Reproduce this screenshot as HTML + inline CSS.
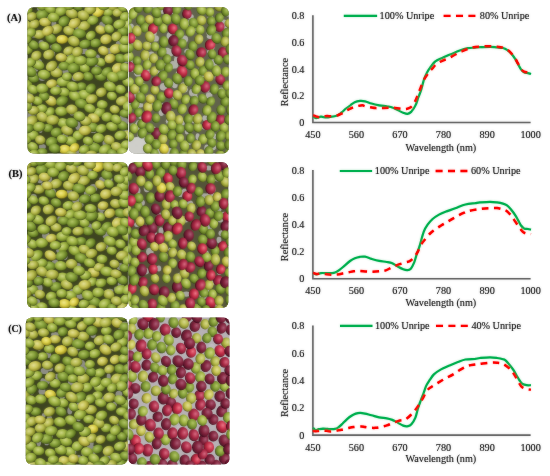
<!DOCTYPE html>
<html><head><meta charset="utf-8"><style>
html,body{margin:0;padding:0;background:#fff;}
body{width:550px;height:476px;overflow:hidden;position:relative;}
svg{position:absolute;left:0;top:0;display:block;will-change:transform;}

text{font-family:"Liberation Serif",serif;font-size:10.2px;fill:#2e2e2e;stroke:#2e2e2e;stroke-width:0.12px;}
</style></head><body>
<svg width="550" height="476" viewBox="0 0 550 476">
<defs>
<radialGradient id="gA" cx="0.42" cy="0.38" r="0.62"><stop offset="0" stop-color="#ccd684"/><stop offset="0.5" stop-color="#a2b646"/><stop offset="0.85" stop-color="#728628"/><stop offset="1" stop-color="#465418"/></radialGradient>
<radialGradient id="gB" cx="0.42" cy="0.38" r="0.62"><stop offset="0" stop-color="#b0c466"/><stop offset="0.5" stop-color="#849e38"/><stop offset="0.85" stop-color="#5c7222"/><stop offset="1" stop-color="#3a4a14"/></radialGradient>
<radialGradient id="gC" cx="0.42" cy="0.38" r="0.62"><stop offset="0" stop-color="#d8d88e"/><stop offset="0.5" stop-color="#b8bc50"/><stop offset="0.85" stop-color="#868c2a"/><stop offset="1" stop-color="#545a18"/></radialGradient>
<radialGradient id="gD" cx="0.42" cy="0.38" r="0.62"><stop offset="0" stop-color="#e2de94"/><stop offset="0.5" stop-color="#c8c456"/><stop offset="0.85" stop-color="#98942e"/><stop offset="1" stop-color="#626018"/></radialGradient>
<radialGradient id="gE" cx="0.42" cy="0.38" r="0.62"><stop offset="0" stop-color="#f0e88a"/><stop offset="0.5" stop-color="#dcd04a"/><stop offset="0.85" stop-color="#aa9e26"/><stop offset="1" stop-color="#6e6618"/></radialGradient>
<radialGradient id="rA" cx="0.42" cy="0.34" r="0.62"><stop offset="0" stop-color="#d66a80"/><stop offset="0.5" stop-color="#ac2c48"/><stop offset="0.85" stop-color="#801a32"/><stop offset="1" stop-color="#4e0e1c"/></radialGradient>
<radialGradient id="rB" cx="0.42" cy="0.34" r="0.62"><stop offset="0" stop-color="#aa5c74"/><stop offset="0.5" stop-color="#84263f"/><stop offset="0.85" stop-color="#60162c"/><stop offset="1" stop-color="#3e0a1a"/></radialGradient>
<radialGradient id="rC" cx="0.42" cy="0.34" r="0.62"><stop offset="0" stop-color="#ec7686"/><stop offset="0.5" stop-color="#c6304a"/><stop offset="0.85" stop-color="#941c32"/><stop offset="1" stop-color="#5a0e1c"/></radialGradient>
<filter id="bl" x="-2%" y="-2%" width="104%" height="104%"><feGaussianBlur stdDeviation="1"/></filter>
<filter id="sb" x="-1%" y="-1%" width="102%" height="102%"><feGaussianBlur stdDeviation="0.35"/></filter>
<clipPath id="cLA"><rect x="27.5" y="7.2" width="100.5" height="146.4" rx="6" ry="6"/></clipPath>
<clipPath id="cRA"><rect x="128.8" y="7.2" width="100" height="146.4" rx="6" ry="6"/></clipPath>
<clipPath id="cLB"><rect x="27.0" y="162.2" width="100.9" height="145.7" rx="6" ry="6"/></clipPath>
<clipPath id="cRB"><rect x="128.3" y="162.2" width="100" height="145.7" rx="6" ry="6"/></clipPath>
<clipPath id="cLC"><rect x="25.8" y="317.6" width="101.8" height="147" rx="6" ry="6"/></clipPath>
<clipPath id="cRC"><rect x="128.5" y="317.6" width="101" height="147" rx="6" ry="6"/></clipPath>
</defs>
<defs><g id="pLA"><rect x="25.5" y="5.2" width="104.5" height="150.4" fill="#3e4420"/><ellipse cx="122.8" cy="118.5" rx="3.1" ry="3.9" fill="#8e8e84"/><ellipse cx="125.6" cy="61.4" rx="3" ry="2.2" fill="#8e8e84"/><ellipse cx="102.1" cy="152.2" rx="2.6" ry="2.2" fill="#8e8e84"/><ellipse cx="125.7" cy="121.4" rx="2.6" ry="3.5" fill="#8e8e84"/><ellipse cx="39.6" cy="8.2" rx="2.5" ry="2.9" fill="#8e8e84"/><ellipse cx="66.6" cy="68.2" rx="2" ry="3.6" fill="#8e8e84"/><ellipse cx="76.1" cy="152.5" rx="3.1" ry="3.3" fill="#8e8e84"/><ellipse cx="41.2" cy="42.6" rx="2.6" ry="2.7" fill="#8e8e84"/><ellipse cx="52.2" cy="46.7" rx="2.1" ry="2" fill="#8e8e84"/><ellipse cx="75.1" cy="78.1" rx="3.5" ry="2.8" fill="#8e8e84"/><ellipse cx="56.1" cy="86.6" rx="3.5" ry="2" fill="#8e8e84"/><ellipse cx="126.9" cy="39.4" rx="3.9" ry="2.2" fill="#8e8e84"/><ellipse cx="42.3" cy="78.8" rx="3.2" ry="2.1" fill="#8e8e84"/><ellipse cx="53.9" cy="24" rx="2.4" ry="3.7" fill="#8e8e84"/><ellipse cx="77.6" cy="125.3" rx="2.9" ry="3.7" fill="#8e8e84"/><ellipse cx="76.1" cy="54.3" rx="2.5" ry="3.4" fill="#8e8e84"/><ellipse cx="84.4" cy="51.2" rx="3.6" ry="2.9" fill="#8e8e84"/><ellipse cx="33.3" cy="113.3" rx="3.3" ry="2.5" fill="#8e8e84"/><ellipse cx="95.2" cy="14.8" rx="2.8" ry="2.3" fill="#8e8e84"/><ellipse cx="97.9" cy="64.6" rx="3.6" ry="3.6" fill="#8e8e84"/><ellipse cx="77.7" cy="127" rx="2.1" ry="2.9" fill="#8e8e84"/><ellipse cx="54.8" cy="140.6" rx="2.5" ry="2.1" fill="#8e8e84"/><ellipse cx="49.6" cy="17.8" rx="3.3" ry="2.3" fill="#8e8e84"/><ellipse cx="38.9" cy="62.6" rx="3.1" ry="3.6" fill="#8e8e84"/><ellipse cx="42.4" cy="146.8" rx="3.5" ry="2.8" fill="#8e8e84"/><ellipse cx="111.2" cy="81.6" rx="2.3" ry="2.5" fill="#8e8e84"/><ellipse cx="59.9" cy="68.3" rx="2.9" ry="2.7" fill="#8e8e84"/><ellipse cx="53" cy="53.1" rx="2.1" ry="3.2" fill="#8e8e84"/><ellipse cx="125.1" cy="131.9" rx="3.4" ry="2.5" fill="#8e8e84"/><ellipse cx="35.6" cy="69.8" rx="2.7" ry="2.1" fill="#8e8e84"/><ellipse cx="91.7" cy="121.4" rx="3.6" ry="3.2" fill="#8e8e84"/><ellipse cx="86.7" cy="146.5" rx="3.3" ry="3" fill="#8e8e84"/><ellipse cx="91.7" cy="144.3" rx="3.9" ry="2.4" fill="#8e8e84"/><ellipse cx="62.9" cy="7.2" rx="3" ry="2.8" fill="#8e8e84"/><ellipse cx="108.5" cy="142.1" rx="3.7" ry="2.2" fill="#8e8e84"/><ellipse cx="80.9" cy="95.4" rx="3.6" ry="2.5" fill="#8e8e84"/><ellipse cx="109" cy="50.9" rx="3.9" ry="2.8" fill="#8e8e84"/><ellipse cx="98" cy="150.4" rx="2" ry="2.2" fill="#8e8e84"/><ellipse cx="107.3" cy="116.5" rx="3.9" ry="3.4" fill="#8e8e84"/><ellipse cx="34.3" cy="34.7" rx="4" ry="3" fill="#8e8e84"/><ellipse cx="74.7" cy="40.2" rx="3.2" ry="2.1" fill="#8e8e84"/><ellipse cx="44.3" cy="19.7" rx="2.9" ry="2.5" fill="#8e8e84"/><ellipse cx="63.7" cy="126.8" rx="2.3" ry="2.4" fill="#8e8e84"/><ellipse cx="72" cy="112.8" rx="2.4" ry="2.8" fill="#8e8e84"/><ellipse cx="119.8" cy="43.4" rx="4" ry="2.7" fill="#8e8e84"/><ellipse cx="65.6" cy="71.3" rx="3.2" ry="3.3" fill="#8e8e84"/><ellipse cx="105.5" cy="142.9" rx="3" ry="3.8" fill="#8e8e84"/><ellipse cx="78.7" cy="28.9" rx="3.1" ry="2.4" fill="#8e8e84"/><ellipse cx="93.4" cy="130.7" rx="3" ry="2.4" fill="#8e8e84"/><ellipse cx="96.1" cy="57.1" rx="3.8" ry="2.9" fill="#8e8e84"/><ellipse cx="100.1" cy="73" rx="2.7" ry="3.7" fill="#8e8e84"/><ellipse cx="80.8" cy="32.9" rx="3.4" ry="2.8" fill="#8e8e84"/><ellipse cx="40.6" cy="129.3" rx="2" ry="3.6" fill="#8e8e84"/><ellipse cx="114.6" cy="119.4" rx="2.2" ry="2.8" fill="#8e8e84"/><ellipse cx="78.5" cy="94.5" rx="4" ry="3" fill="#8e8e84"/><ellipse cx="29.8" cy="93.7" rx="2.9" ry="2.7" fill="#8e8e84"/><ellipse cx="33.8" cy="75.7" rx="3.6" ry="3.6" fill="#8e8e84"/><ellipse cx="106.1" cy="38.4" rx="3.7" ry="2.5" fill="#8e8e84"/><ellipse cx="59.4" cy="12.9" rx="3.7" ry="2.2" fill="#8e8e84"/><ellipse cx="27.6" cy="8.5" rx="3.7" ry="2.3" fill="#8e8e84"/><ellipse cx="29.4" cy="115.9" rx="2.3" ry="2.9" fill="#8e8e84"/><ellipse cx="65.3" cy="22" rx="2.3" ry="3.5" fill="#8e8e84"/><ellipse cx="102.3" cy="25.3" rx="3.2" ry="3.8" fill="#8e8e84"/><ellipse cx="65.1" cy="135.9" rx="2.7" ry="3.4" fill="#8e8e84"/><ellipse cx="55.4" cy="30.1" rx="3.5" ry="3.9" fill="#8e8e84"/><ellipse cx="110.6" cy="79.3" rx="3.4" ry="2.1" fill="#8e8e84"/><ellipse cx="29.3" cy="103.4" rx="2.8" ry="4" fill="#8e8e84"/><ellipse cx="78" cy="27.6" rx="2.5" ry="3.7" fill="#8e8e84"/><ellipse cx="75.2" cy="152" rx="3.2" ry="3.4" fill="#8e8e84"/><ellipse cx="69.7" cy="54.1" rx="3" ry="2.8" fill="#8e8e84"/><ellipse cx="109" cy="140" rx="5.7" ry="4.9" transform="rotate(27 109 140)" fill="url(#gC)"/><ellipse cx="48.1" cy="128.1" rx="5.2" ry="4.4" transform="rotate(-1 48.1 128.1)" fill="url(#gB)"/><ellipse cx="84.2" cy="26" rx="6.5" ry="4.9" transform="rotate(-16 84.2 26)" fill="url(#gC)"/><ellipse cx="84.2" cy="68" rx="5.9" ry="4.6" transform="rotate(28 84.2 68)" fill="url(#gA)"/><ellipse cx="56.5" cy="132.4" rx="5.8" ry="4.8" transform="rotate(-9 56.5 132.4)" fill="url(#gB)"/><ellipse cx="117.6" cy="68" rx="6.2" ry="4.9" transform="rotate(-33 117.6 68)" fill="url(#gD)"/><ellipse cx="50.2" cy="111.7" rx="5.1" ry="4.4" transform="rotate(-32 50.2 111.7)" fill="url(#gA)"/><ellipse cx="100.4" cy="76.6" rx="6" ry="4.5" transform="rotate(20 100.4 76.6)" fill="url(#gB)"/><ellipse cx="122.4" cy="125.7" rx="5.6" ry="4.6" transform="rotate(30 122.4 125.7)" fill="url(#gB)"/><ellipse cx="92.6" cy="127.3" rx="6.1" ry="4.8" transform="rotate(7 92.6 127.3)" fill="url(#gB)"/><ellipse cx="99.4" cy="112.3" rx="6.1" ry="4.8" transform="rotate(-29 99.4 112.3)" fill="url(#gA)"/><ellipse cx="64.1" cy="92.2" rx="5.9" ry="4.6" transform="rotate(15 64.1 92.2)" fill="url(#gA)"/><ellipse cx="32.6" cy="135.3" rx="6.2" ry="4.8" transform="rotate(-4 32.6 135.3)" fill="url(#gA)"/><ellipse cx="81.3" cy="86.6" rx="5.4" ry="4.3" transform="rotate(-3 81.3 86.6)" fill="url(#gB)"/><ellipse cx="51.7" cy="83.7" rx="5.7" ry="4.4" transform="rotate(-11 51.7 83.7)" fill="url(#gD)"/><ellipse cx="78.5" cy="135.3" rx="5.9" ry="5" transform="rotate(-19 78.5 135.3)" fill="url(#gA)"/><ellipse cx="70.8" cy="141" rx="6.1" ry="4.6" transform="rotate(13 70.8 141)" fill="url(#gA)"/><ellipse cx="62.2" cy="39.4" rx="6" ry="4.5" transform="rotate(0 62.2 39.4)" fill="url(#gE)"/><ellipse cx="42" cy="108.6" rx="5.5" ry="4.4" transform="rotate(7 42 108.6)" fill="url(#gA)"/><ellipse cx="93.7" cy="118.1" rx="6.2" ry="4.7" transform="rotate(23 93.7 118.1)" fill="url(#gD)"/><ellipse cx="120.5" cy="58.5" rx="6" ry="4.6" transform="rotate(20 120.5 58.5)" fill="url(#gB)"/><ellipse cx="50.8" cy="100.9" rx="6.2" ry="4.8" transform="rotate(33 50.8 100.9)" fill="url(#gD)"/><ellipse cx="68.9" cy="30.8" rx="5.8" ry="4.8" transform="rotate(18 68.9 30.8)" fill="url(#gC)"/><ellipse cx="108.4" cy="11.9" rx="5.7" ry="4.6" transform="rotate(-9 108.4 11.9)" fill="url(#gA)"/><ellipse cx="101.4" cy="128.6" rx="5.6" ry="4.5" transform="rotate(-17 101.4 128.6)" fill="url(#gA)"/><ellipse cx="95.6" cy="43.2" rx="5.7" ry="4.6" transform="rotate(-6 95.6 43.2)" fill="url(#gB)"/><ellipse cx="107.1" cy="20.3" rx="5.9" ry="4.8" transform="rotate(26 107.1 20.3)" fill="url(#gB)"/><ellipse cx="44.1" cy="96.4" rx="5.4" ry="4.6" transform="rotate(9 44.1 96.4)" fill="url(#gB)"/><ellipse cx="65.1" cy="149.6" rx="6.1" ry="4.9" transform="rotate(8 65.1 149.6)" fill="url(#gE)"/><ellipse cx="39.3" cy="34.6" rx="6" ry="4.6" transform="rotate(0 39.3 34.6)" fill="url(#gC)"/><ellipse cx="128.1" cy="81.8" rx="5.9" ry="5" transform="rotate(20 128.1 81.8)" fill="url(#gA)"/><ellipse cx="100.4" cy="29.8" rx="5.3" ry="4.4" transform="rotate(27 100.4 29.8)" fill="url(#gD)"/><ellipse cx="42.2" cy="14.5" rx="6.6" ry="5" transform="rotate(-9 42.2 14.5)" fill="url(#gB)"/><ellipse cx="113.5" cy="5.4" rx="5.9" ry="4.9" transform="rotate(-25 113.5 5.4)" fill="url(#gC)"/><ellipse cx="70.8" cy="59.4" rx="5.9" ry="4.5" transform="rotate(-33 70.8 59.4)" fill="url(#gA)"/><ellipse cx="68.8" cy="50.8" rx="5.7" ry="4.3" transform="rotate(-21 68.8 50.8)" fill="url(#gC)"/><ellipse cx="94.7" cy="147.7" rx="6.8" ry="5" transform="rotate(19 94.7 147.7)" fill="url(#gB)"/><ellipse cx="98.5" cy="11.7" rx="6.3" ry="5" transform="rotate(-27 98.5 11.7)" fill="url(#gE)"/><ellipse cx="86" cy="121" rx="5.9" ry="4.7" transform="rotate(1 86 121)" fill="url(#gC)"/><ellipse cx="26.6" cy="10.2" rx="6" ry="4.7" transform="rotate(-2 26.6 10.2)" fill="url(#gA)"/><ellipse cx="116.6" cy="146.7" rx="5.8" ry="4.6" transform="rotate(15 116.6 146.7)" fill="url(#gC)"/><ellipse cx="114.7" cy="109.5" rx="5.1" ry="4.3" transform="rotate(17 114.7 109.5)" fill="url(#gC)"/><ellipse cx="84.5" cy="94.8" rx="6.5" ry="4.9" transform="rotate(12 84.5 94.8)" fill="url(#gA)"/><ellipse cx="38.4" cy="65.1" rx="6.2" ry="4.8" transform="rotate(23 38.4 65.1)" fill="url(#gA)"/><ellipse cx="126.2" cy="144.8" rx="5.5" ry="4.6" transform="rotate(-5 126.2 144.8)" fill="url(#gA)"/><ellipse cx="74.6" cy="23.1" rx="6.6" ry="5" transform="rotate(-32 74.6 23.1)" fill="url(#gD)"/><ellipse cx="25.6" cy="24.8" rx="6.2" ry="4.8" transform="rotate(32 25.6 24.8)" fill="url(#gC)"/><ellipse cx="48.9" cy="54.6" rx="5.8" ry="5.1" transform="rotate(-19 48.9 54.6)" fill="url(#gC)"/><ellipse cx="90.2" cy="9.6" rx="6" ry="4.8" transform="rotate(-11 90.2 9.6)" fill="url(#gC)"/><ellipse cx="127.8" cy="24.8" rx="6.1" ry="4.9" transform="rotate(10 127.8 24.8)" fill="url(#gA)"/><ellipse cx="74.6" cy="96.1" rx="6.4" ry="4.9" transform="rotate(34 74.6 96.1)" fill="url(#gA)"/><ellipse cx="45" cy="22.2" rx="6.1" ry="4.5" transform="rotate(7 45 22.2)" fill="url(#gD)"/><ellipse cx="34.5" cy="24.1" rx="5.4" ry="4.5" transform="rotate(-26 34.5 24.1)" fill="url(#gC)"/><ellipse cx="63.4" cy="123.1" rx="6.4" ry="4.9" transform="rotate(18 63.4 123.1)" fill="url(#gA)"/><ellipse cx="63.2" cy="81.8" rx="6.7" ry="5" transform="rotate(-1 63.2 81.8)" fill="url(#gA)"/><ellipse cx="44.1" cy="74.7" rx="6.4" ry="5" transform="rotate(8 44.1 74.7)" fill="url(#gA)"/><ellipse cx="62.2" cy="139.1" rx="5.5" ry="4.5" transform="rotate(7 62.2 139.1)" fill="url(#gA)"/><ellipse cx="25.9" cy="84.7" rx="6.4" ry="5" transform="rotate(-4 25.9 84.7)" fill="url(#gA)"/><ellipse cx="103.6" cy="5.3" rx="6" ry="5.1" transform="rotate(6 103.6 5.3)" fill="url(#gA)"/><ellipse cx="84.2" cy="149.6" rx="5.6" ry="4.4" transform="rotate(-15 84.2 149.6)" fill="url(#gA)"/><ellipse cx="32.6" cy="89.5" rx="5.6" ry="4.5" transform="rotate(34 32.6 89.5)" fill="url(#gA)"/><ellipse cx="31.7" cy="121" rx="6.4" ry="5.1" transform="rotate(-30 31.7 121)" fill="url(#gC)"/><ellipse cx="79.4" cy="33.6" rx="6.7" ry="5" transform="rotate(8 79.4 33.6)" fill="url(#gB)"/><ellipse cx="28.1" cy="128.5" rx="6.1" ry="4.6" transform="rotate(-14 28.1 128.5)" fill="url(#gB)"/><ellipse cx="123.1" cy="31.6" rx="5.8" ry="4.6" transform="rotate(10 123.1 31.6)" fill="url(#gB)"/><ellipse cx="88" cy="141" rx="5.3" ry="4.4" transform="rotate(21 88 141)" fill="url(#gA)"/><ellipse cx="107.1" cy="117.1" rx="5.7" ry="4.8" transform="rotate(-4 107.1 117.1)" fill="url(#gA)"/><ellipse cx="25.5" cy="152.8" rx="5.6" ry="4.4" transform="rotate(-21 25.5 152.8)" fill="url(#gA)"/><ellipse cx="41.7" cy="5.9" rx="5.3" ry="4.5" transform="rotate(17 41.7 5.9)" fill="url(#gA)"/><ellipse cx="92.8" cy="20.3" rx="5.8" ry="4.7" transform="rotate(-7 92.8 20.3)" fill="url(#gA)"/><ellipse cx="115.7" cy="48.9" rx="6.3" ry="4.9" transform="rotate(-18 115.7 48.9)" fill="url(#gD)"/><ellipse cx="56.5" cy="72.8" rx="6.1" ry="4.9" transform="rotate(11 56.5 72.8)" fill="url(#gC)"/><ellipse cx="90.9" cy="88.5" rx="5.6" ry="4.6" transform="rotate(-33 90.9 88.5)" fill="url(#gB)"/><ellipse cx="42.2" cy="117.1" rx="6.1" ry="4.9" transform="rotate(32 42.2 117.1)" fill="url(#gC)"/><ellipse cx="33.6" cy="110.5" rx="5.8" ry="4.4" transform="rotate(-5 33.6 110.5)" fill="url(#gC)"/><ellipse cx="44.1" cy="46" rx="5.5" ry="4.4" transform="rotate(23 44.1 46)" fill="url(#gA)"/><ellipse cx="117.6" cy="12.6" rx="5.1" ry="4.3" transform="rotate(-13 117.6 12.6)" fill="url(#gC)"/><ellipse cx="128.6" cy="57.7" rx="5.8" ry="4.5" transform="rotate(3 128.6 57.7)" fill="url(#gA)"/><ellipse cx="111.9" cy="96.1" rx="5.2" ry="4.4" transform="rotate(23 111.9 96.1)" fill="url(#gA)"/><ellipse cx="123.1" cy="153" rx="6.6" ry="5" transform="rotate(30 123.1 153)" fill="url(#gA)"/><ellipse cx="128.6" cy="135.1" rx="5.9" ry="4.5" transform="rotate(18 128.6 135.1)" fill="url(#gC)"/><ellipse cx="32.6" cy="146.7" rx="5.7" ry="4.5" transform="rotate(28 32.6 146.7)" fill="url(#gA)"/><ellipse cx="50.8" cy="38.4" rx="5.9" ry="4.7" transform="rotate(32 50.8 38.4)" fill="url(#gB)"/><ellipse cx="85.1" cy="130.5" rx="6.4" ry="5" transform="rotate(-4 85.1 130.5)" fill="url(#gD)"/><ellipse cx="83.2" cy="15.5" rx="6.2" ry="5.1" transform="rotate(23 83.2 15.5)" fill="url(#gC)"/><ellipse cx="64.1" cy="66.1" rx="5.8" ry="4.4" transform="rotate(1 64.1 66.1)" fill="url(#gB)"/><ellipse cx="67" cy="130.5" rx="6.3" ry="4.7" transform="rotate(27 67 130.5)" fill="url(#gC)"/><ellipse cx="26.8" cy="50.2" rx="6.2" ry="4.7" transform="rotate(-8 26.8 50.2)" fill="url(#gA)"/><ellipse cx="61.3" cy="111.4" rx="6.2" ry="4.9" transform="rotate(8 61.3 111.4)" fill="url(#gA)"/><ellipse cx="88" cy="76.6" rx="5.5" ry="4.5" transform="rotate(20 88 76.6)" fill="url(#gB)"/><ellipse cx="25.8" cy="139.7" rx="5.4" ry="4.6" transform="rotate(12 25.8 139.7)" fill="url(#gA)"/><ellipse cx="73.7" cy="68" rx="6.5" ry="5.1" transform="rotate(-10 73.7 68)" fill="url(#gB)"/><ellipse cx="100.4" cy="62.3" rx="5.1" ry="4.4" transform="rotate(33 100.4 62.3)" fill="url(#gA)"/><ellipse cx="129.6" cy="96.8" rx="5.1" ry="4.4" transform="rotate(20 129.6 96.8)" fill="url(#gA)"/><ellipse cx="91.2" cy="155.2" rx="6.3" ry="4.7" transform="rotate(-10 91.2 155.2)" fill="url(#gC)"/><ellipse cx="67" cy="76.6" rx="5.1" ry="4.3" transform="rotate(-2 67 76.6)" fill="url(#gA)"/><ellipse cx="72.7" cy="86.6" rx="6.3" ry="4.9" transform="rotate(22 72.7 86.6)" fill="url(#gA)"/><ellipse cx="78.5" cy="76.6" rx="5.9" ry="4.5" transform="rotate(-4 78.5 76.6)" fill="url(#gC)"/><ellipse cx="91.8" cy="61.3" rx="6.8" ry="5.1" transform="rotate(-10 91.8 61.3)" fill="url(#gB)"/><ellipse cx="123.8" cy="7.3" rx="5.8" ry="4.5" transform="rotate(-8 123.8 7.3)" fill="url(#gA)"/><ellipse cx="90.9" cy="53.7" rx="6" ry="4.5" transform="rotate(8 90.9 53.7)" fill="url(#gA)"/><ellipse cx="85.1" cy="44.1" rx="6" ry="4.5" transform="rotate(-12 85.1 44.1)" fill="url(#gB)"/><ellipse cx="106.1" cy="39.4" rx="5.9" ry="5" transform="rotate(-12 106.1 39.4)" fill="url(#gD)"/><ellipse cx="56.5" cy="28.9" rx="6.2" ry="4.8" transform="rotate(-20 56.5 28.9)" fill="url(#gC)"/><ellipse cx="61.3" cy="57.5" rx="5.9" ry="4.4" transform="rotate(7 61.3 57.5)" fill="url(#gD)"/><ellipse cx="71.5" cy="155.2" rx="6.1" ry="4.6" transform="rotate(12 71.5 155.2)" fill="url(#gC)"/><ellipse cx="120.5" cy="135.3" rx="6.2" ry="4.6" transform="rotate(-12 120.5 135.3)" fill="url(#gA)"/><ellipse cx="122.4" cy="100.9" rx="6.5" ry="4.8" transform="rotate(-12 122.4 100.9)" fill="url(#gC)"/><ellipse cx="80.4" cy="60.4" rx="6.6" ry="5" transform="rotate(8 80.4 60.4)" fill="url(#gA)"/><ellipse cx="124.3" cy="48" rx="6" ry="4.8" transform="rotate(21 124.3 48)" fill="url(#gA)"/><ellipse cx="125.2" cy="40.3" rx="6.1" ry="4.7" transform="rotate(-2 125.2 40.3)" fill="url(#gA)"/><ellipse cx="81.3" cy="103.8" rx="6.6" ry="4.9" transform="rotate(24 81.3 103.8)" fill="url(#gB)"/><ellipse cx="125.2" cy="113.3" rx="5.7" ry="4.4" transform="rotate(2 125.2 113.3)" fill="url(#gB)"/><ellipse cx="30.7" cy="32.7" rx="5.5" ry="4.7" transform="rotate(-20 30.7 32.7)" fill="url(#gA)"/><ellipse cx="125.2" cy="16.5" rx="5.4" ry="4.5" transform="rotate(-30 125.2 16.5)" fill="url(#gA)"/><ellipse cx="52.7" cy="120" rx="6.6" ry="5.1" transform="rotate(1 52.7 120)" fill="url(#gC)"/><ellipse cx="62.2" cy="100.9" rx="6.4" ry="4.8" transform="rotate(-23 62.2 100.9)" fill="url(#gB)"/><ellipse cx="61.3" cy="10.7" rx="6.3" ry="5" transform="rotate(-22 61.3 10.7)" fill="url(#gA)"/><ellipse cx="33.6" cy="78.5" rx="5.6" ry="4.4" transform="rotate(15 33.6 78.5)" fill="url(#gB)"/><ellipse cx="110" cy="58.5" rx="5.6" ry="4.8" transform="rotate(-18 110 58.5)" fill="url(#gD)"/><ellipse cx="105.2" cy="149.6" rx="6.5" ry="5" transform="rotate(-25 105.2 149.6)" fill="url(#gA)"/><ellipse cx="30.7" cy="71.8" rx="6.2" ry="5" transform="rotate(34 30.7 71.8)" fill="url(#gB)"/><ellipse cx="125.2" cy="68" rx="5.6" ry="4.7" transform="rotate(33 125.2 68)" fill="url(#gA)"/><ellipse cx="110" cy="86.6" rx="6.6" ry="4.9" transform="rotate(27 110 86.6)" fill="url(#gA)"/><ellipse cx="91.8" cy="99" rx="6" ry="4.7" transform="rotate(-17 91.8 99)" fill="url(#gC)"/><ellipse cx="77.7" cy="6.4" rx="5.3" ry="4.4" transform="rotate(31 77.7 6.4)" fill="url(#gB)"/><ellipse cx="120.5" cy="89.5" rx="5.4" ry="4.6" transform="rotate(23 120.5 89.5)" fill="url(#gA)"/><ellipse cx="71.8" cy="122.9" rx="6.5" ry="5.1" transform="rotate(18 71.8 122.9)" fill="url(#gB)"/><ellipse cx="109" cy="28.9" rx="5.2" ry="4.4" transform="rotate(28 109 28.9)" fill="url(#gA)"/><ellipse cx="42.2" cy="152.5" rx="5.5" ry="4.4" transform="rotate(-6 42.2 152.5)" fill="url(#gB)"/><ellipse cx="103.3" cy="50.8" rx="5.5" ry="4.5" transform="rotate(29 103.3 50.8)" fill="url(#gD)"/><ellipse cx="47.9" cy="30.8" rx="6.2" ry="4.7" transform="rotate(-30 47.9 30.8)" fill="url(#gD)"/><ellipse cx="34.1" cy="154.7" rx="5.8" ry="5" transform="rotate(-11 34.1 154.7)" fill="url(#gA)"/><ellipse cx="37.4" cy="100.9" rx="5.3" ry="4.4" transform="rotate(27 37.4 100.9)" fill="url(#gA)"/><ellipse cx="33.6" cy="45.1" rx="5.6" ry="4.5" transform="rotate(29 33.6 45.1)" fill="url(#gB)"/><ellipse cx="50.3" cy="9.1" rx="5.6" ry="4.4" transform="rotate(16 50.3 9.1)" fill="url(#gA)"/><ellipse cx="73.7" cy="41.3" rx="6.3" ry="5.1" transform="rotate(31 73.7 41.3)" fill="url(#gC)"/><ellipse cx="51.7" cy="142" rx="6" ry="5.1" transform="rotate(-15 51.7 142)" fill="url(#gB)"/><ellipse cx="111.9" cy="126.7" rx="6.1" ry="4.6" transform="rotate(19 111.9 126.7)" fill="url(#gA)"/><ellipse cx="116.6" cy="36.5" rx="5.4" ry="4.7" transform="rotate(-29 116.6 36.5)" fill="url(#gC)"/><ellipse cx="96.6" cy="70.9" rx="5.5" ry="4.4" transform="rotate(0 96.6 70.9)" fill="url(#gB)"/><ellipse cx="122" cy="75.5" rx="6.7" ry="5" transform="rotate(-7 122 75.5)" fill="url(#gB)"/><ellipse cx="112" cy="154" rx="5.7" ry="4.9" transform="rotate(27 112 154)" fill="url(#gB)"/><ellipse cx="71.8" cy="13.6" rx="6.3" ry="4.9" transform="rotate(22 71.8 13.6)" fill="url(#gC)"/><ellipse cx="119.5" cy="24.1" rx="6.4" ry="4.7" transform="rotate(-18 119.5 24.1)" fill="url(#gA)"/><ellipse cx="39.3" cy="126.7" rx="6.1" ry="5" transform="rotate(-7 39.3 126.7)" fill="url(#gA)"/><ellipse cx="25.7" cy="105.6" rx="6.6" ry="4.9" transform="rotate(29 25.7 105.6)" fill="url(#gA)"/><ellipse cx="69.2" cy="5.6" rx="5.3" ry="4.4" transform="rotate(-8 69.2 5.6)" fill="url(#gA)"/><ellipse cx="90.9" cy="35.5" rx="5.3" ry="4.4" transform="rotate(-33 90.9 35.5)" fill="url(#gA)"/><ellipse cx="30.7" cy="62.3" rx="5.6" ry="4.6" transform="rotate(-30 30.7 62.3)" fill="url(#gA)"/><ellipse cx="116.1" cy="119.5" rx="5.8" ry="4.5" transform="rotate(33 116.1 119.5)" fill="url(#gA)"/><ellipse cx="64.1" cy="21.2" rx="6" ry="5" transform="rotate(-31 64.1 21.2)" fill="url(#gB)"/><ellipse cx="51.7" cy="66.1" rx="6.2" ry="4.8" transform="rotate(-33 51.7 66.1)" fill="url(#gC)"/><ellipse cx="101.4" cy="92.3" rx="5.5" ry="4.7" transform="rotate(-20 101.4 92.3)" fill="url(#gC)"/><ellipse cx="77.5" cy="51.8" rx="5.6" ry="4.8" transform="rotate(-29 77.5 51.8)" fill="url(#gC)"/><ellipse cx="71.8" cy="109.5" rx="5.9" ry="5" transform="rotate(8 71.8 109.5)" fill="url(#gC)"/><ellipse cx="40.3" cy="140" rx="5.3" ry="4.6" transform="rotate(16 40.3 140)" fill="url(#gC)"/><ellipse cx="36.5" cy="55.6" rx="5.5" ry="4.7" transform="rotate(-30 36.5 55.6)" fill="url(#gC)"/><ellipse cx="31.7" cy="16.5" rx="5.4" ry="4.3" transform="rotate(-18 31.7 16.5)" fill="url(#gC)"/><ellipse cx="129.1" cy="105.7" rx="6.5" ry="4.9" transform="rotate(-23 129.1 105.7)" fill="url(#gA)"/><ellipse cx="107.1" cy="71.8" rx="5.8" ry="4.4" transform="rotate(-32 107.1 71.8)" fill="url(#gB)"/><ellipse cx="55.9" cy="90.8" rx="5.8" ry="4.4" transform="rotate(-1 55.9 90.8)" fill="url(#gA)"/><ellipse cx="98.5" cy="138.1" rx="6" ry="5" transform="rotate(2 98.5 138.1)" fill="url(#gA)"/><ellipse cx="42.2" cy="88.5" rx="6.3" ry="5" transform="rotate(3 42.2 88.5)" fill="url(#gA)"/><ellipse cx="74.6" cy="147.7" rx="5.2" ry="4.4" transform="rotate(-34 74.6 147.7)" fill="url(#gE)"/><ellipse cx="79.4" cy="116.2" rx="6" ry="4.9" transform="rotate(15 79.4 116.2)" fill="url(#gA)"/><ellipse cx="53.6" cy="17.4" rx="6" ry="4.9" transform="rotate(6 53.6 17.4)" fill="url(#gA)"/><ellipse cx="89.9" cy="108.5" rx="5.9" ry="4.5" transform="rotate(22 89.9 108.5)" fill="url(#gA)"/><ellipse cx="56.5" cy="48" rx="5.6" ry="4.4" transform="rotate(26 56.5 48)" fill="url(#gB)"/><ellipse cx="102.3" cy="104.7" rx="5.5" ry="4.6" transform="rotate(6 102.3 104.7)" fill="url(#gA)"/><ellipse cx="29.3" cy="98.4" rx="5.7" ry="4.8" transform="rotate(28 29.3 98.4)" fill="url(#gC)"/><ellipse cx="26.2" cy="39.6" rx="5.8" ry="4.7" transform="rotate(-22 26.2 39.6)" fill="url(#gA)"/><ellipse cx="112.8" cy="77.2" rx="6.4" ry="5.1" transform="rotate(26 112.8 77.2)" fill="url(#gA)"/><ellipse cx="54.6" cy="148.6" rx="5.9" ry="4.9" transform="rotate(15 54.6 148.6)" fill="url(#gB)"/></g><g id="pRA"><rect x="126.80000000000001" y="5.2" width="104" height="150.4" fill="#62644c"/><ellipse cx="170.4" cy="114.2" rx="3.7" ry="3.4" fill="#b2b2aa"/><ellipse cx="132.6" cy="60.9" rx="2.3" ry="2.7" fill="#b2b2aa"/><ellipse cx="190.8" cy="22.6" rx="3" ry="3.6" fill="#b2b2aa"/><ellipse cx="154" cy="141.8" rx="3.6" ry="3.9" fill="#b2b2aa"/><ellipse cx="186.9" cy="131.8" rx="2.1" ry="2.6" fill="#b2b2aa"/><ellipse cx="165.8" cy="130.2" rx="2.5" ry="2.3" fill="#b2b2aa"/><ellipse cx="129.8" cy="142.3" rx="2.5" ry="2.6" fill="#b2b2aa"/><ellipse cx="163.7" cy="86.7" rx="3.9" ry="3.8" fill="#b2b2aa"/><ellipse cx="207.1" cy="148.2" rx="2.9" ry="3.8" fill="#b2b2aa"/><ellipse cx="146.2" cy="58.4" rx="3.5" ry="3.2" fill="#b2b2aa"/><ellipse cx="153.7" cy="129" rx="2.3" ry="2.6" fill="#b2b2aa"/><ellipse cx="131.3" cy="105" rx="2.5" ry="3.5" fill="#b2b2aa"/><ellipse cx="214.1" cy="64.5" rx="3.2" ry="3.8" fill="#b2b2aa"/><ellipse cx="200.3" cy="70.6" rx="2.1" ry="3.4" fill="#b2b2aa"/><ellipse cx="200.4" cy="20.9" rx="2.2" ry="3.3" fill="#b2b2aa"/><ellipse cx="174.7" cy="65.5" rx="3.5" ry="3.1" fill="#b2b2aa"/><ellipse cx="147" cy="71.6" rx="3.5" ry="2.6" fill="#b2b2aa"/><ellipse cx="180.4" cy="70.2" rx="2.4" ry="2.9" fill="#b2b2aa"/><ellipse cx="163.9" cy="63.5" rx="3.5" ry="2.5" fill="#b2b2aa"/><ellipse cx="174.2" cy="64.8" rx="3.7" ry="3.2" fill="#b2b2aa"/><ellipse cx="195.5" cy="27.8" rx="2.5" ry="3.1" fill="#b2b2aa"/><ellipse cx="210.4" cy="17.8" rx="2.9" ry="2.9" fill="#b2b2aa"/><ellipse cx="161.4" cy="112.2" rx="2.7" ry="3.7" fill="#b2b2aa"/><ellipse cx="208.7" cy="32.8" rx="2.3" ry="2.6" fill="#b2b2aa"/><ellipse cx="171.2" cy="150.8" rx="3.6" ry="2.9" fill="#b2b2aa"/><ellipse cx="167.5" cy="50.7" rx="2.9" ry="3" fill="#b2b2aa"/><ellipse cx="130.5" cy="13.4" rx="2.9" ry="2.1" fill="#b2b2aa"/><ellipse cx="184.2" cy="85.2" rx="3.9" ry="3" fill="#b2b2aa"/><ellipse cx="130.5" cy="27.5" rx="3.6" ry="3.9" fill="#b2b2aa"/><ellipse cx="169.1" cy="121.2" rx="3.3" ry="3" fill="#b2b2aa"/><ellipse cx="184.7" cy="89.6" rx="3.2" ry="2.9" fill="#b2b2aa"/><ellipse cx="226" cy="100.3" rx="2.9" ry="2.6" fill="#b2b2aa"/><ellipse cx="136.5" cy="106.8" rx="2.7" ry="3" fill="#b2b2aa"/><ellipse cx="218.4" cy="77.5" rx="3.8" ry="3.5" fill="#b2b2aa"/><ellipse cx="224.1" cy="27.4" rx="3.2" ry="3.5" fill="#b2b2aa"/><ellipse cx="228.5" cy="14.1" rx="3.2" ry="2.6" fill="#b2b2aa"/><ellipse cx="155.5" cy="38.4" rx="3.4" ry="3.2" fill="#b2b2aa"/><ellipse cx="195" cy="94.4" rx="2.4" ry="3.2" fill="#b2b2aa"/><ellipse cx="155.2" cy="8.2" rx="2.4" ry="3.3" fill="#b2b2aa"/><ellipse cx="154.5" cy="32.2" rx="2.3" ry="3.7" fill="#b2b2aa"/><ellipse cx="197.6" cy="136.6" rx="2" ry="3.3" fill="#b2b2aa"/><ellipse cx="160.7" cy="68.1" rx="3" ry="2.6" fill="#b2b2aa"/><ellipse cx="140.5" cy="105.2" rx="2.8" ry="2.2" fill="#b2b2aa"/><ellipse cx="223.6" cy="22.8" rx="3.3" ry="3.2" fill="#b2b2aa"/><ellipse cx="189.1" cy="142.1" rx="2.6" ry="2.9" fill="#b2b2aa"/><ellipse cx="193.3" cy="116.7" rx="2.2" ry="3.3" fill="#b2b2aa"/><ellipse cx="213.2" cy="136.4" rx="3.6" ry="3.1" fill="#b2b2aa"/><ellipse cx="138.1" cy="73.3" rx="3.9" ry="3.4" fill="#b2b2aa"/><ellipse cx="133.6" cy="43.3" rx="3.3" ry="2.7" fill="#b2b2aa"/><ellipse cx="210.2" cy="36.6" rx="3.4" ry="2.3" fill="#b2b2aa"/><ellipse cx="224.1" cy="49.6" rx="2.7" ry="2.2" fill="#b2b2aa"/><ellipse cx="185.1" cy="24.2" rx="2.3" ry="2.8" fill="#b2b2aa"/><ellipse cx="144.5" cy="139.2" rx="2.6" ry="2.4" fill="#b2b2aa"/><ellipse cx="137.2" cy="28.1" rx="2.1" ry="2.9" fill="#b2b2aa"/><ellipse cx="226.3" cy="95.5" rx="3.9" ry="3.2" fill="#b2b2aa"/><ellipse cx="168.9" cy="151.9" rx="2.6" ry="3.8" fill="#b2b2aa"/><ellipse cx="132.5" cy="126.5" rx="2.3" ry="2.9" fill="#b2b2aa"/><ellipse cx="182.6" cy="122.9" rx="2.2" ry="2.6" fill="#b2b2aa"/><ellipse cx="194.7" cy="98.1" rx="3.7" ry="2.4" fill="#b2b2aa"/><ellipse cx="205.8" cy="83.4" rx="2.1" ry="2" fill="#b2b2aa"/><ellipse cx="174.3" cy="11.6" rx="2.7" ry="3.4" fill="#b2b2aa"/><ellipse cx="137" cy="148.2" rx="2.5" ry="3.9" fill="#b2b2aa"/><ellipse cx="174.5" cy="97.5" rx="2" ry="2.2" fill="#b2b2aa"/><ellipse cx="178.9" cy="73.4" rx="3.2" ry="2.7" fill="#b2b2aa"/><ellipse cx="211.5" cy="47.4" rx="3" ry="3" fill="#b2b2aa"/><ellipse cx="209.1" cy="95.4" rx="3.3" ry="3.2" fill="#b2b2aa"/><ellipse cx="222" cy="73.4" rx="2.8" ry="2.6" fill="#b2b2aa"/><ellipse cx="176.6" cy="56.6" rx="2.1" ry="2.8" fill="#b2b2aa"/><ellipse cx="213.3" cy="61.5" rx="2.4" ry="2.6" fill="#b2b2aa"/><ellipse cx="154.5" cy="11.5" rx="3.1" ry="2.2" fill="#b2b2aa"/><ellipse cx="172.9" cy="64.8" rx="3" ry="3.7" fill="#b2b2aa"/><ellipse cx="148.7" cy="54.1" rx="2.1" ry="2.3" fill="#b2b2aa"/><ellipse cx="133.7" cy="29.5" rx="3.7" ry="2.7" fill="#b2b2aa"/><ellipse cx="158.1" cy="152.4" rx="2.5" ry="4" fill="#b2b2aa"/><ellipse cx="157.1" cy="69.7" rx="2.9" ry="4" fill="#b2b2aa"/><ellipse cx="129.6" cy="55.8" rx="3.2" ry="3.2" fill="#b2b2aa"/><ellipse cx="190.4" cy="16.6" rx="3.3" ry="2.7" fill="#b2b2aa"/><ellipse cx="184.4" cy="39.2" rx="3.7" ry="3.7" fill="#b2b2aa"/><ellipse cx="169.2" cy="35.9" rx="2.6" ry="3.6" fill="#b2b2aa"/><ellipse cx="148.5" cy="97.9" rx="2.7" ry="3.2" fill="#b2b2aa"/><ellipse cx="170.4" cy="52.8" rx="3.3" ry="3.8" fill="#b2b2aa"/><ellipse cx="139.7" cy="134.7" rx="2.4" ry="3.5" fill="#b2b2aa"/><ellipse cx="202.2" cy="74.6" rx="2.5" ry="2.9" fill="#b2b2aa"/><ellipse cx="151.3" cy="54.4" rx="3.1" ry="2.9" fill="#b2b2aa"/><ellipse cx="150.3" cy="105.6" rx="3.2" ry="2.9" fill="#b2b2aa"/><ellipse cx="162.5" cy="105.9" rx="2.8" ry="2.6" fill="#b2b2aa"/><ellipse cx="140.7" cy="116.8" rx="2.5" ry="2.3" fill="#b2b2aa"/><ellipse cx="201.8" cy="84.8" rx="3.4" ry="3.6" fill="#b2b2aa"/><ellipse cx="205.4" cy="118.3" rx="3.1" ry="3" fill="#b2b2aa"/><ellipse cx="191.6" cy="92.5" rx="2.5" ry="3.5" fill="#b2b2aa"/><ellipse cx="174.8" cy="84.5" rx="2.9" ry="3.8" fill="#b2b2aa"/><ellipse cx="210.4" cy="51.6" rx="3.3" ry="2.3" fill="#b2b2aa"/><ellipse cx="176" cy="60.1" rx="2" ry="3.2" fill="#b2b2aa"/><ellipse cx="213.4" cy="146.8" rx="2.7" ry="3.4" fill="#b2b2aa"/><ellipse cx="149" cy="45.2" rx="2.3" ry="3.2" fill="#b2b2aa"/><ellipse cx="169.7" cy="36.9" rx="2.1" ry="3" fill="#b2b2aa"/><ellipse cx="204.1" cy="126" rx="2.6" ry="3.6" fill="#b2b2aa"/><ellipse cx="188.2" cy="51.4" rx="3.9" ry="2.7" fill="#b2b2aa"/><ellipse cx="162.1" cy="11.7" rx="2.1" ry="2.2" fill="#b2b2aa"/><ellipse cx="140.1" cy="122.5" rx="3.9" ry="2.4" fill="#b2b2aa"/><ellipse cx="156.9" cy="105" rx="2.5" ry="3.1" fill="#b2b2aa"/><ellipse cx="143.4" cy="86.5" rx="2.7" ry="3.4" fill="#b2b2aa"/><ellipse cx="132" cy="36.8" rx="3.9" ry="2.7" fill="#b2b2aa"/><ellipse cx="136.1" cy="93.9" rx="2.1" ry="3.9" fill="#b2b2aa"/><ellipse cx="138.3" cy="126" rx="4" ry="3.9" fill="#b2b2aa"/><ellipse cx="194.9" cy="121" rx="3.6" ry="2.3" fill="#b2b2aa"/><ellipse cx="221.5" cy="91.5" rx="3.3" ry="3.9" fill="#b2b2aa"/><ellipse cx="131.4" cy="68.9" rx="3" ry="2.9" fill="#b2b2aa"/><ellipse cx="139.4" cy="90.8" rx="2" ry="3" fill="#b2b2aa"/><ellipse cx="206.8" cy="89.9" rx="2.7" ry="2.5" fill="#b2b2aa"/><ellipse cx="137" cy="147" rx="12" ry="10" fill="#cfcfcb"/><ellipse cx="128.5" cy="150" rx="9" ry="9" fill="#cfcfcb"/><ellipse cx="201.2" cy="52.6" rx="5.4" ry="5.1" transform="rotate(101 201.2 52.6)" fill="url(#rA)"/><ellipse cx="145.6" cy="75.5" rx="5.9" ry="4.8" transform="rotate(66 145.6 75.5)" fill="url(#rC)"/><ellipse cx="182.1" cy="71.7" rx="6.1" ry="5.2" transform="rotate(70 182.1 71.7)" fill="url(#rC)"/><ellipse cx="229.1" cy="23.6" rx="4.7" ry="4.5" transform="rotate(69 229.1 23.6)" fill="url(#gC)"/><ellipse cx="182.5" cy="88.4" rx="5.2" ry="4.7" transform="rotate(106 182.5 88.4)" fill="url(#gC)"/><ellipse cx="161" cy="97.1" rx="5.4" ry="4.6" transform="rotate(86 161 97.1)" fill="url(#gB)"/><ellipse cx="214.2" cy="89.1" rx="5.5" ry="4.5" transform="rotate(101 214.2 89.1)" fill="url(#gB)"/><ellipse cx="135" cy="104.2" rx="5.3" ry="4.4" transform="rotate(117 135 104.2)" fill="url(#gB)"/><ellipse cx="129.8" cy="97.1" rx="5.9" ry="4.8" transform="rotate(75 129.8 97.1)" fill="url(#rA)"/><ellipse cx="144.4" cy="27.4" rx="5.2" ry="4.6" transform="rotate(107 144.4 27.4)" fill="url(#gB)"/><ellipse cx="179.1" cy="120.1" rx="5.1" ry="4.4" transform="rotate(89 179.1 120.1)" fill="url(#gC)"/><ellipse cx="163.1" cy="28.3" rx="5.1" ry="4.3" transform="rotate(91 163.1 28.3)" fill="url(#gA)"/><ellipse cx="218.7" cy="6.2" rx="5.4" ry="4.9" transform="rotate(63 218.7 6.2)" fill="url(#gC)"/><ellipse cx="168.4" cy="67.8" rx="5" ry="4.4" transform="rotate(117 168.4 67.8)" fill="url(#gB)"/><ellipse cx="127.1" cy="20.4" rx="5.1" ry="4.8" transform="rotate(90 127.1 20.4)" fill="url(#gB)"/><ellipse cx="226.2" cy="32.9" rx="5.1" ry="4.3" transform="rotate(115 226.2 32.9)" fill="url(#gB)"/><ellipse cx="156.1" cy="133.6" rx="6" ry="4.8" transform="rotate(94 156.1 133.6)" fill="url(#rB)"/><ellipse cx="202.8" cy="139.1" rx="5.2" ry="4.6" transform="rotate(100 202.8 139.1)" fill="url(#gA)"/><ellipse cx="185.5" cy="99.4" rx="5.1" ry="4.4" transform="rotate(117 185.5 99.4)" fill="url(#gA)"/><ellipse cx="154.7" cy="90" rx="4.8" ry="4.4" transform="rotate(78 154.7 90)" fill="url(#gC)"/><ellipse cx="147" cy="64.6" rx="5.4" ry="4.4" transform="rotate(109 147 64.6)" fill="url(#gA)"/><ellipse cx="200" cy="29.8" rx="5" ry="4.5" transform="rotate(68 200 29.8)" fill="url(#gA)"/><ellipse cx="210.5" cy="101.5" rx="5.2" ry="4.4" transform="rotate(114 210.5 101.5)" fill="url(#gB)"/><ellipse cx="149.8" cy="128" rx="5.2" ry="4.5" transform="rotate(65 149.8 128)" fill="url(#gB)"/><ellipse cx="223.9" cy="127.7" rx="5.3" ry="4.6" transform="rotate(75 223.9 127.7)" fill="url(#gA)"/><ellipse cx="168.5" cy="83" rx="5.2" ry="4.6" transform="rotate(69 168.5 83)" fill="url(#gB)"/><ellipse cx="211.1" cy="21" rx="4.8" ry="4.4" transform="rotate(100 211.1 21)" fill="url(#gB)"/><ellipse cx="192.8" cy="46.3" rx="5.2" ry="4.6" transform="rotate(87 192.8 46.3)" fill="url(#gB)"/><ellipse cx="129.2" cy="5.7" rx="5.3" ry="4.4" transform="rotate(116 129.2 5.7)" fill="url(#gC)"/><ellipse cx="181.9" cy="43.5" rx="5.1" ry="4.8" transform="rotate(93 181.9 43.5)" fill="url(#gB)"/><ellipse cx="211.7" cy="142.6" rx="5.3" ry="4.4" transform="rotate(69 211.7 142.6)" fill="url(#gB)"/><ellipse cx="152.9" cy="28.8" rx="5.5" ry="5" transform="rotate(107 152.9 28.8)" fill="url(#rC)"/><ellipse cx="225.1" cy="101.4" rx="5.5" ry="4.6" transform="rotate(106 225.1 101.4)" fill="url(#gB)"/><ellipse cx="219.7" cy="155.5" rx="5.4" ry="4.8" transform="rotate(106 219.7 155.5)" fill="url(#gA)"/><ellipse cx="134.5" cy="89.1" rx="5.2" ry="4.7" transform="rotate(77 134.5 89.1)" fill="url(#gC)"/><ellipse cx="222.8" cy="52.6" rx="5.5" ry="5" transform="rotate(93 222.8 52.6)" fill="url(#rA)"/><ellipse cx="182" cy="109" rx="5.4" ry="4.8" transform="rotate(118 182 109)" fill="url(#gA)"/><ellipse cx="183.1" cy="154.5" rx="4.9" ry="4.5" transform="rotate(104 183.1 154.5)" fill="url(#gB)"/><ellipse cx="173.8" cy="104" rx="5.4" ry="4.5" transform="rotate(67 173.8 104)" fill="url(#gB)"/><ellipse cx="173.2" cy="144.1" rx="4.8" ry="4.4" transform="rotate(82 173.2 144.1)" fill="url(#gB)"/><ellipse cx="153.9" cy="71" rx="4.9" ry="4.3" transform="rotate(108 153.9 71)" fill="url(#gC)"/><ellipse cx="227.7" cy="59.5" rx="5" ry="4.6" transform="rotate(66 227.7 59.5)" fill="url(#gB)"/><ellipse cx="186.9" cy="13.9" rx="5.1" ry="4.8" transform="rotate(90 186.9 13.9)" fill="url(#rA)"/><ellipse cx="225.5" cy="71.9" rx="5.2" ry="4.6" transform="rotate(101 225.5 71.9)" fill="url(#gA)"/><ellipse cx="220.2" cy="79.6" rx="5.8" ry="4.8" transform="rotate(63 220.2 79.6)" fill="url(#rA)"/><ellipse cx="188.3" cy="81.2" rx="5.3" ry="4.3" transform="rotate(92 188.3 81.2)" fill="url(#gB)"/><ellipse cx="224.9" cy="41.4" rx="5.1" ry="4.5" transform="rotate(103 224.9 41.4)" fill="url(#gC)"/><ellipse cx="209.7" cy="12" rx="4.8" ry="4.5" transform="rotate(80 209.7 12)" fill="url(#gA)"/><ellipse cx="174.2" cy="153.7" rx="6" ry="4.8" transform="rotate(90 174.2 153.7)" fill="url(#gB)"/><ellipse cx="209.9" cy="134.3" rx="5" ry="4.6" transform="rotate(117 209.9 134.3)" fill="url(#gB)"/><ellipse cx="138.3" cy="112.6" rx="4.8" ry="4.5" transform="rotate(97 138.3 112.6)" fill="url(#gB)"/><ellipse cx="202.6" cy="70.7" rx="5.2" ry="4.5" transform="rotate(107 202.6 70.7)" fill="url(#gB)"/><ellipse cx="199.8" cy="61.8" rx="5" ry="4.7" transform="rotate(109 199.8 61.8)" fill="url(#gC)"/><ellipse cx="220.8" cy="145.8" rx="5" ry="4.6" transform="rotate(61 220.8 145.8)" fill="url(#gB)"/><ellipse cx="230.4" cy="48.9" rx="5.7" ry="4.8" transform="rotate(97 230.4 48.9)" fill="url(#gB)"/><ellipse cx="129" cy="56.4" rx="5.3" ry="4.7" transform="rotate(64 129 56.4)" fill="url(#gA)"/><ellipse cx="202.6" cy="98.7" rx="5" ry="4.4" transform="rotate(64 202.6 98.7)" fill="url(#gB)"/><ellipse cx="137.6" cy="45.2" rx="5.8" ry="4.8" transform="rotate(60 137.6 45.2)" fill="url(#gC)"/><ellipse cx="194.6" cy="73.6" rx="5.7" ry="4.6" transform="rotate(88 194.6 73.6)" fill="url(#gA)"/><ellipse cx="144" cy="89" rx="5.5" ry="4.5" transform="rotate(109 144 89)" fill="url(#gB)"/><ellipse cx="129.6" cy="136.7" rx="4.8" ry="4.4" transform="rotate(81 129.6 136.7)" fill="url(#gA)"/><ellipse cx="161.8" cy="51.9" rx="5.2" ry="4.7" transform="rotate(113 161.8 51.9)" fill="url(#gB)"/><ellipse cx="157.8" cy="20.9" rx="5.3" ry="4.8" transform="rotate(75 157.8 20.9)" fill="url(#gB)"/><ellipse cx="221.8" cy="93.7" rx="5.3" ry="4.4" transform="rotate(81 221.8 93.7)" fill="url(#gB)"/><ellipse cx="154.9" cy="46.7" rx="4.8" ry="4.3" transform="rotate(83 154.9 46.7)" fill="url(#gA)"/><ellipse cx="168.8" cy="93.3" rx="5.2" ry="4.8" transform="rotate(75 168.8 93.3)" fill="url(#rC)"/><ellipse cx="149.5" cy="139.5" rx="5.3" ry="4.9" transform="rotate(62 149.5 139.5)" fill="url(#gB)"/><ellipse cx="166.8" cy="59" rx="5" ry="4.4" transform="rotate(106 166.8 59)" fill="url(#gB)"/><ellipse cx="230.8" cy="110.1" rx="5.7" ry="4.7" transform="rotate(89 230.8 110.1)" fill="url(#gB)"/><ellipse cx="160.5" cy="5.3" rx="5.1" ry="4.4" transform="rotate(74 160.5 5.3)" fill="url(#gA)"/><ellipse cx="137" cy="60.8" rx="4.7" ry="4.4" transform="rotate(92 137 60.8)" fill="url(#gB)"/><ellipse cx="218.3" cy="59.9" rx="5" ry="4.6" transform="rotate(67 218.3 59.9)" fill="url(#gB)"/><ellipse cx="205" cy="86.9" rx="5.9" ry="5.1" transform="rotate(94 205 86.9)" fill="url(#rA)"/><ellipse cx="154.4" cy="153.7" rx="5.4" ry="4.5" transform="rotate(82 154.4 153.7)" fill="url(#gB)"/><ellipse cx="201.4" cy="20.4" rx="5.1" ry="4.8" transform="rotate(66 201.4 20.4)" fill="url(#gC)"/><ellipse cx="219.6" cy="26.6" rx="5.4" ry="4.9" transform="rotate(106 219.6 26.6)" fill="url(#rA)"/><ellipse cx="194.1" cy="100.9" rx="5.2" ry="4.5" transform="rotate(110 194.1 100.9)" fill="url(#gB)"/><ellipse cx="190.1" cy="65.1" rx="5" ry="4.5" transform="rotate(67 190.1 65.1)" fill="url(#gB)"/><ellipse cx="208.7" cy="76.7" rx="5.4" ry="4.9" transform="rotate(64 208.7 76.7)" fill="url(#gD)"/><ellipse cx="188.4" cy="119" rx="5.4" ry="4.8" transform="rotate(104 188.4 119)" fill="url(#gB)"/><ellipse cx="142.2" cy="132.8" rx="5.7" ry="4.6" transform="rotate(106 142.2 132.8)" fill="url(#gB)"/><ellipse cx="131.3" cy="117.7" rx="5.3" ry="4.7" transform="rotate(109 131.3 117.7)" fill="url(#rA)"/><ellipse cx="190" cy="54.7" rx="5.6" ry="4.6" transform="rotate(65 190 54.7)" fill="url(#gB)"/><ellipse cx="171.6" cy="134.7" rx="5.5" ry="4.6" transform="rotate(116 171.6 134.7)" fill="url(#gB)"/><ellipse cx="176.4" cy="9.3" rx="5.5" ry="4.7" transform="rotate(119 176.4 9.3)" fill="url(#gB)"/><ellipse cx="198.8" cy="39.2" rx="5.1" ry="4.5" transform="rotate(105 198.8 39.2)" fill="url(#gC)"/><ellipse cx="166.3" cy="108.2" rx="6.3" ry="5.1" transform="rotate(102 166.3 108.2)" fill="url(#rB)"/><ellipse cx="206.9" cy="125" rx="5.1" ry="4.9" transform="rotate(99 206.9 125)" fill="url(#rC)"/><ellipse cx="140.5" cy="97.7" rx="5.7" ry="4.7" transform="rotate(62 140.5 97.7)" fill="url(#gB)"/><ellipse cx="127.5" cy="29" rx="5.5" ry="4.5" transform="rotate(84 127.5 29)" fill="url(#gA)"/><ellipse cx="167.9" cy="10.7" rx="5.2" ry="4.8" transform="rotate(72 167.9 10.7)" fill="url(#rB)"/><ellipse cx="149.3" cy="19.5" rx="4.6" ry="4.3" transform="rotate(65 149.3 19.5)" fill="url(#gD)"/><ellipse cx="166.5" cy="19.2" rx="5.5" ry="4.8" transform="rotate(67 166.5 19.2)" fill="url(#gA)"/><ellipse cx="220.2" cy="119.3" rx="5.4" ry="4.7" transform="rotate(111 220.2 119.3)" fill="url(#rA)"/><ellipse cx="210.1" cy="44.7" rx="5.8" ry="5.2" transform="rotate(117 210.1 44.7)" fill="url(#rC)"/><ellipse cx="211.6" cy="117.4" rx="6" ry="4.8" transform="rotate(109 211.6 117.4)" fill="url(#gB)"/><ellipse cx="228.8" cy="154.5" rx="5.5" ry="4.6" transform="rotate(73 228.8 154.5)" fill="url(#gB)"/><ellipse cx="219.4" cy="17.6" rx="5" ry="4.4" transform="rotate(108 219.4 17.6)" fill="url(#gB)"/><ellipse cx="188.1" cy="5.4" rx="5" ry="4.4" transform="rotate(83 188.1 5.4)" fill="url(#gB)"/><ellipse cx="141.5" cy="123.9" rx="4.9" ry="4.4" transform="rotate(100 141.5 123.9)" fill="url(#gB)"/><ellipse cx="177.1" cy="78.7" rx="5.7" ry="4.9" transform="rotate(67 177.1 78.7)" fill="url(#gB)"/><ellipse cx="182.1" cy="60.6" rx="5.9" ry="5.1" transform="rotate(65 182.1 60.6)" fill="url(#rA)"/><ellipse cx="216.3" cy="70.9" rx="5.7" ry="4.7" transform="rotate(86 216.3 70.9)" fill="url(#gA)"/><ellipse cx="193.3" cy="23.2" rx="5.5" ry="4.6" transform="rotate(66 193.3 23.2)" fill="url(#gB)"/><ellipse cx="230.2" cy="93.6" rx="5.1" ry="4.6" transform="rotate(65 230.2 93.6)" fill="url(#gB)"/><ellipse cx="162.6" cy="75.7" rx="5.5" ry="4.8" transform="rotate(119 162.6 75.7)" fill="url(#gB)"/><ellipse cx="206.8" cy="110.3" rx="5.3" ry="4.6" transform="rotate(110 206.8 110.3)" fill="url(#gA)"/><ellipse cx="184.4" cy="145.9" rx="5.7" ry="4.8" transform="rotate(82 184.4 145.9)" fill="url(#gA)"/><ellipse cx="225.7" cy="10.9" rx="5.6" ry="4.6" transform="rotate(89 225.7 10.9)" fill="url(#gB)"/><ellipse cx="196.2" cy="88.9" rx="5.3" ry="4.5" transform="rotate(118 196.2 88.9)" fill="url(#gA)"/><ellipse cx="144.8" cy="55.2" rx="5.5" ry="4.7" transform="rotate(106 144.8 55.2)" fill="url(#gC)"/><ellipse cx="148" cy="107.4" rx="5.3" ry="4.9" transform="rotate(88 148 107.4)" fill="url(#gD)"/><ellipse cx="229" cy="135.8" rx="5" ry="4.4" transform="rotate(96 229 135.8)" fill="url(#gA)"/><ellipse cx="172.6" cy="28.8" rx="5.4" ry="5" transform="rotate(89 172.6 28.8)" fill="url(#rC)"/><ellipse cx="153.5" cy="58.3" rx="5.1" ry="4.5" transform="rotate(97 153.5 58.3)" fill="url(#gC)"/><ellipse cx="127.3" cy="108.9" rx="6" ry="4.8" transform="rotate(69 127.3 108.9)" fill="url(#gA)"/><ellipse cx="196.3" cy="145.2" rx="5.3" ry="4.7" transform="rotate(110 196.3 145.2)" fill="url(#gC)"/><ellipse cx="134" cy="128.6" rx="5.1" ry="4.3" transform="rotate(84 134 128.6)" fill="url(#gA)"/><ellipse cx="220.9" cy="110.1" rx="5.2" ry="4.4" transform="rotate(79 220.9 110.1)" fill="url(#gB)"/><ellipse cx="146.6" cy="116.7" rx="6.2" ry="5.3" transform="rotate(109 146.6 116.7)" fill="url(#rC)"/><ellipse cx="136.8" cy="31.1" rx="5.5" ry="4.8" transform="rotate(77 136.8 31.1)" fill="url(#gC)"/><ellipse cx="190.2" cy="31.2" rx="5.5" ry="4.8" transform="rotate(114 190.2 31.2)" fill="url(#gA)"/><ellipse cx="156.3" cy="12.7" rx="5.7" ry="4.7" transform="rotate(62 156.3 12.7)" fill="url(#gB)"/><ellipse cx="177.4" cy="95.2" rx="5.3" ry="4.6" transform="rotate(65 177.4 95.2)" fill="url(#gC)"/><ellipse cx="140.4" cy="19.9" rx="5.2" ry="4.5" transform="rotate(95 140.4 19.9)" fill="url(#gB)"/><ellipse cx="220.5" cy="136" rx="5.6" ry="4.6" transform="rotate(110 220.5 136)" fill="url(#gB)"/><ellipse cx="163.7" cy="41.9" rx="5.8" ry="4.8" transform="rotate(91 163.7 41.9)" fill="url(#gB)"/><ellipse cx="132.6" cy="13.7" rx="5.8" ry="4.7" transform="rotate(119 132.6 13.7)" fill="url(#gA)"/><ellipse cx="176.4" cy="51" rx="5.8" ry="5.1" transform="rotate(76 176.4 51)" fill="url(#rA)"/><ellipse cx="183.9" cy="23.9" rx="6" ry="4.8" transform="rotate(91 183.9 23.9)" fill="url(#gA)"/><ellipse cx="163.8" cy="148.7" rx="5.8" ry="4.9" transform="rotate(70 163.8 148.7)" fill="url(#gE)"/><ellipse cx="147.4" cy="148.5" rx="5" ry="4.5" transform="rotate(81 147.4 148.5)" fill="url(#gA)"/><ellipse cx="162.8" cy="139" rx="5.1" ry="4.7" transform="rotate(100 162.8 139)" fill="url(#gC)"/><ellipse cx="175.8" cy="19" rx="5.8" ry="4.7" transform="rotate(69 175.8 19)" fill="url(#gB)"/><ellipse cx="150.3" cy="99" rx="4.7" ry="4.5" transform="rotate(65 150.3 99)" fill="url(#gD)"/><ellipse cx="156" cy="118.1" rx="4.8" ry="4.3" transform="rotate(84 156 118.1)" fill="url(#gB)"/><ellipse cx="149.9" cy="37" rx="5.9" ry="4.8" transform="rotate(70 149.9 37)" fill="url(#gC)"/><ellipse cx="147.8" cy="8.1" rx="5.4" ry="4.4" transform="rotate(115 147.8 8.1)" fill="url(#gB)"/><ellipse cx="216.4" cy="38.4" rx="5.5" ry="4.8" transform="rotate(60 216.4 38.4)" fill="url(#gB)"/><ellipse cx="179.7" cy="138" rx="4.7" ry="4.4" transform="rotate(113 179.7 138)" fill="url(#gA)"/><ellipse cx="212.1" cy="54.1" rx="5.1" ry="4.3" transform="rotate(77 212.1 54.1)" fill="url(#gB)"/><ellipse cx="179.4" cy="34.2" rx="5" ry="4.7" transform="rotate(106 179.4 34.2)" fill="url(#gB)"/><ellipse cx="197.7" cy="127.3" rx="5.1" ry="4.6" transform="rotate(74 197.7 127.3)" fill="url(#gA)"/><ellipse cx="156.1" cy="81.2" rx="5.1" ry="4.7" transform="rotate(111 156.1 81.2)" fill="url(#rA)"/><ellipse cx="201" cy="155" rx="6" ry="4.9" transform="rotate(69 201 155)" fill="url(#gD)"/><ellipse cx="208.7" cy="151.3" rx="5.2" ry="4.6" transform="rotate(100 208.7 151.3)" fill="url(#gB)"/><ellipse cx="179.7" cy="128.9" rx="5.2" ry="4.7" transform="rotate(83 179.7 128.9)" fill="url(#gB)"/><ellipse cx="128.8" cy="47.8" rx="5.2" ry="4.8" transform="rotate(71 128.8 47.8)" fill="url(#gB)"/><ellipse cx="146.5" cy="46" rx="4.6" ry="4.3" transform="rotate(72 146.5 46)" fill="url(#gC)"/><ellipse cx="211.2" cy="30" rx="5.7" ry="4.8" transform="rotate(119 211.2 30)" fill="url(#gB)"/><ellipse cx="209.1" cy="64.8" rx="5.7" ry="4.6" transform="rotate(86 209.1 64.8)" fill="url(#gB)"/><ellipse cx="170.7" cy="116.6" rx="5.9" ry="4.9" transform="rotate(79 170.7 116.6)" fill="url(#gC)"/><ellipse cx="138.1" cy="69.5" rx="5.3" ry="4.9" transform="rotate(103 138.1 69.5)" fill="url(#gA)"/><ellipse cx="190.5" cy="138.3" rx="5.1" ry="4.4" transform="rotate(95 190.5 138.3)" fill="url(#gB)"/><ellipse cx="130.7" cy="38.3" rx="5.5" ry="4.7" transform="rotate(92 130.7 38.3)" fill="url(#rC)"/><ellipse cx="156.2" cy="144.5" rx="5" ry="4.7" transform="rotate(93 156.2 144.5)" fill="url(#gB)"/><ellipse cx="201.4" cy="9.9" rx="5.6" ry="4.7" transform="rotate(60 201.4 9.9)" fill="url(#gA)"/><ellipse cx="215.2" cy="126.4" rx="5.3" ry="4.6" transform="rotate(89 215.2 126.4)" fill="url(#gB)"/><ellipse cx="171.8" cy="125.1" rx="5" ry="4.6" transform="rotate(71 171.8 125.1)" fill="url(#gA)"/><ellipse cx="163.6" cy="129.3" rx="5.4" ry="4.8" transform="rotate(66 163.6 129.3)" fill="url(#gA)"/><ellipse cx="189.1" cy="127.8" rx="5.3" ry="4.5" transform="rotate(60 189.1 127.8)" fill="url(#gB)"/><ellipse cx="229.3" cy="144.6" rx="5.4" ry="4.9" transform="rotate(109 229.3 144.6)" fill="url(#gB)"/><ellipse cx="129.8" cy="66.9" rx="5.2" ry="4.7" transform="rotate(108 129.8 66.9)" fill="url(#rA)"/><ellipse cx="197.4" cy="118.8" rx="5.4" ry="4.7" transform="rotate(104 197.4 118.8)" fill="url(#gC)"/><ellipse cx="139.1" cy="81.4" rx="5" ry="4.4" transform="rotate(78 139.1 81.4)" fill="url(#gA)"/><ellipse cx="193.3" cy="109.8" rx="5.6" ry="4.9" transform="rotate(115 193.3 109.8)" fill="url(#rA)"/><ellipse cx="129.3" cy="81.9" rx="4.8" ry="4.5" transform="rotate(102 129.3 81.9)" fill="url(#gA)"/><ellipse cx="191.6" cy="154.6" rx="5.8" ry="4.8" transform="rotate(87 191.6 154.6)" fill="url(#gC)"/><ellipse cx="229.2" cy="119.5" rx="5.3" ry="4.9" transform="rotate(102 229.2 119.5)" fill="url(#gB)"/><ellipse cx="160.1" cy="65" rx="5.7" ry="4.8" transform="rotate(92 160.1 65)" fill="url(#gB)"/><ellipse cx="226.9" cy="85.2" rx="5" ry="4.3" transform="rotate(116 226.9 85.2)" fill="url(#gA)"/><ellipse cx="138.2" cy="7.2" rx="5.7" ry="4.7" transform="rotate(85 138.2 7.2)" fill="url(#gB)"/><ellipse cx="173.3" cy="40.6" rx="5.6" ry="5.1" transform="rotate(108 173.3 40.6)" fill="url(#rB)"/><ellipse cx="199.6" cy="80.4" rx="5.2" ry="4.8" transform="rotate(81 199.6 80.4)" fill="url(#gB)"/><ellipse cx="157.1" cy="105.8" rx="6" ry="4.8" transform="rotate(103 157.1 105.8)" fill="url(#gB)"/></g><g id="pLB"><rect x="25.0" y="160.2" width="104.9" height="149.7" fill="#3e4420"/><ellipse cx="107.4" cy="170.7" rx="3.5" ry="3.7" fill="#8e8e84"/><ellipse cx="36.2" cy="293.7" rx="3.6" ry="2.8" fill="#8e8e84"/><ellipse cx="64.8" cy="256.8" rx="2.8" ry="3.1" fill="#8e8e84"/><ellipse cx="88.3" cy="169.6" rx="3.5" ry="3.4" fill="#8e8e84"/><ellipse cx="120" cy="266.4" rx="3.3" ry="3.5" fill="#8e8e84"/><ellipse cx="45.9" cy="235.3" rx="3.8" ry="3.9" fill="#8e8e84"/><ellipse cx="28.9" cy="290.1" rx="3.3" ry="2.8" fill="#8e8e84"/><ellipse cx="40.1" cy="287.9" rx="2.5" ry="3.2" fill="#8e8e84"/><ellipse cx="34.6" cy="243.3" rx="2.8" ry="2.6" fill="#8e8e84"/><ellipse cx="43.8" cy="167.4" rx="3.7" ry="3.2" fill="#8e8e84"/><ellipse cx="27.6" cy="246.6" rx="3.5" ry="2.4" fill="#8e8e84"/><ellipse cx="120.8" cy="284.9" rx="3.1" ry="4" fill="#8e8e84"/><ellipse cx="49" cy="167.8" rx="2.7" ry="2.4" fill="#8e8e84"/><ellipse cx="122.5" cy="179" rx="2.7" ry="3.7" fill="#8e8e84"/><ellipse cx="31.2" cy="175.2" rx="3" ry="2.7" fill="#8e8e84"/><ellipse cx="29.2" cy="259.9" rx="3.7" ry="2.1" fill="#8e8e84"/><ellipse cx="40" cy="179.9" rx="2.9" ry="3.3" fill="#8e8e84"/><ellipse cx="53.7" cy="282.9" rx="2.2" ry="3.8" fill="#8e8e84"/><ellipse cx="49.6" cy="179.1" rx="2.4" ry="3.1" fill="#8e8e84"/><ellipse cx="117.3" cy="177.9" rx="3.2" ry="3.1" fill="#8e8e84"/><ellipse cx="74.9" cy="276.5" rx="2.5" ry="3.8" fill="#8e8e84"/><ellipse cx="60.3" cy="219.1" rx="3" ry="3.1" fill="#8e8e84"/><ellipse cx="98.3" cy="281.2" rx="3.8" ry="2.3" fill="#8e8e84"/><ellipse cx="45.6" cy="274.2" rx="3.6" ry="2.5" fill="#8e8e84"/><ellipse cx="116.1" cy="288.7" rx="2.1" ry="2.2" fill="#8e8e84"/><ellipse cx="36.6" cy="288.3" rx="3.7" ry="2.5" fill="#8e8e84"/><ellipse cx="116.8" cy="191.5" rx="2.9" ry="3.1" fill="#8e8e84"/><ellipse cx="85.1" cy="180" rx="2.1" ry="3.8" fill="#8e8e84"/><ellipse cx="105.9" cy="235.2" rx="3.3" ry="3.6" fill="#8e8e84"/><ellipse cx="33.4" cy="197.3" rx="3.4" ry="3.3" fill="#8e8e84"/><ellipse cx="71.7" cy="182.6" rx="2.1" ry="2.6" fill="#8e8e84"/><ellipse cx="89.2" cy="227.5" rx="3.3" ry="3.9" fill="#8e8e84"/><ellipse cx="75.8" cy="199.6" rx="3.8" ry="3.9" fill="#8e8e84"/><ellipse cx="74.1" cy="294.2" rx="2.9" ry="2.3" fill="#8e8e84"/><ellipse cx="79.9" cy="296.5" rx="3.4" ry="2.4" fill="#8e8e84"/><ellipse cx="36.8" cy="302.3" rx="3.3" ry="3.2" fill="#8e8e84"/><ellipse cx="99.8" cy="292.6" rx="3.5" ry="3" fill="#8e8e84"/><ellipse cx="43.9" cy="185.2" rx="3.1" ry="2.6" fill="#8e8e84"/><ellipse cx="117.9" cy="219.1" rx="3.7" ry="2" fill="#8e8e84"/><ellipse cx="39" cy="288.8" rx="3.1" ry="2.6" fill="#8e8e84"/><ellipse cx="87.8" cy="216.3" rx="3.1" ry="3.8" fill="#8e8e84"/><ellipse cx="77.9" cy="265.7" rx="2.9" ry="2.8" fill="#8e8e84"/><ellipse cx="87" cy="194.1" rx="3.1" ry="3.8" fill="#8e8e84"/><ellipse cx="101.4" cy="213.6" rx="2.2" ry="2.1" fill="#8e8e84"/><ellipse cx="69.4" cy="191.8" rx="2.8" ry="2.4" fill="#8e8e84"/><ellipse cx="102.3" cy="179.6" rx="3.3" ry="2.8" fill="#8e8e84"/><ellipse cx="97.3" cy="304.1" rx="2.9" ry="2.1" fill="#8e8e84"/><ellipse cx="72.2" cy="292.2" rx="2.9" ry="3.2" fill="#8e8e84"/><ellipse cx="31.7" cy="177.4" rx="2.1" ry="3.4" fill="#8e8e84"/><ellipse cx="62" cy="292.2" rx="3.2" ry="2.1" fill="#8e8e84"/><ellipse cx="127.1" cy="248.6" rx="2.1" ry="2.3" fill="#8e8e84"/><ellipse cx="109.9" cy="291" rx="3.5" ry="2.3" fill="#8e8e84"/><ellipse cx="60" cy="250.3" rx="3.8" ry="3.4" fill="#8e8e84"/><ellipse cx="80.5" cy="204.7" rx="3.1" ry="2.8" fill="#8e8e84"/><ellipse cx="53.7" cy="191.6" rx="2.1" ry="2.9" fill="#8e8e84"/><ellipse cx="108.5" cy="179.6" rx="4" ry="3.5" fill="#8e8e84"/><ellipse cx="101.4" cy="208.8" rx="3.5" ry="3.2" fill="#8e8e84"/><ellipse cx="76.8" cy="165.1" rx="2.2" ry="3.3" fill="#8e8e84"/><ellipse cx="34.6" cy="291.2" rx="2.2" ry="3.7" fill="#8e8e84"/><ellipse cx="85.4" cy="252.3" rx="3.2" ry="2" fill="#8e8e84"/><ellipse cx="89.6" cy="208.8" rx="3.7" ry="2.8" fill="#8e8e84"/><ellipse cx="28.4" cy="242.3" rx="3.3" ry="3.6" fill="#8e8e84"/><ellipse cx="121.7" cy="291.5" rx="2.9" ry="2.2" fill="#8e8e84"/><ellipse cx="55.1" cy="262" rx="3.1" ry="2.5" fill="#8e8e84"/><ellipse cx="37.7" cy="279" rx="3.1" ry="3.2" fill="#8e8e84"/><ellipse cx="93.9" cy="213.6" rx="2.6" ry="3.7" fill="#8e8e84"/><ellipse cx="93.4" cy="187.9" rx="3.9" ry="3.9" fill="#8e8e84"/><ellipse cx="81.4" cy="176.5" rx="3.4" ry="2.1" fill="#8e8e84"/><ellipse cx="105.1" cy="245.7" rx="3.4" ry="3.6" fill="#8e8e84"/><ellipse cx="121.9" cy="304.9" rx="3.4" ry="3.5" fill="#8e8e84"/><ellipse cx="108.8" cy="294.4" rx="5.7" ry="4.9" transform="rotate(27 108.8 294.4)" fill="url(#gC)"/><ellipse cx="26.3" cy="205" rx="5.2" ry="4.4" transform="rotate(-1 26.3 205)" fill="url(#gB)"/><ellipse cx="83.9" cy="180.9" rx="6.5" ry="4.9" transform="rotate(-16 83.9 180.9)" fill="url(#gC)"/><ellipse cx="83.9" cy="222.7" rx="5.9" ry="4.6" transform="rotate(28 83.9 222.7)" fill="url(#gA)"/><ellipse cx="56.1" cy="286.8" rx="5.8" ry="4.8" transform="rotate(-9 56.1 286.8)" fill="url(#gB)"/><ellipse cx="117.5" cy="222.7" rx="6.2" ry="4.9" transform="rotate(-33 117.5 222.7)" fill="url(#gD)"/><ellipse cx="92.4" cy="281.7" rx="5.1" ry="4.4" transform="rotate(-32 92.4 281.7)" fill="url(#gA)"/><ellipse cx="100.2" cy="231.3" rx="6" ry="4.5" transform="rotate(20 100.2 231.3)" fill="url(#gB)"/><ellipse cx="122.3" cy="280.1" rx="5.6" ry="4.6" transform="rotate(30 122.3 280.1)" fill="url(#gB)"/><ellipse cx="49.8" cy="266.2" rx="6.1" ry="4.8" transform="rotate(7 49.8 266.2)" fill="url(#gB)"/><ellipse cx="63.7" cy="246.8" rx="6.1" ry="4.8" transform="rotate(-29 63.7 246.8)" fill="url(#gA)"/><ellipse cx="71.2" cy="309.6" rx="5.9" ry="4.6" transform="rotate(15 71.2 309.6)" fill="url(#gA)"/><ellipse cx="32.1" cy="289.7" rx="6.2" ry="4.8" transform="rotate(-4 32.1 289.7)" fill="url(#gA)"/><ellipse cx="81" cy="241.2" rx="5.4" ry="4.3" transform="rotate(-3 81 241.2)" fill="url(#gB)"/><ellipse cx="51.3" cy="238.3" rx="5.7" ry="4.4" transform="rotate(-11 51.3 238.3)" fill="url(#gD)"/><ellipse cx="78.2" cy="289.7" rx="5.9" ry="5" transform="rotate(-19 78.2 289.7)" fill="url(#gA)"/><ellipse cx="70.5" cy="295.4" rx="6.1" ry="4.6" transform="rotate(13 70.5 295.4)" fill="url(#gA)"/><ellipse cx="61.8" cy="194.2" rx="6" ry="4.5" transform="rotate(0 61.8 194.2)" fill="url(#gE)"/><ellipse cx="113.3" cy="160.4" rx="5.5" ry="4.4" transform="rotate(7 113.3 160.4)" fill="url(#gA)"/><ellipse cx="93.5" cy="272.6" rx="6.2" ry="4.7" transform="rotate(23 93.5 272.6)" fill="url(#gD)"/><ellipse cx="120.4" cy="213.3" rx="6" ry="4.6" transform="rotate(20 120.4 213.3)" fill="url(#gB)"/><ellipse cx="50.4" cy="255.5" rx="6.2" ry="4.8" transform="rotate(33 50.4 255.5)" fill="url(#gD)"/><ellipse cx="68.6" cy="185.7" rx="5.8" ry="4.8" transform="rotate(18 68.6 185.7)" fill="url(#gC)"/><ellipse cx="85.7" cy="275.4" rx="5.7" ry="4.6" transform="rotate(-9 85.7 275.4)" fill="url(#gA)"/><ellipse cx="101.2" cy="283" rx="5.6" ry="4.5" transform="rotate(-17 101.2 283)" fill="url(#gA)"/><ellipse cx="95.4" cy="198" rx="5.7" ry="4.6" transform="rotate(-6 95.4 198)" fill="url(#gB)"/><ellipse cx="106.9" cy="175.2" rx="5.9" ry="4.8" transform="rotate(26 106.9 175.2)" fill="url(#gB)"/><ellipse cx="27.6" cy="282.9" rx="5.4" ry="4.6" transform="rotate(9 27.6 282.9)" fill="url(#gB)"/><ellipse cx="64.7" cy="303.9" rx="6.1" ry="4.9" transform="rotate(8 64.7 303.9)" fill="url(#gE)"/><ellipse cx="38.8" cy="189.5" rx="6" ry="4.6" transform="rotate(0 38.8 189.5)" fill="url(#gC)"/><ellipse cx="128" cy="236.4" rx="5.9" ry="5" transform="rotate(20 128 236.4)" fill="url(#gA)"/><ellipse cx="100.2" cy="184.7" rx="5.3" ry="4.4" transform="rotate(27 100.2 184.7)" fill="url(#gD)"/><ellipse cx="41.8" cy="169.5" rx="6.6" ry="5" transform="rotate(-9 41.8 169.5)" fill="url(#gB)"/><ellipse cx="123" cy="307.3" rx="5.9" ry="4.9" transform="rotate(-25 123 307.3)" fill="url(#gC)"/><ellipse cx="70.5" cy="214.2" rx="5.9" ry="4.5" transform="rotate(-33 70.5 214.2)" fill="url(#gA)"/><ellipse cx="99.2" cy="266.9" rx="5.7" ry="4.3" transform="rotate(-21 99.2 266.9)" fill="url(#gC)"/><ellipse cx="94.5" cy="302" rx="6.8" ry="5" transform="rotate(19 94.5 302)" fill="url(#gB)"/><ellipse cx="98.3" cy="166.7" rx="6.3" ry="5" transform="rotate(-27 98.3 166.7)" fill="url(#gE)"/><ellipse cx="128.5" cy="212.5" rx="5.9" ry="4.7" transform="rotate(1 128.5 212.5)" fill="url(#gC)"/><ellipse cx="41.6" cy="263.1" rx="6" ry="4.7" transform="rotate(-2 41.6 263.1)" fill="url(#gA)"/><ellipse cx="116.5" cy="301" rx="5.8" ry="4.6" transform="rotate(15 116.5 301)" fill="url(#gC)"/><ellipse cx="114.5" cy="264" rx="5.1" ry="4.3" transform="rotate(17 114.5 264)" fill="url(#gC)"/><ellipse cx="63.1" cy="277.5" rx="6.5" ry="4.9" transform="rotate(12 63.1 277.5)" fill="url(#gA)"/><ellipse cx="37.9" cy="219.8" rx="6.2" ry="4.8" transform="rotate(23 37.9 219.8)" fill="url(#gA)"/><ellipse cx="126.1" cy="299.1" rx="5.5" ry="4.6" transform="rotate(-5 126.1 299.1)" fill="url(#gA)"/><ellipse cx="74.3" cy="178" rx="6.6" ry="5" transform="rotate(-32 74.3 178)" fill="url(#gD)"/><ellipse cx="108.3" cy="166.8" rx="6.2" ry="4.8" transform="rotate(32 108.3 166.8)" fill="url(#gC)"/><ellipse cx="48.5" cy="209.4" rx="5.8" ry="5.1" transform="rotate(-19 48.5 209.4)" fill="url(#gC)"/><ellipse cx="90.9" cy="309.5" rx="6" ry="4.8" transform="rotate(-11 90.9 309.5)" fill="url(#gC)"/><ellipse cx="123.7" cy="162.3" rx="6.1" ry="4.9" transform="rotate(10 123.7 162.3)" fill="url(#gA)"/><ellipse cx="74.3" cy="250.7" rx="6.4" ry="4.9" transform="rotate(34 74.3 250.7)" fill="url(#gA)"/><ellipse cx="44.6" cy="177.1" rx="6.1" ry="4.5" transform="rotate(7 44.6 177.1)" fill="url(#gD)"/><ellipse cx="34" cy="179" rx="5.4" ry="4.5" transform="rotate(-26 34 179)" fill="url(#gC)"/><ellipse cx="49.9" cy="164" rx="6.4" ry="4.9" transform="rotate(18 49.9 164)" fill="url(#gA)"/><ellipse cx="62.8" cy="236.4" rx="6.7" ry="5" transform="rotate(-1 62.8 236.4)" fill="url(#gA)"/><ellipse cx="43.7" cy="229.4" rx="6.4" ry="5" transform="rotate(8 43.7 229.4)" fill="url(#gA)"/><ellipse cx="61.8" cy="293.5" rx="5.5" ry="4.5" transform="rotate(7 61.8 293.5)" fill="url(#gA)"/><ellipse cx="122.9" cy="186.4" rx="6.4" ry="5" transform="rotate(-4 122.9 186.4)" fill="url(#gA)"/><ellipse cx="33.3" cy="161.5" rx="6" ry="5.1" transform="rotate(6 33.3 161.5)" fill="url(#gA)"/><ellipse cx="83.9" cy="303.9" rx="5.6" ry="4.4" transform="rotate(-15 83.9 303.9)" fill="url(#gA)"/><ellipse cx="32.1" cy="244.1" rx="5.6" ry="4.5" transform="rotate(34 32.1 244.1)" fill="url(#gA)"/><ellipse cx="31.2" cy="275.5" rx="6.4" ry="5.1" transform="rotate(-30 31.2 275.5)" fill="url(#gC)"/><ellipse cx="79.1" cy="188.5" rx="6.7" ry="5" transform="rotate(8 79.1 188.5)" fill="url(#gB)"/><ellipse cx="41.3" cy="160.8" rx="6.1" ry="4.6" transform="rotate(-14 41.3 160.8)" fill="url(#gB)"/><ellipse cx="41.8" cy="306.8" rx="5.8" ry="4.6" transform="rotate(10 41.8 306.8)" fill="url(#gA)"/><ellipse cx="87.7" cy="295.4" rx="6.2" ry="5" transform="rotate(25 87.7 295.4)" fill="url(#gA)"/><ellipse cx="106.9" cy="271.6" rx="6.7" ry="4.9" transform="rotate(12 106.9 271.6)" fill="url(#gA)"/><ellipse cx="25.4" cy="239.3" rx="5.9" ry="4.9" transform="rotate(-30 25.4 239.3)" fill="url(#gA)"/><ellipse cx="26.1" cy="165.2" rx="5.3" ry="4.5" transform="rotate(-20 26.1 165.2)" fill="url(#gC)"/><ellipse cx="92.6" cy="175.2" rx="5.4" ry="4.5" transform="rotate(-1 92.6 175.2)" fill="url(#gA)"/><ellipse cx="115.6" cy="203.7" rx="5.7" ry="4.7" transform="rotate(15 115.6 203.7)" fill="url(#gC)"/><ellipse cx="56.1" cy="227.5" rx="5.6" ry="4.5" transform="rotate(15 56.1 227.5)" fill="url(#gC)"/><ellipse cx="90.7" cy="243.1" rx="5.6" ry="4.6" transform="rotate(-33 90.7 243.1)" fill="url(#gB)"/><ellipse cx="41.8" cy="271.6" rx="6.1" ry="4.9" transform="rotate(32 41.8 271.6)" fill="url(#gC)"/><ellipse cx="33.1" cy="265" rx="5.8" ry="4.4" transform="rotate(-5 33.1 265)" fill="url(#gC)"/><ellipse cx="43.7" cy="200.8" rx="5.5" ry="4.4" transform="rotate(23 43.7 200.8)" fill="url(#gA)"/><ellipse cx="117.5" cy="167.6" rx="5.1" ry="4.3" transform="rotate(-13 117.5 167.6)" fill="url(#gC)"/><ellipse cx="33.7" cy="309" rx="5.8" ry="4.5" transform="rotate(3 33.7 309)" fill="url(#gA)"/><ellipse cx="111.7" cy="250.7" rx="5.2" ry="4.4" transform="rotate(23 111.7 250.7)" fill="url(#gA)"/><ellipse cx="129.5" cy="251.3" rx="6.6" ry="5" transform="rotate(30 129.5 251.3)" fill="url(#gA)"/><ellipse cx="84.2" cy="249.4" rx="5.9" ry="4.5" transform="rotate(18 84.2 249.4)" fill="url(#gC)"/><ellipse cx="32.1" cy="301" rx="5.7" ry="4.5" transform="rotate(28 32.1 301)" fill="url(#gA)"/><ellipse cx="50.4" cy="193.3" rx="5.9" ry="4.7" transform="rotate(32 50.4 193.3)" fill="url(#gB)"/><ellipse cx="84.8" cy="284.9" rx="6.4" ry="5" transform="rotate(-4 84.8 284.9)" fill="url(#gD)"/><ellipse cx="82.9" cy="170.5" rx="6.2" ry="5.1" transform="rotate(23 82.9 170.5)" fill="url(#gC)"/><ellipse cx="63.7" cy="220.8" rx="5.8" ry="4.4" transform="rotate(1 63.7 220.8)" fill="url(#gB)"/><ellipse cx="66.7" cy="284.9" rx="6.3" ry="4.7" transform="rotate(27 66.7 284.9)" fill="url(#gC)"/><ellipse cx="127.7" cy="179.8" rx="6.2" ry="4.7" transform="rotate(-8 127.7 179.8)" fill="url(#gA)"/><ellipse cx="60.9" cy="265.9" rx="6.2" ry="4.9" transform="rotate(8 60.9 265.9)" fill="url(#gA)"/><ellipse cx="87.7" cy="231.3" rx="5.5" ry="4.5" transform="rotate(20 87.7 231.3)" fill="url(#gB)"/><ellipse cx="25.1" cy="179.7" rx="5.4" ry="4.6" transform="rotate(12 25.1 179.7)" fill="url(#gA)"/><ellipse cx="73.4" cy="222.7" rx="6.5" ry="5.1" transform="rotate(-10 73.4 222.7)" fill="url(#gB)"/><ellipse cx="100.2" cy="217" rx="5.1" ry="4.4" transform="rotate(33 100.2 217)" fill="url(#gA)"/><ellipse cx="25.3" cy="260.2" rx="5.1" ry="4.4" transform="rotate(20 25.3 260.2)" fill="url(#gA)"/><ellipse cx="25.3" cy="294.1" rx="6.3" ry="4.7" transform="rotate(-10 25.3 294.1)" fill="url(#gC)"/><ellipse cx="66.7" cy="231.3" rx="5.1" ry="4.3" transform="rotate(-2 66.7 231.3)" fill="url(#gA)"/><ellipse cx="72.4" cy="241.2" rx="6.3" ry="4.9" transform="rotate(22 72.4 241.2)" fill="url(#gA)"/><ellipse cx="78.2" cy="231.3" rx="5.9" ry="4.5" transform="rotate(-4 78.2 231.3)" fill="url(#gC)"/><ellipse cx="91.6" cy="216" rx="6.8" ry="5.1" transform="rotate(-10 91.6 216)" fill="url(#gB)"/><ellipse cx="68.4" cy="205.5" rx="5.8" ry="4.5" transform="rotate(-8 68.4 205.5)" fill="url(#gA)"/><ellipse cx="90.7" cy="208.5" rx="6" ry="4.5" transform="rotate(8 90.7 208.5)" fill="url(#gA)"/><ellipse cx="84.8" cy="198.9" rx="6" ry="4.5" transform="rotate(-12 84.8 198.9)" fill="url(#gB)"/><ellipse cx="105.9" cy="194.2" rx="5.9" ry="5" transform="rotate(-12 105.9 194.2)" fill="url(#gD)"/><ellipse cx="56.1" cy="183.8" rx="6.2" ry="4.8" transform="rotate(-20 56.1 183.8)" fill="url(#gC)"/><ellipse cx="60.9" cy="212.3" rx="5.9" ry="4.4" transform="rotate(7 60.9 212.3)" fill="url(#gD)"/><ellipse cx="90" cy="164.6" rx="6.1" ry="4.6" transform="rotate(12 90 164.6)" fill="url(#gC)"/><ellipse cx="120.4" cy="289.7" rx="6.2" ry="4.6" transform="rotate(-12 120.4 289.7)" fill="url(#gA)"/><ellipse cx="122.3" cy="255.5" rx="6.5" ry="4.8" transform="rotate(-12 122.3 255.5)" fill="url(#gC)"/><ellipse cx="80.1" cy="215.1" rx="6.6" ry="5" transform="rotate(8 80.1 215.1)" fill="url(#gA)"/><ellipse cx="124.2" cy="202.8" rx="6" ry="4.8" transform="rotate(21 124.2 202.8)" fill="url(#gA)"/><ellipse cx="125.1" cy="195.1" rx="6.1" ry="4.7" transform="rotate(-2 125.1 195.1)" fill="url(#gA)"/><ellipse cx="81" cy="258.3" rx="6.6" ry="4.9" transform="rotate(24 81 258.3)" fill="url(#gB)"/><ellipse cx="125.1" cy="267.8" rx="5.7" ry="4.4" transform="rotate(2 125.1 267.8)" fill="url(#gB)"/><ellipse cx="30.2" cy="187.6" rx="5.5" ry="4.7" transform="rotate(-20 30.2 187.6)" fill="url(#gA)"/><ellipse cx="125.1" cy="171.5" rx="5.4" ry="4.5" transform="rotate(-30 125.1 171.5)" fill="url(#gA)"/><ellipse cx="52.3" cy="274.5" rx="6.6" ry="5.1" transform="rotate(1 52.3 274.5)" fill="url(#gC)"/><ellipse cx="61.8" cy="255.5" rx="6.4" ry="4.8" transform="rotate(-23 61.8 255.5)" fill="url(#gB)"/><ellipse cx="60.9" cy="165.7" rx="6.3" ry="5" transform="rotate(-22 60.9 165.7)" fill="url(#gA)"/><ellipse cx="33.1" cy="233.2" rx="5.6" ry="4.4" transform="rotate(15 33.1 233.2)" fill="url(#gB)"/><ellipse cx="109.8" cy="213.3" rx="5.6" ry="4.8" transform="rotate(-18 109.8 213.3)" fill="url(#gD)"/><ellipse cx="105" cy="303.9" rx="6.5" ry="5" transform="rotate(-25 105 303.9)" fill="url(#gA)"/><ellipse cx="30.2" cy="226.5" rx="6.2" ry="5" transform="rotate(34 30.2 226.5)" fill="url(#gB)"/><ellipse cx="125.1" cy="222.7" rx="5.6" ry="4.7" transform="rotate(33 125.1 222.7)" fill="url(#gA)"/><ellipse cx="109.8" cy="241.2" rx="6.6" ry="4.9" transform="rotate(27 109.8 241.2)" fill="url(#gA)"/><ellipse cx="91.6" cy="253.6" rx="6" ry="4.7" transform="rotate(-17 91.6 253.6)" fill="url(#gC)"/><ellipse cx="111.8" cy="308.3" rx="5.3" ry="4.4" transform="rotate(31 111.8 308.3)" fill="url(#gB)"/><ellipse cx="120.4" cy="244.1" rx="5.4" ry="4.6" transform="rotate(23 120.4 244.1)" fill="url(#gA)"/><ellipse cx="71.5" cy="277.3" rx="6.5" ry="5.1" transform="rotate(18 71.5 277.3)" fill="url(#gB)"/><ellipse cx="108.8" cy="183.8" rx="5.2" ry="4.4" transform="rotate(28 108.8 183.8)" fill="url(#gA)"/><ellipse cx="103.1" cy="205.6" rx="5.5" ry="4.4" transform="rotate(-6 103.1 205.6)" fill="url(#gD)"/><ellipse cx="47.5" cy="185.7" rx="5.6" ry="4.4" transform="rotate(14 47.5 185.7)" fill="url(#gD)"/><ellipse cx="25.1" cy="307.2" rx="6.2" ry="4.7" transform="rotate(-30 25.1 307.2)" fill="url(#gA)"/><ellipse cx="36.9" cy="255.5" rx="6.7" ry="5" transform="rotate(-34 36.9 255.5)" fill="url(#gA)"/><ellipse cx="33.1" cy="199.9" rx="5.3" ry="4.4" transform="rotate(27 33.1 199.9)" fill="url(#gA)"/><ellipse cx="47.6" cy="282.5" rx="5.6" ry="4.5" transform="rotate(29 47.6 282.5)" fill="url(#gA)"/><ellipse cx="73.4" cy="196.1" rx="5.8" ry="4.9" transform="rotate(14 73.4 196.1)" fill="url(#gC)"/><ellipse cx="51.3" cy="296.4" rx="5.5" ry="4.6" transform="rotate(-9 51.3 296.4)" fill="url(#gA)"/><ellipse cx="111.7" cy="281.1" rx="5.3" ry="4.4" transform="rotate(13 111.7 281.1)" fill="url(#gA)"/><ellipse cx="116.5" cy="191.4" rx="6.1" ry="4.9" transform="rotate(-11 116.5 191.4)" fill="url(#gC)"/><ellipse cx="96.4" cy="225.6" rx="5" ry="4.4" transform="rotate(-19 96.4 225.6)" fill="url(#gA)"/><ellipse cx="121.9" cy="230.2" rx="6.4" ry="4.8" transform="rotate(29 121.9 230.2)" fill="url(#gB)"/><ellipse cx="128.5" cy="289.5" rx="6.2" ry="4.8" transform="rotate(-28 128.5 289.5)" fill="url(#gA)"/><ellipse cx="71.5" cy="168.6" rx="6" ry="4.7" transform="rotate(17 71.5 168.6)" fill="url(#gC)"/><ellipse cx="119.4" cy="179" rx="5.5" ry="4.5" transform="rotate(15 119.4 179)" fill="url(#gA)"/><ellipse cx="38.8" cy="281.1" rx="5.1" ry="4.3" transform="rotate(0 38.8 281.1)" fill="url(#gB)"/><ellipse cx="77.4" cy="161.4" rx="5.9" ry="4.6" transform="rotate(-22 77.4 161.4)" fill="url(#gA)"/><ellipse cx="68.8" cy="160.6" rx="5.6" ry="4.4" transform="rotate(34 68.8 160.6)" fill="url(#gB)"/><ellipse cx="90.7" cy="190.4" rx="5.6" ry="4.6" transform="rotate(-10 90.7 190.4)" fill="url(#gA)"/><ellipse cx="30.2" cy="217" rx="5.5" ry="4.6" transform="rotate(-21 30.2 217)" fill="url(#gA)"/><ellipse cx="116" cy="273.9" rx="5.9" ry="4.4" transform="rotate(15 116 273.9)" fill="url(#gC)"/><ellipse cx="63.7" cy="176.1" rx="5.8" ry="4.9" transform="rotate(-27 63.7 176.1)" fill="url(#gB)"/><ellipse cx="51.3" cy="220.8" rx="6.2" ry="4.8" transform="rotate(-33 51.3 220.8)" fill="url(#gC)"/><ellipse cx="101.2" cy="246.9" rx="5.5" ry="4.7" transform="rotate(-20 101.2 246.9)" fill="url(#gC)"/><ellipse cx="77.2" cy="206.6" rx="5.6" ry="4.8" transform="rotate(-29 77.2 206.6)" fill="url(#gC)"/><ellipse cx="71.5" cy="264" rx="5.9" ry="5" transform="rotate(8 71.5 264)" fill="url(#gC)"/><ellipse cx="39.9" cy="294.4" rx="5.3" ry="4.6" transform="rotate(16 39.9 294.4)" fill="url(#gC)"/><ellipse cx="36" cy="210.4" rx="5.5" ry="4.7" transform="rotate(-30 36 210.4)" fill="url(#gC)"/><ellipse cx="31.2" cy="171.5" rx="5.4" ry="4.3" transform="rotate(-18 31.2 171.5)" fill="url(#gC)"/><ellipse cx="129" cy="260.2" rx="6.5" ry="4.9" transform="rotate(-23 129 260.2)" fill="url(#gA)"/><ellipse cx="106.9" cy="226.5" rx="5.8" ry="4.4" transform="rotate(-32 106.9 226.5)" fill="url(#gB)"/><ellipse cx="55.5" cy="245.4" rx="5.8" ry="4.4" transform="rotate(-1 55.5 245.4)" fill="url(#gA)"/><ellipse cx="98.3" cy="292.5" rx="6" ry="5" transform="rotate(2 98.3 292.5)" fill="url(#gA)"/><ellipse cx="41.8" cy="243.1" rx="6.3" ry="5" transform="rotate(3 41.8 243.1)" fill="url(#gA)"/><ellipse cx="74.3" cy="302" rx="5.2" ry="4.4" transform="rotate(-34 74.3 302)" fill="url(#gE)"/><ellipse cx="79.1" cy="270.7" rx="6" ry="4.9" transform="rotate(15 79.1 270.7)" fill="url(#gA)"/><ellipse cx="53.2" cy="172.4" rx="6" ry="4.9" transform="rotate(6 53.2 172.4)" fill="url(#gA)"/><ellipse cx="89.6" cy="263" rx="5.9" ry="4.5" transform="rotate(22 89.6 263)" fill="url(#gA)"/><ellipse cx="56.1" cy="202.8" rx="5.6" ry="4.4" transform="rotate(26 56.1 202.8)" fill="url(#gB)"/><ellipse cx="102.1" cy="259.2" rx="5.5" ry="4.6" transform="rotate(6 102.1 259.2)" fill="url(#gA)"/><ellipse cx="28.8" cy="252.9" rx="5.7" ry="4.8" transform="rotate(28 28.8 252.9)" fill="url(#gC)"/><ellipse cx="25.7" cy="194.4" rx="5.8" ry="4.7" transform="rotate(-22 25.7 194.4)" fill="url(#gA)"/><ellipse cx="112.6" cy="231.9" rx="6.4" ry="5.1" transform="rotate(26 112.6 231.9)" fill="url(#gA)"/><ellipse cx="54.2" cy="302.9" rx="5.9" ry="4.9" transform="rotate(15 54.2 302.9)" fill="url(#gB)"/></g><g id="pRB"><rect x="126.30000000000001" y="160.2" width="104" height="149.7" fill="#545438"/><ellipse cx="223.9" cy="215.2" rx="2.9" ry="3.4" fill="#a8a6a0"/><ellipse cx="217.7" cy="209.1" rx="3.8" ry="3.5" fill="#a8a6a0"/><ellipse cx="204.6" cy="195.9" rx="3.5" ry="2.6" fill="#a8a6a0"/><ellipse cx="136.8" cy="224.5" rx="2.6" ry="2.5" fill="#a8a6a0"/><ellipse cx="190.1" cy="204.3" rx="3.3" ry="3.8" fill="#a8a6a0"/><ellipse cx="206.5" cy="253.1" rx="2.3" ry="2.7" fill="#a8a6a0"/><ellipse cx="186.3" cy="294.1" rx="3.9" ry="2.6" fill="#a8a6a0"/><ellipse cx="219.3" cy="271.8" rx="2.4" ry="3.3" fill="#a8a6a0"/><ellipse cx="217.9" cy="178.3" rx="3.9" ry="3.2" fill="#a8a6a0"/><ellipse cx="149.9" cy="251.6" rx="3.8" ry="3.9" fill="#a8a6a0"/><ellipse cx="158.9" cy="216" rx="2.2" ry="3.9" fill="#a8a6a0"/><ellipse cx="219" cy="240" rx="2.4" ry="3.3" fill="#a8a6a0"/><ellipse cx="182.2" cy="261.5" rx="2.8" ry="3.1" fill="#a8a6a0"/><ellipse cx="156.8" cy="179" rx="2.6" ry="2.9" fill="#a8a6a0"/><ellipse cx="161" cy="230.8" rx="2.5" ry="3.5" fill="#a8a6a0"/><ellipse cx="142.1" cy="202.7" rx="2.8" ry="2.9" fill="#a8a6a0"/><ellipse cx="209.8" cy="226.9" rx="2.5" ry="3.1" fill="#a8a6a0"/><ellipse cx="211.5" cy="283.1" rx="3.1" ry="2.7" fill="#a8a6a0"/><ellipse cx="211.6" cy="258.8" rx="2.9" ry="2.4" fill="#a8a6a0"/><ellipse cx="210.3" cy="194.2" rx="3.8" ry="2.6" fill="#a8a6a0"/><ellipse cx="212.2" cy="245.2" rx="3.3" ry="3.5" fill="#a8a6a0"/><ellipse cx="171.3" cy="249.7" rx="3.1" ry="2.1" fill="#a8a6a0"/><ellipse cx="220.3" cy="219.1" rx="3.3" ry="3.5" fill="#a8a6a0"/><ellipse cx="137.3" cy="190.7" rx="3.2" ry="3.5" fill="#a8a6a0"/><ellipse cx="154.2" cy="234.8" rx="2.9" ry="3.2" fill="#a8a6a0"/><ellipse cx="206.3" cy="289.7" rx="3.2" ry="2.7" fill="#a8a6a0"/><ellipse cx="211.4" cy="295.4" rx="2.4" ry="2.7" fill="#a8a6a0"/><ellipse cx="223.1" cy="199.9" rx="3" ry="2" fill="#a8a6a0"/><ellipse cx="213.6" cy="189.4" rx="2" ry="2.9" fill="#a8a6a0"/><ellipse cx="180.5" cy="275" rx="3.3" ry="2.5" fill="#a8a6a0"/><ellipse cx="180.4" cy="193.4" rx="2.7" ry="3.7" fill="#a8a6a0"/><ellipse cx="220.2" cy="174.7" rx="2.3" ry="2.7" fill="#a8a6a0"/><ellipse cx="165.6" cy="255.3" rx="2.2" ry="2" fill="#a8a6a0"/><ellipse cx="145.6" cy="271.3" rx="3.4" ry="3.3" fill="#a8a6a0"/><ellipse cx="184.9" cy="192.2" rx="3.7" ry="3.5" fill="#a8a6a0"/><ellipse cx="158.9" cy="268.5" rx="2.3" ry="2.9" fill="#a8a6a0"/><ellipse cx="214.5" cy="304.1" rx="3" ry="2.6" fill="#a8a6a0"/><ellipse cx="150.6" cy="172.3" rx="2.3" ry="2.6" fill="#a8a6a0"/><ellipse cx="203.1" cy="295.9" rx="3.6" ry="3.4" fill="#a8a6a0"/><ellipse cx="151.5" cy="174.1" rx="2.6" ry="2.2" fill="#a8a6a0"/><ellipse cx="208.5" cy="168" rx="3.2" ry="2.5" fill="#a8a6a0"/><ellipse cx="221.9" cy="233.2" rx="3.4" ry="3" fill="#a8a6a0"/><ellipse cx="146.8" cy="188.3" rx="3" ry="3.9" fill="#a8a6a0"/><ellipse cx="208.3" cy="261.4" rx="3.5" ry="3.8" fill="#a8a6a0"/><ellipse cx="185.5" cy="219.2" rx="3.8" ry="3.2" fill="#a8a6a0"/><ellipse cx="212.4" cy="294.3" rx="5.1" ry="4.4" transform="rotate(87 212.4 294.3)" fill="url(#gA)"/><ellipse cx="126.6" cy="208.8" rx="5.3" ry="4.8" transform="rotate(92 126.6 208.8)" fill="url(#gA)"/><ellipse cx="126.7" cy="160.8" rx="5.6" ry="4.8" transform="rotate(118 126.7 160.8)" fill="url(#gB)"/><ellipse cx="201.3" cy="211" rx="5.5" ry="4.7" transform="rotate(119 201.3 211)" fill="url(#rB)"/><ellipse cx="222.6" cy="246" rx="5.1" ry="4.7" transform="rotate(119 222.6 246)" fill="url(#rC)"/><ellipse cx="192.3" cy="179.4" rx="5" ry="4.4" transform="rotate(102 192.3 179.4)" fill="url(#gA)"/><ellipse cx="152.1" cy="228.3" rx="6.2" ry="5.3" transform="rotate(81 152.1 228.3)" fill="url(#rB)"/><ellipse cx="184.4" cy="273.6" rx="5.2" ry="4.8" transform="rotate(65 184.4 273.6)" fill="url(#gC)"/><ellipse cx="213.6" cy="223.7" rx="5.2" ry="4.5" transform="rotate(98 213.6 223.7)" fill="url(#gA)"/><ellipse cx="134.5" cy="309" rx="4.9" ry="4.5" transform="rotate(71 134.5 309)" fill="url(#gB)"/><ellipse cx="167.9" cy="178.5" rx="5.8" ry="4.8" transform="rotate(79 167.9 178.5)" fill="url(#rC)"/><ellipse cx="173.8" cy="161.2" rx="5.3" ry="4.8" transform="rotate(69 173.8 161.2)" fill="url(#gB)"/><ellipse cx="187.3" cy="196.2" rx="5.4" ry="5" transform="rotate(91 187.3 196.2)" fill="url(#rC)"/><ellipse cx="218" cy="280.3" rx="5.4" ry="4.9" transform="rotate(115 218 280.3)" fill="url(#rA)"/><ellipse cx="126.8" cy="258.6" rx="5.8" ry="4.9" transform="rotate(60 126.8 258.6)" fill="url(#gA)"/><ellipse cx="181.7" cy="254.8" rx="5.4" ry="4.8" transform="rotate(65 181.7 254.8)" fill="url(#gC)"/><ellipse cx="220.2" cy="289.1" rx="5.4" ry="4.7" transform="rotate(64 220.2 289.1)" fill="url(#gB)"/><ellipse cx="227" cy="216.9" rx="5.7" ry="5" transform="rotate(88 227 216.9)" fill="url(#rC)"/><ellipse cx="225.4" cy="193.9" rx="5.2" ry="4.6" transform="rotate(111 225.4 193.9)" fill="url(#gB)"/><ellipse cx="196.6" cy="309" rx="5.4" ry="4.8" transform="rotate(66 196.6 309)" fill="url(#gB)"/><ellipse cx="177.1" cy="286.8" rx="6.2" ry="5.2" transform="rotate(97 177.1 286.8)" fill="url(#rB)"/><ellipse cx="163.2" cy="247.8" rx="5.5" ry="4.7" transform="rotate(60 163.2 247.8)" fill="url(#gD)"/><ellipse cx="203.9" cy="292.8" rx="4.9" ry="4.5" transform="rotate(112 203.9 292.8)" fill="url(#gB)"/><ellipse cx="174.5" cy="204.7" rx="4.6" ry="4.3" transform="rotate(83 174.5 204.7)" fill="url(#gA)"/><ellipse cx="141.9" cy="257.1" rx="5.3" ry="5" transform="rotate(118 141.9 257.1)" fill="url(#rA)"/><ellipse cx="208.8" cy="284.9" rx="5.1" ry="4.7" transform="rotate(104 208.8 284.9)" fill="url(#gC)"/><ellipse cx="201.5" cy="273.4" rx="5" ry="4.6" transform="rotate(107 201.5 273.4)" fill="url(#gB)"/><ellipse cx="200.4" cy="201.4" rx="5.6" ry="4.8" transform="rotate(102 200.4 201.4)" fill="url(#gB)"/><ellipse cx="202.2" cy="177" rx="5.2" ry="4.6" transform="rotate(70 202.2 177)" fill="url(#gA)"/><ellipse cx="210.5" cy="302.5" rx="6.2" ry="5" transform="rotate(61 210.5 302.5)" fill="url(#rC)"/><ellipse cx="166.1" cy="204.6" rx="5.4" ry="4.4" transform="rotate(80 166.1 204.6)" fill="url(#gC)"/><ellipse cx="142.8" cy="282.1" rx="5.4" ry="4.7" transform="rotate(116 142.8 282.1)" fill="url(#rA)"/><ellipse cx="228.1" cy="252.4" rx="5.4" ry="4.4" transform="rotate(102 228.1 252.4)" fill="url(#gB)"/><ellipse cx="180.9" cy="220.7" rx="5.4" ry="4.7" transform="rotate(93 180.9 220.7)" fill="url(#gC)"/><ellipse cx="194" cy="278.6" rx="5" ry="4.5" transform="rotate(62 194 278.6)" fill="url(#gB)"/><ellipse cx="128.9" cy="222.1" rx="6" ry="5.2" transform="rotate(64 128.9 222.1)" fill="url(#rC)"/><ellipse cx="155.8" cy="164" rx="5.4" ry="4.4" transform="rotate(81 155.8 164)" fill="url(#gB)"/><ellipse cx="133.5" cy="242.1" rx="5.3" ry="4.9" transform="rotate(88 133.5 242.1)" fill="url(#gA)"/><ellipse cx="134.6" cy="299.9" rx="5.1" ry="4.5" transform="rotate(112 134.6 299.9)" fill="url(#gA)"/><ellipse cx="203.3" cy="229.2" rx="5.3" ry="4.7" transform="rotate(69 203.3 229.2)" fill="url(#gB)"/><ellipse cx="229.2" cy="309.6" rx="5.5" ry="4.8" transform="rotate(110 229.2 309.6)" fill="url(#gC)"/><ellipse cx="225.4" cy="225.8" rx="5.7" ry="4.8" transform="rotate(115 225.4 225.8)" fill="url(#rB)"/><ellipse cx="198.7" cy="191.7" rx="4.9" ry="4.6" transform="rotate(72 198.7 191.7)" fill="url(#gB)"/><ellipse cx="170.1" cy="186.9" rx="5.1" ry="4.5" transform="rotate(64 170.1 186.9)" fill="url(#gC)"/><ellipse cx="209.9" cy="213.3" rx="5.1" ry="4.4" transform="rotate(64 209.9 213.3)" fill="url(#gB)"/><ellipse cx="191.1" cy="208.3" rx="5.6" ry="4.5" transform="rotate(90 191.1 208.3)" fill="url(#gC)"/><ellipse cx="160.3" cy="172.5" rx="5.9" ry="4.7" transform="rotate(108 160.3 172.5)" fill="url(#gB)"/><ellipse cx="201.4" cy="301.7" rx="4.8" ry="4.3" transform="rotate(72 201.4 301.7)" fill="url(#gB)"/><ellipse cx="215.1" cy="206.3" rx="5.4" ry="4.7" transform="rotate(92 215.1 206.3)" fill="url(#gB)"/><ellipse cx="225.3" cy="182.1" rx="5.5" ry="4.7" transform="rotate(64 225.3 182.1)" fill="url(#gC)"/><ellipse cx="155.8" cy="209.1" rx="5.7" ry="4.7" transform="rotate(70 155.8 209.1)" fill="url(#rB)"/><ellipse cx="208.7" cy="265.5" rx="5.7" ry="4.8" transform="rotate(108 208.7 265.5)" fill="url(#rB)"/><ellipse cx="154.9" cy="278.4" rx="4.8" ry="4.3" transform="rotate(70 154.9 278.4)" fill="url(#gC)"/><ellipse cx="190.9" cy="188.1" rx="5.5" ry="4.7" transform="rotate(103 190.9 188.1)" fill="url(#rA)"/><ellipse cx="188.7" cy="235.4" rx="6.2" ry="5.2" transform="rotate(83 188.7 235.4)" fill="url(#rB)"/><ellipse cx="167.9" cy="227.7" rx="5.7" ry="5" transform="rotate(95 167.9 227.7)" fill="url(#rB)"/><ellipse cx="193.8" cy="294.2" rx="5.7" ry="5" transform="rotate(93 193.8 294.2)" fill="url(#rC)"/><ellipse cx="190.1" cy="267.3" rx="5.4" ry="5.2" transform="rotate(107 190.1 267.3)" fill="url(#rA)"/><ellipse cx="135.3" cy="233.8" rx="5" ry="4.6" transform="rotate(78 135.3 233.8)" fill="url(#gB)"/><ellipse cx="149.3" cy="220.2" rx="4.8" ry="4.4" transform="rotate(87 149.3 220.2)" fill="url(#gB)"/><ellipse cx="192.7" cy="166.2" rx="5" ry="4.3" transform="rotate(114 192.7 166.2)" fill="url(#gB)"/><ellipse cx="229.6" cy="273.3" rx="5.4" ry="4.8" transform="rotate(70 229.6 273.3)" fill="url(#gA)"/><ellipse cx="152.1" cy="304.4" rx="5.8" ry="4.8" transform="rotate(90 152.1 304.4)" fill="url(#rA)"/><ellipse cx="215.1" cy="250.9" rx="5.3" ry="4.4" transform="rotate(99 215.1 250.9)" fill="url(#gB)"/><ellipse cx="131.7" cy="288.6" rx="5.7" ry="4.8" transform="rotate(112 131.7 288.6)" fill="url(#rC)"/><ellipse cx="154" cy="289.6" rx="5.6" ry="5.2" transform="rotate(74 154 289.6)" fill="url(#rA)"/><ellipse cx="174.9" cy="306.1" rx="5.7" ry="4.8" transform="rotate(93 174.9 306.1)" fill="url(#gB)"/><ellipse cx="171.2" cy="297.7" rx="5" ry="4.7" transform="rotate(113 171.2 297.7)" fill="url(#gC)"/><ellipse cx="181.6" cy="164.3" rx="5.6" ry="4.9" transform="rotate(78 181.6 164.3)" fill="url(#gB)"/><ellipse cx="163.3" cy="257.1" rx="5.2" ry="4.7" transform="rotate(77 163.3 257.1)" fill="url(#gB)"/><ellipse cx="138.2" cy="206.6" rx="5.3" ry="4.3" transform="rotate(98 138.2 206.6)" fill="url(#gB)"/><ellipse cx="190.3" cy="256.9" rx="5.4" ry="4.8" transform="rotate(79 190.3 256.9)" fill="url(#gB)"/><ellipse cx="172.2" cy="220.4" rx="4.8" ry="4.3" transform="rotate(98 172.2 220.4)" fill="url(#gC)"/><ellipse cx="144.3" cy="291.2" rx="5.6" ry="4.6" transform="rotate(72 144.3 291.2)" fill="url(#gC)"/><ellipse cx="215.3" cy="259.5" rx="5.9" ry="4.8" transform="rotate(91 215.3 259.5)" fill="url(#gC)"/><ellipse cx="225.4" cy="282.1" rx="6" ry="5.3" transform="rotate(105 225.4 282.1)" fill="url(#rB)"/><ellipse cx="230.3" cy="208.9" rx="5.9" ry="4.8" transform="rotate(99 230.3 208.9)" fill="url(#gB)"/><ellipse cx="172.4" cy="263.4" rx="5.1" ry="4.6" transform="rotate(102 172.4 263.4)" fill="url(#gA)"/><ellipse cx="149.6" cy="173.8" rx="5.4" ry="4.5" transform="rotate(98 149.6 173.8)" fill="url(#gB)"/><ellipse cx="143.5" cy="305.3" rx="5.8" ry="4.7" transform="rotate(66 143.5 305.3)" fill="url(#gB)"/><ellipse cx="183" cy="204" rx="4.8" ry="4.4" transform="rotate(78 183 204)" fill="url(#gA)"/><ellipse cx="219" cy="300.8" rx="5.2" ry="4.6" transform="rotate(97 219 300.8)" fill="url(#gC)"/><ellipse cx="210.9" cy="179.5" rx="5.1" ry="4.6" transform="rotate(97 210.9 179.5)" fill="url(#gB)"/><ellipse cx="177.1" cy="228.6" rx="6.3" ry="5.2" transform="rotate(119 177.1 228.6)" fill="url(#rC)"/><ellipse cx="160.6" cy="309" rx="5.9" ry="4.8" transform="rotate(104 160.6 309)" fill="url(#gB)"/><ellipse cx="164.2" cy="292.3" rx="6.1" ry="5.3" transform="rotate(83 164.2 292.3)" fill="url(#rB)"/><ellipse cx="223.5" cy="203.6" rx="5.8" ry="4.8" transform="rotate(91 223.5 203.6)" fill="url(#rA)"/><ellipse cx="150.3" cy="197.9" rx="5.6" ry="4.7" transform="rotate(96 150.3 197.9)" fill="url(#gB)"/><ellipse cx="172.6" cy="243.9" rx="4.9" ry="4.3" transform="rotate(61 172.6 243.9)" fill="url(#gA)"/><ellipse cx="127" cy="304.8" rx="5.4" ry="4.4" transform="rotate(102 127 304.8)" fill="url(#gA)"/><ellipse cx="211.5" cy="243.2" rx="6" ry="5.3" transform="rotate(63 211.5 243.2)" fill="url(#rB)"/><ellipse cx="219.2" cy="176.1" rx="5.6" ry="4.8" transform="rotate(77 219.2 176.1)" fill="url(#gB)"/><ellipse cx="177.1" cy="212.9" rx="6.4" ry="5.3" transform="rotate(72 177.1 212.9)" fill="url(#rB)"/><ellipse cx="223.5" cy="164.6" rx="5.6" ry="5.2" transform="rotate(68 223.5 164.6)" fill="url(#rB)"/><ellipse cx="159.5" cy="196.2" rx="5.7" ry="5.1" transform="rotate(92 159.5 196.2)" fill="url(#rB)"/><ellipse cx="206.6" cy="257.2" rx="5" ry="4.7" transform="rotate(80 206.6 257.2)" fill="url(#gA)"/><ellipse cx="126.8" cy="296.3" rx="5.7" ry="4.8" transform="rotate(110 126.8 296.3)" fill="url(#gA)"/><ellipse cx="172.5" cy="252.5" rx="5.2" ry="4.4" transform="rotate(111 172.5 252.5)" fill="url(#gC)"/><ellipse cx="143.8" cy="230.5" rx="5.8" ry="5.1" transform="rotate(118 143.8 230.5)" fill="url(#rB)"/><ellipse cx="140.1" cy="172.1" rx="5.5" ry="5.1" transform="rotate(67 140.1 172.1)" fill="url(#rB)"/><ellipse cx="138.5" cy="162.5" rx="5.1" ry="4.8" transform="rotate(85 138.5 162.5)" fill="url(#gA)"/><ellipse cx="211.4" cy="160.5" rx="5.3" ry="4.4" transform="rotate(66 211.4 160.5)" fill="url(#gA)"/><ellipse cx="133.6" cy="188.7" rx="5.9" ry="5.2" transform="rotate(79 133.6 188.7)" fill="url(#rA)"/><ellipse cx="209" cy="200" rx="5.3" ry="4.7" transform="rotate(90 209 200)" fill="url(#gC)"/><ellipse cx="230.1" cy="241.7" rx="5" ry="4.3" transform="rotate(79 230.1 241.7)" fill="url(#gB)"/><ellipse cx="217" cy="196.7" rx="4.8" ry="4.3" transform="rotate(116 217 196.7)" fill="url(#gD)"/><ellipse cx="219.4" cy="309.8" rx="5.1" ry="4.7" transform="rotate(73 219.4 309.8)" fill="url(#gC)"/><ellipse cx="127.4" cy="248" rx="5.3" ry="4.6" transform="rotate(94 127.4 248)" fill="url(#gB)"/><ellipse cx="182.7" cy="243.2" rx="5.8" ry="4.7" transform="rotate(96 182.7 243.2)" fill="url(#rA)"/><ellipse cx="225" cy="234.9" rx="4.6" ry="4.3" transform="rotate(70 225 234.9)" fill="url(#gB)"/><ellipse cx="153" cy="269.2" rx="5.3" ry="4.7" transform="rotate(86 153 269.2)" fill="url(#rC)"/><ellipse cx="152.1" cy="259" rx="5.9" ry="5.2" transform="rotate(98 152.1 259)" fill="url(#rA)"/><ellipse cx="151.2" cy="237.6" rx="5.4" ry="5" transform="rotate(89 151.2 237.6)" fill="url(#rA)"/><ellipse cx="134.2" cy="279.8" rx="6" ry="4.8" transform="rotate(107 134.2 279.8)" fill="url(#gB)"/><ellipse cx="134.8" cy="262.4" rx="5" ry="4.5" transform="rotate(78 134.8 262.4)" fill="url(#gA)"/><ellipse cx="180.9" cy="173" rx="6.2" ry="5.2" transform="rotate(85 180.9 173)" fill="url(#rA)"/><ellipse cx="210.3" cy="233.9" rx="5.1" ry="4.7" transform="rotate(88 210.3 233.9)" fill="url(#gB)"/><ellipse cx="210.5" cy="188.7" rx="5.7" ry="5.2" transform="rotate(91 210.5 188.7)" fill="url(#rA)"/><ellipse cx="148.4" cy="185.9" rx="4.9" ry="4.5" transform="rotate(76 148.4 185.9)" fill="url(#gA)"/><ellipse cx="172.8" cy="170.3" rx="5" ry="4.5" transform="rotate(79 172.8 170.3)" fill="url(#gB)"/><ellipse cx="166.3" cy="278.4" rx="4.9" ry="4.3" transform="rotate(81 166.3 278.4)" fill="url(#gA)"/><ellipse cx="199.4" cy="261.7" rx="5.7" ry="4.8" transform="rotate(62 199.4 261.7)" fill="url(#rA)"/><ellipse cx="184" cy="309.9" rx="5.9" ry="4.8" transform="rotate(60 184 309.9)" fill="url(#gC)"/><ellipse cx="135.8" cy="250.3" rx="5.3" ry="4.8" transform="rotate(92 135.8 250.3)" fill="url(#gA)"/><ellipse cx="138.8" cy="198.2" rx="5.2" ry="4.8" transform="rotate(71 138.8 198.2)" fill="url(#gB)"/><ellipse cx="186" cy="283.6" rx="5.7" ry="4.6" transform="rotate(60 186 283.6)" fill="url(#gA)"/><ellipse cx="205" cy="220.3" rx="6.4" ry="5.3" transform="rotate(80 205 220.3)" fill="url(#rA)"/><ellipse cx="139.9" cy="221.4" rx="5.1" ry="4.5" transform="rotate(77 139.9 221.4)" fill="url(#gD)"/><ellipse cx="131.1" cy="270.8" rx="5.5" ry="4.8" transform="rotate(109 131.1 270.8)" fill="url(#gB)"/><ellipse cx="202.6" cy="239.8" rx="5.3" ry="4.8" transform="rotate(71 202.6 239.8)" fill="url(#gB)"/><ellipse cx="141.9" cy="270.1" rx="6.3" ry="5.1" transform="rotate(86 141.9 270.1)" fill="url(#rB)"/><ellipse cx="177.1" cy="278.4" rx="5.2" ry="4.4" transform="rotate(90 177.1 278.4)" fill="url(#gC)"/><ellipse cx="180.2" cy="295.7" rx="5.1" ry="4.5" transform="rotate(69 180.2 295.7)" fill="url(#gA)"/><ellipse cx="167.8" cy="236.3" rx="5.6" ry="4.8" transform="rotate(107 167.8 236.3)" fill="url(#gC)"/><ellipse cx="169.7" cy="196.2" rx="6.1" ry="5.2" transform="rotate(107 169.7 196.2)" fill="url(#rA)"/><ellipse cx="218.4" cy="215.9" rx="5.3" ry="4.8" transform="rotate(107 218.4 215.9)" fill="url(#gB)"/><ellipse cx="202.2" cy="167.4" rx="5.5" ry="4.7" transform="rotate(71 202.2 167.4)" fill="url(#rA)"/><ellipse cx="140.7" cy="180.9" rx="5.3" ry="4.8" transform="rotate(94 140.7 180.9)" fill="url(#gC)"/><ellipse cx="220.7" cy="269.2" rx="5.1" ry="4.7" transform="rotate(113 220.7 269.2)" fill="url(#rC)"/><ellipse cx="141.9" cy="244.1" rx="5.9" ry="4.8" transform="rotate(68 141.9 244.1)" fill="url(#rA)"/><ellipse cx="165.5" cy="164" rx="5.5" ry="4.6" transform="rotate(89 165.5 164)" fill="url(#gB)"/><ellipse cx="205.8" cy="309.5" rx="4.6" ry="4.3" transform="rotate(104 205.8 309.5)" fill="url(#gB)"/><ellipse cx="159.5" cy="238.6" rx="5.8" ry="5.2" transform="rotate(107 159.5 238.6)" fill="url(#rA)"/><ellipse cx="191.6" cy="246.2" rx="4.8" ry="4.4" transform="rotate(68 191.6 246.2)" fill="url(#gC)"/><ellipse cx="159.5" cy="220.3" rx="6" ry="5" transform="rotate(96 159.5 220.3)" fill="url(#rA)"/><ellipse cx="226.4" cy="261.7" rx="5.4" ry="4.6" transform="rotate(70 226.4 261.7)" fill="url(#gD)"/><ellipse cx="162.7" cy="300.7" rx="5.9" ry="4.8" transform="rotate(61 162.7 300.7)" fill="url(#gA)"/><ellipse cx="154.5" cy="246.8" rx="4.8" ry="4.3" transform="rotate(64 154.5 246.8)" fill="url(#gD)"/><ellipse cx="200.3" cy="284.9" rx="6" ry="5.2" transform="rotate(116 200.3 284.9)" fill="url(#rA)"/><ellipse cx="229.4" cy="290.8" rx="4.9" ry="4.4" transform="rotate(87 229.4 290.8)" fill="url(#gA)"/><ellipse cx="147.5" cy="165.6" rx="6.2" ry="5" transform="rotate(61 147.5 165.6)" fill="url(#rC)"/><ellipse cx="165.7" cy="214.4" rx="5.2" ry="4.5" transform="rotate(79 165.7 214.4)" fill="url(#gC)"/><ellipse cx="202.2" cy="248.8" rx="5.6" ry="5.1" transform="rotate(86 202.2 248.8)" fill="url(#rC)"/><ellipse cx="161.2" cy="187.9" rx="5.4" ry="4.9" transform="rotate(85 161.2 187.9)" fill="url(#gE)"/><ellipse cx="131.7" cy="168.3" rx="5.5" ry="5.1" transform="rotate(98 131.7 168.3)" fill="url(#rB)"/><ellipse cx="156.7" cy="180.8" rx="5.6" ry="4.5" transform="rotate(95 156.7 180.8)" fill="url(#gC)"/><ellipse cx="127.5" cy="176.1" rx="5.4" ry="4.6" transform="rotate(63 127.5 176.1)" fill="url(#gB)"/><ellipse cx="145" cy="211.7" rx="5.9" ry="4.8" transform="rotate(85 145 211.7)" fill="url(#gB)"/><ellipse cx="126.8" cy="230.3" rx="5" ry="4.6" transform="rotate(116 126.8 230.3)" fill="url(#gB)"/><ellipse cx="130.8" cy="200.8" rx="5.6" ry="5.1" transform="rotate(95 130.8 200.8)" fill="url(#rC)"/><ellipse cx="226.8" cy="172.4" rx="5.3" ry="4.4" transform="rotate(118 226.8 172.4)" fill="url(#gA)"/><ellipse cx="133.7" cy="213.9" rx="5.8" ry="4.9" transform="rotate(91 133.7 213.9)" fill="url(#gB)"/><ellipse cx="177.4" cy="191.4" rx="5.2" ry="4.7" transform="rotate(97 177.4 191.4)" fill="url(#gB)"/><ellipse cx="195.7" cy="224.9" rx="6" ry="5" transform="rotate(116 195.7 224.9)" fill="url(#rA)"/><ellipse cx="183.6" cy="182.3" rx="5.5" ry="4.9" transform="rotate(82 183.6 182.3)" fill="url(#rB)"/><ellipse cx="216.1" cy="168.3" rx="6" ry="5.2" transform="rotate(102 216.1 168.3)" fill="url(#rA)"/><ellipse cx="229.7" cy="300.3" rx="5.4" ry="4.4" transform="rotate(77 229.7 300.3)" fill="url(#gB)"/><ellipse cx="167" cy="270" rx="4.8" ry="4.5" transform="rotate(115 167 270)" fill="url(#gD)"/><ellipse cx="210.8" cy="275.3" rx="5.5" ry="4.7" transform="rotate(98 210.8 275.3)" fill="url(#rC)"/><ellipse cx="182.7" cy="264.5" rx="5.9" ry="4.9" transform="rotate(110 182.7 264.5)" fill="url(#rA)"/><ellipse cx="190.1" cy="303.5" rx="6.1" ry="5" transform="rotate(84 190.1 303.5)" fill="url(#rA)"/><ellipse cx="189.2" cy="216.6" rx="5.2" ry="4.7" transform="rotate(84 189.2 216.6)" fill="url(#rA)"/></g><g id="pLC"><rect x="23.8" y="315.6" width="105.8" height="151" fill="#3e4420"/><ellipse cx="78.7" cy="458.5" rx="2.7" ry="3.4" fill="#8e8e84"/><ellipse cx="120" cy="325" rx="3.3" ry="3.7" fill="#8e8e84"/><ellipse cx="114.7" cy="404.5" rx="2.2" ry="2.7" fill="#8e8e84"/><ellipse cx="27" cy="433.9" rx="2.7" ry="2.4" fill="#8e8e84"/><ellipse cx="40.7" cy="323.6" rx="2.3" ry="2.2" fill="#8e8e84"/><ellipse cx="49.2" cy="369" rx="3.7" ry="2.3" fill="#8e8e84"/><ellipse cx="48.6" cy="354.2" rx="2.5" ry="3.7" fill="#8e8e84"/><ellipse cx="70.5" cy="383.7" rx="2.7" ry="3.8" fill="#8e8e84"/><ellipse cx="70.6" cy="384.9" rx="3.1" ry="3.3" fill="#8e8e84"/><ellipse cx="93" cy="451.4" rx="3.2" ry="2.8" fill="#8e8e84"/><ellipse cx="62.2" cy="397.2" rx="2.5" ry="2.3" fill="#8e8e84"/><ellipse cx="31.9" cy="391.1" rx="2.6" ry="3.5" fill="#8e8e84"/><ellipse cx="75.2" cy="385.6" rx="3.1" ry="3.8" fill="#8e8e84"/><ellipse cx="116.3" cy="424.8" rx="2.2" ry="3.6" fill="#8e8e84"/><ellipse cx="52.7" cy="330.1" rx="2.1" ry="2.3" fill="#8e8e84"/><ellipse cx="69.8" cy="410.7" rx="2.5" ry="3.8" fill="#8e8e84"/><ellipse cx="78.6" cy="417.7" rx="2.3" ry="3.5" fill="#8e8e84"/><ellipse cx="57.8" cy="378.2" rx="2" ry="3.3" fill="#8e8e84"/><ellipse cx="96.5" cy="399" rx="2.3" ry="2.8" fill="#8e8e84"/><ellipse cx="46.7" cy="441.4" rx="2.7" ry="3.9" fill="#8e8e84"/><ellipse cx="100.5" cy="425.3" rx="3.2" ry="2.5" fill="#8e8e84"/><ellipse cx="97.5" cy="462.5" rx="2.7" ry="3.5" fill="#8e8e84"/><ellipse cx="50.4" cy="436" rx="2.5" ry="3.4" fill="#8e8e84"/><ellipse cx="108.7" cy="376.4" rx="2" ry="3.2" fill="#8e8e84"/><ellipse cx="42.8" cy="380.5" rx="2.4" ry="2.5" fill="#8e8e84"/><ellipse cx="96.5" cy="387.8" rx="2.3" ry="2.1" fill="#8e8e84"/><ellipse cx="118.9" cy="394.3" rx="3.4" ry="3.6" fill="#8e8e84"/><ellipse cx="123.4" cy="339.2" rx="2.2" ry="3.4" fill="#8e8e84"/><ellipse cx="108.1" cy="455.7" rx="3.6" ry="3.6" fill="#8e8e84"/><ellipse cx="86.9" cy="368.7" rx="3.8" ry="3.4" fill="#8e8e84"/><ellipse cx="55" cy="334.5" rx="3.9" ry="2.4" fill="#8e8e84"/><ellipse cx="53.7" cy="461" rx="3.2" ry="3.2" fill="#8e8e84"/><ellipse cx="71.2" cy="365.1" rx="3.6" ry="2.1" fill="#8e8e84"/><ellipse cx="67.5" cy="462.6" rx="2.2" ry="2.8" fill="#8e8e84"/><ellipse cx="77.7" cy="361.8" rx="2.1" ry="2.3" fill="#8e8e84"/><ellipse cx="30.7" cy="447.8" rx="2.6" ry="3" fill="#8e8e84"/><ellipse cx="104.4" cy="344.7" rx="2.5" ry="2.6" fill="#8e8e84"/><ellipse cx="38.8" cy="442.6" rx="2.3" ry="3.6" fill="#8e8e84"/><ellipse cx="44.5" cy="370.9" rx="3.9" ry="3.2" fill="#8e8e84"/><ellipse cx="124.8" cy="325" rx="3.4" ry="3.3" fill="#8e8e84"/><ellipse cx="50.9" cy="394.2" rx="3.3" ry="2.5" fill="#8e8e84"/><ellipse cx="117.2" cy="320.2" rx="2.4" ry="2.5" fill="#8e8e84"/><ellipse cx="57.4" cy="376.1" rx="3" ry="2.3" fill="#8e8e84"/><ellipse cx="39.2" cy="347.8" rx="2.1" ry="3" fill="#8e8e84"/><ellipse cx="95.1" cy="384.2" rx="3.7" ry="3.2" fill="#8e8e84"/><ellipse cx="71" cy="338.7" rx="3.5" ry="3.3" fill="#8e8e84"/><ellipse cx="28.4" cy="381.4" rx="2.5" ry="2.4" fill="#8e8e84"/><ellipse cx="43.8" cy="415.2" rx="2" ry="2.3" fill="#8e8e84"/><ellipse cx="31.3" cy="379.8" rx="3" ry="3.4" fill="#8e8e84"/><ellipse cx="82" cy="363.7" rx="3.1" ry="3.8" fill="#8e8e84"/><ellipse cx="93.1" cy="335.1" rx="2.6" ry="2.9" fill="#8e8e84"/><ellipse cx="103.2" cy="399.7" rx="2.2" ry="3.5" fill="#8e8e84"/><ellipse cx="122.7" cy="341.6" rx="2.8" ry="2.1" fill="#8e8e84"/><ellipse cx="46.6" cy="381.3" rx="3.8" ry="2.8" fill="#8e8e84"/><ellipse cx="30.7" cy="336.4" rx="2.6" ry="2.5" fill="#8e8e84"/><ellipse cx="43.1" cy="426.6" rx="3.2" ry="3.3" fill="#8e8e84"/><ellipse cx="91.6" cy="443.3" rx="2" ry="3.5" fill="#8e8e84"/><ellipse cx="75.1" cy="384.7" rx="2.4" ry="2.5" fill="#8e8e84"/><ellipse cx="111.7" cy="381.7" rx="3.6" ry="3.4" fill="#8e8e84"/><ellipse cx="46.3" cy="425.1" rx="3.1" ry="3.5" fill="#8e8e84"/><ellipse cx="55.7" cy="320.4" rx="2.3" ry="2.6" fill="#8e8e84"/><ellipse cx="58.7" cy="409.9" rx="2.9" ry="3.4" fill="#8e8e84"/><ellipse cx="42" cy="391.3" rx="3.5" ry="3.5" fill="#8e8e84"/><ellipse cx="49.5" cy="419.5" rx="2.7" ry="3.9" fill="#8e8e84"/><ellipse cx="84" cy="453.3" rx="2.6" ry="2.9" fill="#8e8e84"/><ellipse cx="73.3" cy="451.9" rx="3" ry="2.5" fill="#8e8e84"/><ellipse cx="110.5" cy="456" rx="3.7" ry="3.4" fill="#8e8e84"/><ellipse cx="90.5" cy="447.7" rx="3.8" ry="2.8" fill="#8e8e84"/><ellipse cx="77.1" cy="347.8" rx="3.4" ry="2.6" fill="#8e8e84"/><ellipse cx="79.9" cy="405.5" rx="3.3" ry="3.5" fill="#8e8e84"/><ellipse cx="99.6" cy="387.3" rx="5.6" ry="4.6" transform="rotate(-4 99.6 387.3)" fill="url(#gA)"/><ellipse cx="69.7" cy="451.9" rx="6.1" ry="4.7" transform="rotate(29 69.7 451.9)" fill="url(#gA)"/><ellipse cx="83.2" cy="336.5" rx="6.1" ry="4.9" transform="rotate(6 83.2 336.5)" fill="url(#gC)"/><ellipse cx="109.4" cy="397.3" rx="6.2" ry="4.9" transform="rotate(-10 109.4 397.3)" fill="url(#gC)"/><ellipse cx="62" cy="392.5" rx="5.9" ry="4.8" transform="rotate(-23 62 392.5)" fill="url(#gB)"/><ellipse cx="65.8" cy="441.4" rx="6.5" ry="4.9" transform="rotate(20 65.8 441.4)" fill="url(#gA)"/><ellipse cx="60.9" cy="450" rx="6.3" ry="5" transform="rotate(20 60.9 450)" fill="url(#gA)"/><ellipse cx="128.1" cy="446.1" rx="6.4" ry="4.9" transform="rotate(-21 128.1 446.1)" fill="url(#gC)"/><ellipse cx="87.1" cy="451.9" rx="6.1" ry="4.8" transform="rotate(7 87.1 451.9)" fill="url(#gA)"/><ellipse cx="40.7" cy="428" rx="6.1" ry="4.7" transform="rotate(-7 40.7 428)" fill="url(#gC)"/><ellipse cx="121.3" cy="464" rx="5.3" ry="4.4" transform="rotate(-29 121.3 464)" fill="url(#gB)"/><ellipse cx="108.4" cy="450.9" rx="5.9" ry="4.9" transform="rotate(-22 108.4 450.9)" fill="url(#gC)"/><ellipse cx="24.1" cy="463.6" rx="5.3" ry="4.6" transform="rotate(0 24.1 463.6)" fill="url(#gA)"/><ellipse cx="49.4" cy="411.7" rx="5.9" ry="4.8" transform="rotate(-18 49.4 411.7)" fill="url(#gC)"/><ellipse cx="73.5" cy="406.9" rx="5.2" ry="4.4" transform="rotate(32 73.5 406.9)" fill="url(#gA)"/><ellipse cx="106.4" cy="428" rx="5.4" ry="4.5" transform="rotate(-4 106.4 428)" fill="url(#gA)"/><ellipse cx="67.6" cy="361.4" rx="5.6" ry="4.7" transform="rotate(28 67.6 361.4)" fill="url(#gB)"/><ellipse cx="50.3" cy="394.4" rx="5.8" ry="4.6" transform="rotate(14 50.3 394.4)" fill="url(#gE)"/><ellipse cx="116.1" cy="457.7" rx="6.2" ry="4.7" transform="rotate(23 116.1 457.7)" fill="url(#gA)"/><ellipse cx="24.6" cy="417.4" rx="6" ry="4.6" transform="rotate(20 24.6 417.4)" fill="url(#gA)"/><ellipse cx="111.3" cy="406.9" rx="5.1" ry="4.3" transform="rotate(4 111.3 406.9)" fill="url(#gA)"/><ellipse cx="94.8" cy="353.7" rx="5.9" ry="4.6" transform="rotate(-12 94.8 353.7)" fill="url(#gA)"/><ellipse cx="23.9" cy="395.7" rx="6.4" ry="5" transform="rotate(-23 23.9 395.7)" fill="url(#gC)"/><ellipse cx="106.4" cy="330.8" rx="5.5" ry="4.4" transform="rotate(-4 106.4 330.8)" fill="url(#gA)"/><ellipse cx="32.6" cy="465.7" rx="6.1" ry="4.5" transform="rotate(6 32.6 465.7)" fill="url(#gC)"/><ellipse cx="111.3" cy="465" rx="6.1" ry="5" transform="rotate(-26 111.3 465)" fill="url(#gC)"/><ellipse cx="60.9" cy="349.9" rx="6.3" ry="4.8" transform="rotate(-6 60.9 349.9)" fill="url(#gE)"/><ellipse cx="55.2" cy="443.3" rx="6" ry="4.6" transform="rotate(0 55.2 443.3)" fill="url(#gB)"/><ellipse cx="117.1" cy="378.6" rx="6.6" ry="5.1" transform="rotate(-22 117.1 378.6)" fill="url(#gC)"/><ellipse cx="67.7" cy="341.3" rx="5.8" ry="5" transform="rotate(-16 67.7 341.3)" fill="url(#gC)"/><ellipse cx="37.8" cy="345.1" rx="6.4" ry="5" transform="rotate(16 37.8 345.1)" fill="url(#gD)"/><ellipse cx="36.8" cy="375.7" rx="5.9" ry="4.6" transform="rotate(-13 36.8 375.7)" fill="url(#gA)"/><ellipse cx="69.7" cy="370" rx="6" ry="5" transform="rotate(26 69.7 370)" fill="url(#gB)"/><ellipse cx="77.5" cy="446.2" rx="5.8" ry="5" transform="rotate(-13 77.5 446.2)" fill="url(#gA)"/><ellipse cx="99.6" cy="340.3" rx="5.9" ry="4.9" transform="rotate(-21 99.6 340.3)" fill="url(#gC)"/><ellipse cx="40.7" cy="324.9" rx="6.8" ry="5" transform="rotate(19 40.7 324.9)" fill="url(#gB)"/><ellipse cx="31" cy="400.2" rx="5.5" ry="4.7" transform="rotate(28 31 400.2)" fill="url(#gA)"/><ellipse cx="127.6" cy="334.8" rx="6.1" ry="4.8" transform="rotate(-3 127.6 334.8)" fill="url(#gB)"/><ellipse cx="25.2" cy="360.8" rx="6.2" ry="4.9" transform="rotate(9 25.2 360.8)" fill="url(#gB)"/><ellipse cx="28.6" cy="317.8" rx="5.7" ry="4.6" transform="rotate(1 28.6 317.8)" fill="url(#gA)"/><ellipse cx="97.7" cy="322.1" rx="6.3" ry="5" transform="rotate(24 97.7 322.1)" fill="url(#gD)"/><ellipse cx="46.6" cy="439" rx="6.5" ry="5.1" transform="rotate(-5 46.6 439)" fill="url(#gB)"/><ellipse cx="76.6" cy="316.8" rx="6.5" ry="4.9" transform="rotate(-25 76.6 316.8)" fill="url(#gA)"/><ellipse cx="129.5" cy="464.1" rx="5.1" ry="4.4" transform="rotate(-34 129.5 464.1)" fill="url(#gA)"/><ellipse cx="84.1" cy="441.4" rx="6.2" ry="4.8" transform="rotate(32 84.1 441.4)" fill="url(#gD)"/><ellipse cx="120" cy="369.1" rx="6.1" ry="4.8" transform="rotate(21 120 369.1)" fill="url(#gB)"/><ellipse cx="42.6" cy="385.4" rx="5.8" ry="4.5" transform="rotate(-5 42.6 385.4)" fill="url(#gB)"/><ellipse cx="83.2" cy="378.6" rx="6.5" ry="5" transform="rotate(-7 83.2 378.6)" fill="url(#gC)"/><ellipse cx="24.1" cy="450.6" rx="6.8" ry="5.1" transform="rotate(18 24.1 450.6)" fill="url(#gA)"/><ellipse cx="73.5" cy="333.6" rx="6.1" ry="4.5" transform="rotate(7 73.5 333.6)" fill="url(#gD)"/><ellipse cx="38.9" cy="316.9" rx="5.4" ry="4.5" transform="rotate(-26 38.9 316.9)" fill="url(#gA)"/><ellipse cx="47.5" cy="365.2" rx="5.6" ry="4.6" transform="rotate(6 47.5 365.2)" fill="url(#gC)"/><ellipse cx="125.8" cy="455.8" rx="6.1" ry="4.6" transform="rotate(9 125.8 455.8)" fill="url(#gB)"/><ellipse cx="97.4" cy="395.7" rx="5.5" ry="4.6" transform="rotate(-8 97.4 395.7)" fill="url(#gA)"/><ellipse cx="24.2" cy="425.4" rx="6.3" ry="4.7" transform="rotate(17 24.2 425.4)" fill="url(#gA)"/><ellipse cx="43.5" cy="332.7" rx="5.7" ry="4.4" transform="rotate(9 43.5 332.7)" fill="url(#gC)"/><ellipse cx="32.9" cy="334.6" rx="5.4" ry="4.6" transform="rotate(8 32.9 334.6)" fill="url(#gC)"/><ellipse cx="122.5" cy="342.1" rx="5.6" ry="4.6" transform="rotate(-10 122.5 342.1)" fill="url(#gA)"/><ellipse cx="90" cy="399.2" rx="5.8" ry="4.7" transform="rotate(-22 90 399.2)" fill="url(#gA)"/><ellipse cx="78.4" cy="344.1" rx="6.7" ry="5" transform="rotate(8 78.4 344.1)" fill="url(#gB)"/><ellipse cx="120" cy="446.2" rx="6.1" ry="4.6" transform="rotate(-14 120 446.2)" fill="url(#gA)"/><ellipse cx="80.3" cy="397.3" rx="6.5" ry="5.1" transform="rotate(-32 80.3 397.3)" fill="url(#gB)"/><ellipse cx="90.2" cy="466.2" rx="5.7" ry="4.6" transform="rotate(23 90.2 466.2)" fill="url(#gC)"/><ellipse cx="104.5" cy="460.6" rx="5.5" ry="4.4" transform="rotate(-28 104.5 460.6)" fill="url(#gA)"/><ellipse cx="124.8" cy="378.6" rx="5.5" ry="4.4" transform="rotate(-15 124.8 378.6)" fill="url(#gB)"/><ellipse cx="111.8" cy="316.5" rx="5.3" ry="4.5" transform="rotate(9 111.8 316.5)" fill="url(#gB)"/><ellipse cx="48.5" cy="466.3" rx="6.3" ry="4.7" transform="rotate(-2 48.5 466.3)" fill="url(#gA)"/><ellipse cx="62.9" cy="403" rx="5.7" ry="4.7" transform="rotate(15 62.9 403)" fill="url(#gA)"/><ellipse cx="90.9" cy="409.8" rx="6.1" ry="4.7" transform="rotate(0 90.9 409.8)" fill="url(#gC)"/><ellipse cx="48.9" cy="422.6" rx="5.6" ry="4.6" transform="rotate(-33 48.9 422.6)" fill="url(#gC)"/><ellipse cx="24" cy="332.8" rx="6.2" ry="4.6" transform="rotate(28 24 332.8)" fill="url(#gC)"/><ellipse cx="30.1" cy="431.9" rx="5.6" ry="4.6" transform="rotate(-16 30.1 431.9)" fill="url(#gC)"/><ellipse cx="91.9" cy="330.8" rx="5.9" ry="5" transform="rotate(-3 91.9 330.8)" fill="url(#gB)"/><ellipse cx="115.1" cy="359.5" rx="5.4" ry="4.5" transform="rotate(-26 115.1 359.5)" fill="url(#gD)"/><ellipse cx="55.2" cy="383.5" rx="5.7" ry="4.6" transform="rotate(7 55.2 383.5)" fill="url(#gA)"/><ellipse cx="127.7" cy="392.5" rx="5.3" ry="4.4" transform="rotate(25 127.7 392.5)" fill="url(#gA)"/><ellipse cx="105.7" cy="322.6" rx="6.3" ry="5" transform="rotate(-9 105.7 322.6)" fill="url(#gC)"/><ellipse cx="60" cy="422.2" rx="6.2" ry="4.9" transform="rotate(20 60 422.2)" fill="url(#gA)"/><ellipse cx="42.6" cy="356.6" rx="5.4" ry="4.3" transform="rotate(-3 42.6 356.6)" fill="url(#gA)"/><ellipse cx="117.1" cy="323" rx="5.7" ry="4.8" transform="rotate(23 117.1 323)" fill="url(#gD)"/><ellipse cx="114.1" cy="420.3" rx="5.3" ry="4.3" transform="rotate(34 114.1 420.3)" fill="url(#gC)"/><ellipse cx="32" cy="421.3" rx="5.6" ry="4.6" transform="rotate(-29 32 421.3)" fill="url(#gC)"/><ellipse cx="129.2" cy="432.9" rx="6.3" ry="4.7" transform="rotate(27 129.2 432.9)" fill="url(#gB)"/><ellipse cx="98.6" cy="423.1" rx="6.1" ry="5" transform="rotate(28 98.6 423.1)" fill="url(#gC)"/><ellipse cx="93.9" cy="458.7" rx="6" ry="4.7" transform="rotate(34 93.9 458.7)" fill="url(#gA)"/><ellipse cx="49.4" cy="348.9" rx="5.5" ry="4.5" transform="rotate(1 49.4 348.9)" fill="url(#gA)"/><ellipse cx="126.9" cy="404.8" rx="6.2" ry="4.7" transform="rotate(12 126.9 404.8)" fill="url(#gB)"/><ellipse cx="82.2" cy="325.9" rx="5.5" ry="4.6" transform="rotate(-29 82.2 325.9)" fill="url(#gC)"/><ellipse cx="62.9" cy="376.7" rx="5.8" ry="5" transform="rotate(21 62.9 376.7)" fill="url(#gB)"/><ellipse cx="121.9" cy="436.6" rx="5.1" ry="4.4" transform="rotate(20 121.9 436.6)" fill="url(#gB)"/><ellipse cx="48.9" cy="319.5" rx="5.6" ry="4.7" transform="rotate(22 48.9 319.5)" fill="url(#gD)"/><ellipse cx="92.9" cy="429" rx="5.5" ry="4.5" transform="rotate(11 92.9 429)" fill="url(#gE)"/><ellipse cx="87.1" cy="387.3" rx="5.8" ry="4.7" transform="rotate(-12 87.1 387.3)" fill="url(#gA)"/><ellipse cx="89.5" cy="320.1" rx="6.4" ry="5" transform="rotate(-15 89.5 320.1)" fill="url(#gA)"/><ellipse cx="72.6" cy="378.6" rx="5.1" ry="4.4" transform="rotate(8 72.6 378.6)" fill="url(#gA)"/><ellipse cx="99.6" cy="372.9" rx="5.8" ry="4.5" transform="rotate(-8 99.6 372.9)" fill="url(#gA)"/><ellipse cx="63.9" cy="460.6" rx="5.8" ry="4.6" transform="rotate(2 63.9 460.6)" fill="url(#gD)"/><ellipse cx="70.4" cy="466.2" rx="6" ry="4.5" transform="rotate(-12 70.4 466.2)" fill="url(#gA)"/><ellipse cx="65.8" cy="387.3" rx="6.1" ry="4.6" transform="rotate(11 65.8 387.3)" fill="url(#gB)"/><ellipse cx="98.5" cy="466.4" rx="6.7" ry="5" transform="rotate(-28 98.5 466.4)" fill="url(#gB)"/><ellipse cx="71.6" cy="397.3" rx="6.6" ry="4.9" transform="rotate(34 71.6 397.3)" fill="url(#gC)"/><ellipse cx="77.5" cy="387.3" rx="6.7" ry="5.1" transform="rotate(-4 77.5 387.3)" fill="url(#gC)"/><ellipse cx="90.9" cy="371.9" rx="5.3" ry="4.6" transform="rotate(32 90.9 371.9)" fill="url(#gB)"/><ellipse cx="62.3" cy="433.9" rx="6.4" ry="5" transform="rotate(-1 62.3 433.9)" fill="url(#gA)"/><ellipse cx="90" cy="364.3" rx="5.1" ry="4.4" transform="rotate(-1 90 364.3)" fill="url(#gA)"/><ellipse cx="84.1" cy="354.7" rx="6.1" ry="4.7" transform="rotate(-2 84.1 354.7)" fill="url(#gB)"/><ellipse cx="105.4" cy="349.9" rx="6.4" ry="4.9" transform="rotate(33 105.4 349.9)" fill="url(#gD)"/><ellipse cx="55.2" cy="339.4" rx="5.7" ry="4.4" transform="rotate(2 55.2 339.4)" fill="url(#gD)"/><ellipse cx="60" cy="368.1" rx="5.5" ry="4.7" transform="rotate(-20 60 368.1)" fill="url(#gC)"/><ellipse cx="91.8" cy="438.1" rx="5.4" ry="4.5" transform="rotate(-30 91.8 438.1)" fill="url(#gC)"/><ellipse cx="83.2" cy="460.6" rx="5.4" ry="4.7" transform="rotate(10 83.2 460.6)" fill="url(#gA)"/><ellipse cx="121.9" cy="411.7" rx="5.9" ry="4.4" transform="rotate(4 121.9 411.7)" fill="url(#gA)"/><ellipse cx="31" cy="446.2" rx="5.7" ry="4.8" transform="rotate(2 31 446.2)" fill="url(#gA)"/><ellipse cx="79.4" cy="371" rx="6.2" ry="4.9" transform="rotate(11 79.4 371)" fill="url(#gA)"/><ellipse cx="123.9" cy="358.6" rx="5.8" ry="4.5" transform="rotate(-1 123.9 358.6)" fill="url(#gA)"/><ellipse cx="124.8" cy="350.8" rx="5.2" ry="4.4" transform="rotate(30 124.8 350.8)" fill="url(#gB)"/><ellipse cx="80.3" cy="414.6" rx="6.4" ry="5.1" transform="rotate(-18 80.3 414.6)" fill="url(#gA)"/><ellipse cx="124.8" cy="424.1" rx="6.6" ry="4.9" transform="rotate(27 124.8 424.1)" fill="url(#gB)"/><ellipse cx="29" cy="343.2" rx="5.7" ry="4.7" transform="rotate(25 29 343.2)" fill="url(#gA)"/><ellipse cx="124.8" cy="326.9" rx="5.5" ry="4.5" transform="rotate(3 124.8 326.9)" fill="url(#gB)"/><ellipse cx="51.3" cy="430.9" rx="6.4" ry="5" transform="rotate(-5 51.3 430.9)" fill="url(#gA)"/><ellipse cx="60.9" cy="411.7" rx="5.8" ry="4.7" transform="rotate(32 60.9 411.7)" fill="url(#gB)"/><ellipse cx="60" cy="321.1" rx="6.3" ry="4.8" transform="rotate(3 60 321.1)" fill="url(#gA)"/><ellipse cx="32" cy="389.2" rx="5.6" ry="4.8" transform="rotate(-26 32 389.2)" fill="url(#gB)"/><ellipse cx="109.4" cy="369.1" rx="5.3" ry="4.4" transform="rotate(-20 109.4 369.1)" fill="url(#gC)"/><ellipse cx="120" cy="400.2" rx="6.2" ry="4.8" transform="rotate(23 120 400.2)" fill="url(#gA)"/><ellipse cx="29" cy="382.5" rx="6.2" ry="4.7" transform="rotate(-30 29 382.5)" fill="url(#gA)"/><ellipse cx="31" cy="457.7" rx="5.8" ry="5" transform="rotate(-11 31 457.7)" fill="url(#gA)"/><ellipse cx="100.7" cy="439.5" rx="5.2" ry="4.4" transform="rotate(-16 100.7 439.5)" fill="url(#gC)"/><ellipse cx="70.7" cy="433.8" rx="5.8" ry="4.5" transform="rotate(-26 70.7 433.8)" fill="url(#gB)"/><ellipse cx="108.4" cy="339.4" rx="5.9" ry="4.8" transform="rotate(20 108.4 339.4)" fill="url(#gA)"/><ellipse cx="40.7" cy="463.5" rx="6.2" ry="5" transform="rotate(33 40.7 463.5)" fill="url(#gA)"/><ellipse cx="102.6" cy="361.4" rx="5.5" ry="4.6" transform="rotate(-9 102.6 361.4)" fill="url(#gD)"/><ellipse cx="46.5" cy="341.3" rx="5.3" ry="4.4" transform="rotate(13 46.5 341.3)" fill="url(#gE)"/><ellipse cx="85.1" cy="431.8" rx="6.1" ry="4.9" transform="rotate(-11 85.1 431.8)" fill="url(#gA)"/><ellipse cx="35.8" cy="411.7" rx="5.5" ry="4.4" transform="rotate(0 35.8 411.7)" fill="url(#gB)"/><ellipse cx="32" cy="355.7" rx="6.7" ry="5" transform="rotate(-7 32 355.7)" fill="url(#gB)"/><ellipse cx="83.6" cy="405.5" rx="6" ry="4.9" transform="rotate(-30 83.6 405.5)" fill="url(#gD)"/><ellipse cx="72.6" cy="351.8" rx="5.7" ry="4.8" transform="rotate(34 72.6 351.8)" fill="url(#gC)"/><ellipse cx="50.3" cy="453" rx="5.5" ry="4.5" transform="rotate(15 50.3 453)" fill="url(#gA)"/><ellipse cx="111.3" cy="437.6" rx="5.1" ry="4.3" transform="rotate(0 111.3 437.6)" fill="url(#gB)"/><ellipse cx="116.1" cy="347" rx="5.9" ry="4.6" transform="rotate(-22 116.1 347)" fill="url(#gC)"/><ellipse cx="95.8" cy="381.6" rx="6.1" ry="4.9" transform="rotate(-29 95.8 381.6)" fill="url(#gA)"/><ellipse cx="121.5" cy="386.2" rx="5.9" ry="5.1" transform="rotate(-2 121.5 386.2)" fill="url(#gA)"/><ellipse cx="23.9" cy="350.8" rx="5.4" ry="4.6" transform="rotate(-5 23.9 350.8)" fill="url(#gA)"/><ellipse cx="70.7" cy="324" rx="5.9" ry="4.4" transform="rotate(15 70.7 324)" fill="url(#gA)"/><ellipse cx="119" cy="334.6" rx="5.8" ry="4.9" transform="rotate(-27 119 334.6)" fill="url(#gB)"/><ellipse cx="37.8" cy="437.6" rx="6.2" ry="4.8" transform="rotate(-33 37.8 437.6)" fill="url(#gA)"/><ellipse cx="128.1" cy="368.3" rx="5.5" ry="4.7" transform="rotate(-20 128.1 368.3)" fill="url(#gB)"/><ellipse cx="67.9" cy="316" rx="5.1" ry="4.4" transform="rotate(17 67.9 316)" fill="url(#gB)"/><ellipse cx="90" cy="346" rx="5.2" ry="4.4" transform="rotate(0 90 346)" fill="url(#gA)"/><ellipse cx="29" cy="372.9" rx="5.7" ry="4.4" transform="rotate(-13 29 372.9)" fill="url(#gA)"/><ellipse cx="115.6" cy="430.3" rx="5.8" ry="5" transform="rotate(-30 115.6 430.3)" fill="url(#gA)"/><ellipse cx="62.9" cy="331.7" rx="5.2" ry="4.6" transform="rotate(-13 62.9 331.7)" fill="url(#gB)"/><ellipse cx="50.3" cy="376.7" rx="5.7" ry="4.6" transform="rotate(-29 50.3 376.7)" fill="url(#gC)"/><ellipse cx="100.7" cy="403" rx="5.8" ry="4.3" transform="rotate(12 100.7 403)" fill="url(#gA)"/><ellipse cx="76.4" cy="362.4" rx="6" ry="4.7" transform="rotate(-5 76.4 362.4)" fill="url(#gC)"/><ellipse cx="70.7" cy="420.3" rx="6" ry="4.8" transform="rotate(24 70.7 420.3)" fill="url(#gA)"/><ellipse cx="38.8" cy="450.9" rx="5.8" ry="4.7" transform="rotate(8 38.8 450.9)" fill="url(#gA)"/><ellipse cx="34.9" cy="366.2" rx="6.6" ry="5.1" transform="rotate(-11 34.9 366.2)" fill="url(#gD)"/><ellipse cx="24.8" cy="439.8" rx="6.7" ry="5.1" transform="rotate(-15 24.8 439.8)" fill="url(#gC)"/><ellipse cx="30.1" cy="326.9" rx="5.9" ry="4.5" transform="rotate(22 30.1 326.9)" fill="url(#gC)"/><ellipse cx="128.6" cy="416.5" rx="5.6" ry="4.4" transform="rotate(26 128.6 416.5)" fill="url(#gA)"/><ellipse cx="106.4" cy="382.5" rx="5.9" ry="4.8" transform="rotate(-4 106.4 382.5)" fill="url(#gA)"/><ellipse cx="54.5" cy="401.5" rx="6.7" ry="5" transform="rotate(28 54.5 401.5)" fill="url(#gA)"/><ellipse cx="97.7" cy="449" rx="5.5" ry="4.4" transform="rotate(-22 97.7 449)" fill="url(#gB)"/><ellipse cx="122.2" cy="316.3" rx="5.9" ry="4.4" transform="rotate(20 122.2 316.3)" fill="url(#gB)"/><ellipse cx="40.7" cy="399.2" rx="5.9" ry="4.8" transform="rotate(8 40.7 399.2)" fill="url(#gA)"/><ellipse cx="73.5" cy="458.7" rx="5.4" ry="4.6" transform="rotate(8 73.5 458.7)" fill="url(#gD)"/><ellipse cx="78.4" cy="427" rx="6.2" ry="4.8" transform="rotate(25 78.4 427)" fill="url(#gB)"/><ellipse cx="52.2" cy="327.8" rx="5.4" ry="4.7" transform="rotate(18 52.2 327.8)" fill="url(#gA)"/><ellipse cx="89" cy="419.3" rx="5.7" ry="4.3" transform="rotate(-4 89 419.3)" fill="url(#gA)"/><ellipse cx="55.2" cy="358.6" rx="5.5" ry="4.8" transform="rotate(-3 55.2 358.6)" fill="url(#gB)"/><ellipse cx="101.6" cy="415.5" rx="6.1" ry="4.9" transform="rotate(-22 101.6 415.5)" fill="url(#gA)"/><ellipse cx="58.2" cy="466.5" rx="5.5" ry="4.5" transform="rotate(-16 58.2 466.5)" fill="url(#gB)"/><ellipse cx="27.7" cy="409.1" rx="5.5" ry="4.6" transform="rotate(-7 27.7 409.1)" fill="url(#gA)"/><ellipse cx="40.1" cy="419.9" rx="5.7" ry="4.4" transform="rotate(7 40.1 419.9)" fill="url(#gD)"/><ellipse cx="112.2" cy="387.9" rx="5.3" ry="4.5" transform="rotate(-27 112.2 387.9)" fill="url(#gA)"/><ellipse cx="53.3" cy="459.6" rx="5.5" ry="4.4" transform="rotate(-4 53.3 459.6)" fill="url(#gA)"/></g><g id="pRC"><rect x="126.5" y="315.6" width="105" height="151" fill="#b8b2b6"/><ellipse cx="161" cy="407.3" rx="2.9" ry="2.7" fill="#c0bcc0"/><ellipse cx="212" cy="446.3" rx="2.3" ry="3.5" fill="#c0bcc0"/><ellipse cx="211.3" cy="380.4" rx="3.9" ry="3.2" fill="#c0bcc0"/><ellipse cx="136.4" cy="331.9" rx="3.9" ry="2.9" fill="#c0bcc0"/><ellipse cx="173.7" cy="430.3" rx="3.6" ry="2.6" fill="#c0bcc0"/><ellipse cx="211.9" cy="346.8" rx="3.1" ry="3" fill="#c0bcc0"/><ellipse cx="177.6" cy="459.1" rx="2.5" ry="3.6" fill="#c0bcc0"/><ellipse cx="229.5" cy="447.6" rx="2.9" ry="4" fill="#c0bcc0"/><ellipse cx="135.2" cy="392.7" rx="3.2" ry="3.5" fill="#c0bcc0"/><ellipse cx="228.9" cy="367.2" rx="3.7" ry="3.2" fill="#c0bcc0"/><ellipse cx="165.9" cy="374.8" rx="3.1" ry="3.7" fill="#c0bcc0"/><ellipse cx="179.1" cy="428.2" rx="2.5" ry="2.9" fill="#c0bcc0"/><ellipse cx="224.8" cy="355.7" rx="2.1" ry="3.4" fill="#c0bcc0"/><ellipse cx="225.4" cy="449.7" rx="2.1" ry="3.5" fill="#c0bcc0"/><ellipse cx="188.9" cy="433.2" rx="3.3" ry="2.1" fill="#c0bcc0"/><ellipse cx="167.7" cy="354.9" rx="2.9" ry="3.8" fill="#c0bcc0"/><ellipse cx="189.5" cy="371.7" rx="2.4" ry="3.5" fill="#c0bcc0"/><ellipse cx="209.6" cy="447.2" rx="2.2" ry="3.1" fill="#c0bcc0"/><ellipse cx="184.5" cy="326.7" rx="3.7" ry="2" fill="#c0bcc0"/><ellipse cx="166.7" cy="426.5" rx="2.7" ry="2.4" fill="#c0bcc0"/><ellipse cx="196.6" cy="365" rx="2.7" ry="2.1" fill="#c0bcc0"/><ellipse cx="146.3" cy="412.8" rx="3" ry="3.8" fill="#c0bcc0"/><ellipse cx="149.3" cy="432.1" rx="3.8" ry="3.8" fill="#c0bcc0"/><ellipse cx="222.1" cy="430.9" rx="2" ry="3.7" fill="#c0bcc0"/><ellipse cx="201" cy="447.2" rx="3.4" ry="2.5" fill="#c0bcc0"/><ellipse cx="178.1" cy="350.8" rx="3" ry="2.5" fill="#c0bcc0"/><ellipse cx="173.8" cy="318.3" rx="3.6" ry="3.8" fill="#c0bcc0"/><ellipse cx="151.2" cy="462.8" rx="4" ry="3.4" fill="#c0bcc0"/><ellipse cx="178.6" cy="431.2" rx="2.3" ry="3.6" fill="#c0bcc0"/><ellipse cx="149.9" cy="444.8" rx="3.9" ry="2.5" fill="#c0bcc0"/><ellipse cx="147.5" cy="450.1" rx="6.4" ry="5.6" transform="rotate(90 147.5 450.1)" fill="url(#rA)"/><ellipse cx="195.7" cy="367.9" rx="5.8" ry="5" transform="rotate(90 195.7 367.9)" fill="url(#gA)"/><ellipse cx="133.6" cy="424.2" rx="5.2" ry="4.8" transform="rotate(117 133.6 424.2)" fill="url(#gC)"/><ellipse cx="193.8" cy="414.9" rx="6.3" ry="5.6" transform="rotate(89 193.8 414.9)" fill="url(#rA)"/><ellipse cx="127" cy="384" rx="6.1" ry="5.2" transform="rotate(108 127 384)" fill="url(#rA)"/><ellipse cx="215.2" cy="361.4" rx="5.2" ry="4.9" transform="rotate(103 215.2 361.4)" fill="url(#gC)"/><ellipse cx="147.9" cy="316.1" rx="6.3" ry="5.6" transform="rotate(67 147.9 316.1)" fill="url(#rC)"/><ellipse cx="191.1" cy="352.1" rx="5.7" ry="5.1" transform="rotate(96 191.1 352.1)" fill="url(#rC)"/><ellipse cx="187.2" cy="315.6" rx="6.4" ry="5.6" transform="rotate(101 187.2 315.6)" fill="url(#rB)"/><ellipse cx="224.4" cy="458.5" rx="5.9" ry="5.4" transform="rotate(113 224.4 458.5)" fill="url(#rB)"/><ellipse cx="135.4" cy="388.3" rx="5.4" ry="5.1" transform="rotate(61 135.4 388.3)" fill="url(#rB)"/><ellipse cx="199.5" cy="395.5" rx="5.6" ry="5.3" transform="rotate(102 199.5 395.5)" fill="url(#rA)"/><ellipse cx="149.5" cy="466.2" rx="5.5" ry="5" transform="rotate(90 149.5 466.2)" fill="url(#rB)"/><ellipse cx="205.9" cy="366" rx="6.1" ry="5.3" transform="rotate(112 205.9 366)" fill="url(#rB)"/><ellipse cx="224.4" cy="386.4" rx="5.3" ry="4.7" transform="rotate(84 224.4 386.4)" fill="url(#gA)"/><ellipse cx="165.4" cy="439.8" rx="5.5" ry="5" transform="rotate(84 165.4 439.8)" fill="url(#gA)"/><ellipse cx="142.8" cy="324.3" rx="6.1" ry="5.4" transform="rotate(63 142.8 324.3)" fill="url(#rB)"/><ellipse cx="188.3" cy="364.1" rx="5.8" ry="5.5" transform="rotate(71 188.3 364.1)" fill="url(#rB)"/><ellipse cx="213.3" cy="436.2" rx="5.4" ry="5.1" transform="rotate(87 213.3 436.2)" fill="url(#rB)"/><ellipse cx="203.5" cy="439.7" rx="5.8" ry="5" transform="rotate(111 203.5 439.7)" fill="url(#rB)"/><ellipse cx="210.5" cy="404.7" rx="5.6" ry="5.3" transform="rotate(65 210.5 404.7)" fill="url(#rB)"/><ellipse cx="205" cy="324.3" rx="5.2" ry="4.7" transform="rotate(88 205 324.3)" fill="url(#gC)"/><ellipse cx="231.3" cy="329.9" rx="5.9" ry="5.6" transform="rotate(60 231.3 329.9)" fill="url(#rB)"/><ellipse cx="189.2" cy="387.3" rx="5.5" ry="5.1" transform="rotate(101 189.2 387.3)" fill="url(#gB)"/><ellipse cx="165.1" cy="329.8" rx="6.2" ry="5.5" transform="rotate(89 165.1 329.8)" fill="url(#rA)"/><ellipse cx="224.4" cy="362.3" rx="5.4" ry="5.1" transform="rotate(104 224.4 362.3)" fill="url(#rA)"/><ellipse cx="196.6" cy="338.2" rx="5.1" ry="4.8" transform="rotate(88 196.6 338.2)" fill="url(#gC)"/><ellipse cx="132.6" cy="319.8" rx="5.2" ry="4.9" transform="rotate(90 132.6 319.8)" fill="url(#gA)"/><ellipse cx="131.7" cy="328.9" rx="5.4" ry="4.6" transform="rotate(84 131.7 328.9)" fill="url(#gC)"/><ellipse cx="170.9" cy="402.6" rx="6" ry="5.3" transform="rotate(62 170.9 402.6)" fill="url(#rB)"/><ellipse cx="172.4" cy="465.1" rx="5.8" ry="5.3" transform="rotate(75 172.4 465.1)" fill="url(#rB)"/><ellipse cx="216" cy="465.2" rx="5.5" ry="5.1" transform="rotate(98 216 465.2)" fill="url(#rB)"/><ellipse cx="226.3" cy="342.8" rx="5.4" ry="5.2" transform="rotate(97 226.3 342.8)" fill="url(#gC)"/><ellipse cx="176.2" cy="332.6" rx="5.4" ry="5" transform="rotate(75 176.2 332.6)" fill="url(#rB)"/><ellipse cx="183.6" cy="420.5" rx="6" ry="5.1" transform="rotate(82 183.6 420.5)" fill="url(#gA)"/><ellipse cx="135.4" cy="440.9" rx="6.3" ry="5.5" transform="rotate(96 135.4 440.9)" fill="url(#rC)"/><ellipse cx="219.8" cy="396.3" rx="5.7" ry="5.4" transform="rotate(109 219.8 396.3)" fill="url(#rB)"/><ellipse cx="168.8" cy="340" rx="5.9" ry="5" transform="rotate(68 168.8 340)" fill="url(#gA)"/><ellipse cx="129.9" cy="355.8" rx="5.7" ry="5" transform="rotate(76 129.9 355.8)" fill="url(#rB)"/><ellipse cx="127.9" cy="393.5" rx="5.8" ry="5.4" transform="rotate(98 127.9 393.5)" fill="url(#rB)"/><ellipse cx="224.4" cy="440.9" rx="6.4" ry="5.6" transform="rotate(65 224.4 440.9)" fill="url(#rB)"/><ellipse cx="213.3" cy="419.5" rx="5.4" ry="5.1" transform="rotate(106 213.3 419.5)" fill="url(#rB)"/><ellipse cx="184.6" cy="460.3" rx="5.9" ry="5.1" transform="rotate(93 184.6 460.3)" fill="url(#rB)"/><ellipse cx="173.4" cy="393.6" rx="4.9" ry="4.6" transform="rotate(112 173.4 393.6)" fill="url(#gC)"/><ellipse cx="172.5" cy="433.4" rx="6.2" ry="5.3" transform="rotate(94 172.5 433.4)" fill="url(#rA)"/><ellipse cx="209.6" cy="459.4" rx="5.5" ry="5.1" transform="rotate(113 209.6 459.4)" fill="url(#rB)"/><ellipse cx="131.7" cy="376.2" rx="6" ry="5.1" transform="rotate(72 131.7 376.2)" fill="url(#gA)"/><ellipse cx="201.3" cy="466.2" rx="5.8" ry="5" transform="rotate(113 201.3 466.2)" fill="url(#rB)"/><ellipse cx="195.7" cy="459.4" rx="5.9" ry="5.1" transform="rotate(111 195.7 459.4)" fill="url(#rC)"/><ellipse cx="178.1" cy="361.4" rx="6.4" ry="5.5" transform="rotate(61 178.1 361.4)" fill="url(#rB)"/><ellipse cx="200.3" cy="358.6" rx="5.6" ry="4.8" transform="rotate(108 200.3 358.6)" fill="url(#gC)"/><ellipse cx="148.4" cy="333.5" rx="5.5" ry="5.1" transform="rotate(107 148.4 333.5)" fill="url(#gA)"/><ellipse cx="128.4" cy="434.4" rx="6" ry="5.1" transform="rotate(73 128.4 434.4)" fill="url(#gB)"/><ellipse cx="190.1" cy="378.1" rx="6" ry="5.2" transform="rotate(73 190.1 378.1)" fill="url(#rA)"/><ellipse cx="130.8" cy="344.7" rx="5.2" ry="4.7" transform="rotate(111 130.8 344.7)" fill="url(#gD)"/><ellipse cx="141" cy="430.7" rx="5.4" ry="4.8" transform="rotate(83 141 430.7)" fill="url(#gD)"/><ellipse cx="219.8" cy="351.2" rx="6.2" ry="5.3" transform="rotate(66 219.8 351.2)" fill="url(#rC)"/><ellipse cx="149.3" cy="437.1" rx="5.5" ry="4.7" transform="rotate(75 149.3 437.1)" fill="url(#gC)"/><ellipse cx="138.6" cy="448.7" rx="5.9" ry="5.4" transform="rotate(107 138.6 448.7)" fill="url(#rC)"/><ellipse cx="162.9" cy="464.6" rx="5.9" ry="5" transform="rotate(71 162.9 464.6)" fill="url(#rB)"/><ellipse cx="177.1" cy="408.4" rx="6.1" ry="5.3" transform="rotate(101 177.1 408.4)" fill="url(#rC)"/><ellipse cx="208.7" cy="447.3" rx="5.9" ry="5.4" transform="rotate(85 208.7 447.3)" fill="url(#rC)"/><ellipse cx="200.3" cy="377.1" rx="5.8" ry="5.2" transform="rotate(99 200.3 377.1)" fill="url(#gA)"/><ellipse cx="222.6" cy="378.1" rx="6.2" ry="5.6" transform="rotate(100 222.6 378.1)" fill="url(#rB)"/><ellipse cx="192" cy="424.2" rx="5.6" ry="5" transform="rotate(71 192 424.2)" fill="url(#gB)"/><ellipse cx="212.4" cy="331.7" rx="5.5" ry="4.8" transform="rotate(70 212.4 331.7)" fill="url(#gB)"/><ellipse cx="193.8" cy="435.3" rx="6.1" ry="5.2" transform="rotate(78 193.8 435.3)" fill="url(#rA)"/><ellipse cx="231.2" cy="380.8" rx="6.2" ry="5.5" transform="rotate(79 231.2 380.8)" fill="url(#rB)"/><ellipse cx="186.4" cy="335.4" rx="6.1" ry="5.3" transform="rotate(117 186.4 335.4)" fill="url(#rB)"/><ellipse cx="215.2" cy="386.4" rx="5.4" ry="5" transform="rotate(99 215.2 386.4)" fill="url(#gB)"/><ellipse cx="127.4" cy="465.7" rx="5.9" ry="5" transform="rotate(74 127.4 465.7)" fill="url(#rB)"/><ellipse cx="157.7" cy="416.7" rx="5.3" ry="5.1" transform="rotate(119 157.7 416.7)" fill="url(#rB)"/><ellipse cx="126.6" cy="336" rx="6.1" ry="5.5" transform="rotate(113 126.6 336)" fill="url(#rB)"/><ellipse cx="229.6" cy="351.3" rx="5.7" ry="5.2" transform="rotate(68 229.6 351.3)" fill="url(#rB)"/><ellipse cx="174.4" cy="419.5" rx="6" ry="5.1" transform="rotate(106 174.4 419.5)" fill="url(#gA)"/><ellipse cx="191.1" cy="398.2" rx="5.8" ry="5.1" transform="rotate(87 191.1 398.2)" fill="url(#gC)"/><ellipse cx="189.5" cy="343.4" rx="5.9" ry="5.6" transform="rotate(68 189.5 343.4)" fill="url(#rB)"/><ellipse cx="171.6" cy="369.7" rx="5.4" ry="4.9" transform="rotate(105 171.6 369.7)" fill="url(#gB)"/><ellipse cx="163.2" cy="398.2" rx="6.4" ry="5.5" transform="rotate(85 163.2 398.2)" fill="url(#rB)"/><ellipse cx="146.5" cy="398.2" rx="5.2" ry="4.9" transform="rotate(111 146.5 398.2)" fill="url(#gD)"/><ellipse cx="146.5" cy="365.1" rx="5.6" ry="5.1" transform="rotate(98 146.5 365.1)" fill="url(#rB)"/><ellipse cx="131.9" cy="458.5" rx="6" ry="5.3" transform="rotate(76 131.9 458.5)" fill="url(#rB)"/><ellipse cx="146.5" cy="353.9" rx="5.6" ry="5.1" transform="rotate(92 146.5 353.9)" fill="url(#rA)"/><ellipse cx="137.3" cy="356.7" rx="5.4" ry="4.7" transform="rotate(102 137.3 356.7)" fill="url(#gA)"/><ellipse cx="154" cy="406.5" rx="5.9" ry="5.2" transform="rotate(84 154 406.5)" fill="url(#rA)"/><ellipse cx="141.3" cy="419.7" rx="6.1" ry="5.2" transform="rotate(95 141.3 419.7)" fill="url(#rB)"/><ellipse cx="207.1" cy="413.6" rx="6" ry="5.5" transform="rotate(60 207.1 413.6)" fill="url(#rB)"/><ellipse cx="204" cy="430.7" rx="6.5" ry="5.5" transform="rotate(85 204 430.7)" fill="url(#rB)"/><ellipse cx="135.4" cy="366.9" rx="6" ry="5.3" transform="rotate(73 135.4 366.9)" fill="url(#rA)"/><ellipse cx="141.9" cy="462.2" rx="5.1" ry="4.9" transform="rotate(80 141.9 462.2)" fill="url(#gB)"/><ellipse cx="170.7" cy="350.2" rx="5.2" ry="4.8" transform="rotate(88 170.7 350.2)" fill="url(#gA)"/><ellipse cx="155.8" cy="390.8" rx="5.2" ry="5" transform="rotate(83 155.8 390.8)" fill="url(#gC)"/><ellipse cx="202.6" cy="454" rx="5.6" ry="5" transform="rotate(112 202.6 454)" fill="url(#rA)"/><ellipse cx="216.1" cy="370.6" rx="5.3" ry="4.8" transform="rotate(80 216.1 370.6)" fill="url(#gD)"/><ellipse cx="182.6" cy="393.2" rx="5.6" ry="4.8" transform="rotate(85 182.6 393.2)" fill="url(#gB)"/><ellipse cx="142.8" cy="411.2" rx="5.3" ry="5" transform="rotate(117 142.8 411.2)" fill="url(#gA)"/><ellipse cx="155.8" cy="357.7" rx="5.5" ry="4.6" transform="rotate(62 155.8 357.7)" fill="url(#gC)"/><ellipse cx="183.6" cy="323.3" rx="5.6" ry="5.2" transform="rotate(61 183.6 323.3)" fill="url(#gC)"/><ellipse cx="187.3" cy="406.5" rx="5.3" ry="4.7" transform="rotate(66 187.3 406.5)" fill="url(#gD)"/><ellipse cx="201.3" cy="386.4" rx="5.7" ry="5.3" transform="rotate(82 201.3 386.4)" fill="url(#rB)"/><ellipse cx="209.6" cy="353" rx="5.9" ry="5.2" transform="rotate(106 209.6 353)" fill="url(#gA)"/><ellipse cx="208.7" cy="394.5" rx="5.4" ry="4.8" transform="rotate(115 208.7 394.5)" fill="url(#gD)"/><ellipse cx="190.6" cy="466.4" rx="6" ry="5.2" transform="rotate(64 190.6 466.4)" fill="url(#rB)"/><ellipse cx="172.5" cy="379" rx="5.4" ry="4.7" transform="rotate(111 172.5 379)" fill="url(#gB)"/><ellipse cx="180.9" cy="372.5" rx="5.9" ry="5" transform="rotate(106 180.9 372.5)" fill="url(#rB)"/><ellipse cx="213.3" cy="321.5" rx="5.3" ry="4.9" transform="rotate(90 213.3 321.5)" fill="url(#gB)"/><ellipse cx="221.7" cy="426.9" rx="6.4" ry="5.5" transform="rotate(66 221.7 426.9)" fill="url(#rC)"/><ellipse cx="152.1" cy="344.7" rx="5.8" ry="5" transform="rotate(102 152.1 344.7)" fill="url(#gB)"/><ellipse cx="161.4" cy="347.5" rx="5.9" ry="5" transform="rotate(76 161.4 347.5)" fill="url(#gB)"/><ellipse cx="219.8" cy="451.1" rx="5.5" ry="4.9" transform="rotate(86 219.8 451.1)" fill="url(#gB)"/><ellipse cx="200.3" cy="404.7" rx="6" ry="5.1" transform="rotate(109 200.3 404.7)" fill="url(#rA)"/><ellipse cx="230.2" cy="464.9" rx="6" ry="5.5" transform="rotate(87 230.2 464.9)" fill="url(#rB)"/><ellipse cx="180.9" cy="348.4" rx="5.8" ry="5" transform="rotate(70 180.9 348.4)" fill="url(#rA)"/><ellipse cx="221.2" cy="317.1" rx="6" ry="5.5" transform="rotate(112 221.2 317.1)" fill="url(#rB)"/><ellipse cx="166" cy="361.4" rx="5.8" ry="5" transform="rotate(65 166 361.4)" fill="url(#rB)"/><ellipse cx="139.1" cy="334.5" rx="5.6" ry="4.9" transform="rotate(101 139.1 334.5)" fill="url(#gB)"/><ellipse cx="186.4" cy="447.3" rx="6.1" ry="5.3" transform="rotate(65 186.4 447.3)" fill="url(#rA)"/><ellipse cx="145.6" cy="386.4" rx="5.5" ry="5" transform="rotate(94 145.6 386.4)" fill="url(#gB)"/><ellipse cx="194.8" cy="326.1" rx="5.9" ry="5.3" transform="rotate(104 194.8 326.1)" fill="url(#rB)"/><ellipse cx="202.2" cy="420.5" rx="5.4" ry="5" transform="rotate(75 202.2 420.5)" fill="url(#gA)"/><ellipse cx="133.6" cy="403.8" rx="5.4" ry="5.1" transform="rotate(92 133.6 403.8)" fill="url(#rB)"/><ellipse cx="206.8" cy="338.2" rx="5.1" ry="4.7" transform="rotate(89 206.8 338.2)" fill="url(#gB)"/><ellipse cx="150.3" cy="425.1" rx="6.3" ry="5.6" transform="rotate(76 150.3 425.1)" fill="url(#rA)"/><ellipse cx="229.5" cy="370.6" rx="5.5" ry="5.1" transform="rotate(70 229.5 370.6)" fill="url(#rB)"/><ellipse cx="166" cy="424.2" rx="6.1" ry="5.1" transform="rotate(93 166 424.2)" fill="url(#rB)"/><ellipse cx="201.3" cy="347.5" rx="5.9" ry="5" transform="rotate(89 201.3 347.5)" fill="url(#rB)"/><ellipse cx="158.6" cy="433.4" rx="5.9" ry="5.3" transform="rotate(86 158.6 433.4)" fill="url(#rA)"/><ellipse cx="160.5" cy="317.2" rx="5.4" ry="4.6" transform="rotate(88 160.5 317.2)" fill="url(#gB)"/><ellipse cx="196.8" cy="317.6" rx="5.7" ry="5" transform="rotate(63 196.8 317.6)" fill="url(#rB)"/><ellipse cx="154.9" cy="367.9" rx="5.6" ry="4.8" transform="rotate(67 154.9 367.9)" fill="url(#gB)"/><ellipse cx="126.6" cy="364.9" rx="6.2" ry="5.4" transform="rotate(73 126.6 364.9)" fill="url(#rB)"/><ellipse cx="221.7" cy="411.2" rx="6.1" ry="5.3" transform="rotate(119 221.7 411.2)" fill="url(#rB)"/><ellipse cx="228" cy="417.5" rx="5.6" ry="5" transform="rotate(104 228 417.5)" fill="url(#gA)"/><ellipse cx="162.3" cy="370.6" rx="5.4" ry="4.7" transform="rotate(69 162.3 370.6)" fill="url(#gA)"/><ellipse cx="225.3" cy="403.6" rx="5.3" ry="5" transform="rotate(87 225.3 403.6)" fill="url(#rB)"/><ellipse cx="130.8" cy="414" rx="5.8" ry="5.1" transform="rotate(102 130.8 414)" fill="url(#rB)"/><ellipse cx="154" cy="324.3" rx="6.3" ry="5.4" transform="rotate(107 154 324.3)" fill="url(#rB)"/><ellipse cx="173.4" cy="322.4" rx="5.9" ry="5" transform="rotate(85 173.4 322.4)" fill="url(#gB)"/><ellipse cx="142.8" cy="376.2" rx="5.8" ry="5" transform="rotate(109 142.8 376.2)" fill="url(#gC)"/><ellipse cx="156.7" cy="443.6" rx="5.8" ry="5" transform="rotate(95 156.7 443.6)" fill="url(#rB)"/><ellipse cx="154.9" cy="459.4" rx="5.7" ry="5.2" transform="rotate(88 154.9 459.4)" fill="url(#gB)"/><ellipse cx="230.8" cy="393.4" rx="5.7" ry="5.2" transform="rotate(92 230.8 393.4)" fill="url(#rB)"/><ellipse cx="182.7" cy="433.4" rx="6.4" ry="5.5" transform="rotate(96 182.7 433.4)" fill="url(#rA)"/><ellipse cx="231.1" cy="425.8" rx="5.8" ry="5.1" transform="rotate(111 231.1 425.8)" fill="url(#rA)"/><ellipse cx="231.3" cy="434.3" rx="5.9" ry="5.1" transform="rotate(94 231.3 434.3)" fill="url(#gA)"/><ellipse cx="165.9" cy="389.2" rx="5.4" ry="4.9" transform="rotate(76 165.9 389.2)" fill="url(#gB)"/><ellipse cx="197.5" cy="447.3" rx="6.5" ry="5.5" transform="rotate(88 197.5 447.3)" fill="url(#rB)"/><ellipse cx="129.9" cy="449.2" rx="5.5" ry="5.2" transform="rotate(69 129.9 449.2)" fill="url(#rB)"/><ellipse cx="163.2" cy="380.8" rx="6" ry="5.3" transform="rotate(84 163.2 380.8)" fill="url(#rB)"/><ellipse cx="218" cy="339.1" rx="5.3" ry="5" transform="rotate(75 218 339.1)" fill="url(#rA)"/><ellipse cx="141" cy="345.6" rx="6.4" ry="5.5" transform="rotate(109 141 345.6)" fill="url(#rA)"/><ellipse cx="174.4" cy="456.6" rx="5.7" ry="5.1" transform="rotate(63 174.4 456.6)" fill="url(#gB)"/><ellipse cx="230.5" cy="317.9" rx="6" ry="5.4" transform="rotate(86 230.5 317.9)" fill="url(#rB)"/><ellipse cx="153" cy="377.1" rx="5.5" ry="5.1" transform="rotate(112 153 377.1)" fill="url(#rB)"/><ellipse cx="228.2" cy="448.9" rx="5.6" ry="5" transform="rotate(107 228.2 448.9)" fill="url(#rB)"/><ellipse cx="209.6" cy="379" rx="5.5" ry="5" transform="rotate(73 209.6 379)" fill="url(#rB)"/><ellipse cx="167" cy="410.3" rx="5.9" ry="5" transform="rotate(98 167 410.3)" fill="url(#rA)"/><ellipse cx="175.3" cy="443.6" rx="6.1" ry="5.6" transform="rotate(102 175.3 443.6)" fill="url(#rB)"/><ellipse cx="164.2" cy="453.8" rx="5.9" ry="5.3" transform="rotate(87 164.2 453.8)" fill="url(#rA)"/><ellipse cx="156.7" cy="336.3" rx="5.3" ry="4.7" transform="rotate(104 156.7 336.3)" fill="url(#gA)"/><ellipse cx="221.7" cy="328" rx="5.8" ry="5" transform="rotate(111 221.7 328)" fill="url(#rB)"/><ellipse cx="180.9" cy="384.5" rx="5.9" ry="5.5" transform="rotate(60 180.9 384.5)" fill="url(#rB)"/></g></defs>
<g clip-path="url(#cLA)"><use href="#pLA"/><use href="#pLA" filter="url(#bl)" opacity="0.3"/></g><g clip-path="url(#cRA)"><use href="#pRA"/><use href="#pRA" filter="url(#bl)" opacity="0.3"/></g><g clip-path="url(#cLB)"><use href="#pLB"/><use href="#pLB" filter="url(#bl)" opacity="0.3"/></g><g clip-path="url(#cRB)"><use href="#pRB"/><use href="#pRB" filter="url(#bl)" opacity="0.3"/></g><g clip-path="url(#cLC)"><use href="#pLC"/><use href="#pLC" filter="url(#bl)" opacity="0.3"/></g><g clip-path="url(#cRC)"><use href="#pRC"/><use href="#pRC" filter="url(#bl)" opacity="0.3"/></g>
</svg>
<svg class="ch" width="550" height="476" viewBox="0 0 550 476">
<defs><filter id="b2" x="-2%" y="-2%" width="104%" height="104%"><feGaussianBlur stdDeviation="1"/></filter></defs>
<g id="chg"><path d="M312.9 15.2V122.5H530.6" fill="none" stroke="#6b6b6b" stroke-width="1.6"/><text x="304.4" y="125.9" text-anchor="end">0</text><text x="304.4" y="99.2" text-anchor="end">0.2</text><text x="304.4" y="72.6" text-anchor="end">0.4</text><text x="304.4" y="45.9" text-anchor="end">0.6</text><text x="304.4" y="19.2" text-anchor="end">0.8</text><text x="312.9" y="138.2" text-anchor="middle">450</text><text x="356.4" y="138.2" text-anchor="middle">560</text><text x="400" y="138.2" text-anchor="middle">670</text><text x="443.5" y="138.2" text-anchor="middle">780</text><text x="487.1" y="138.2" text-anchor="middle">890</text><text x="530.6" y="138.2" text-anchor="middle">1000</text><text x="440.9" y="150.7" text-anchor="middle">Wavelength (nm)</text><text transform="translate(288.2 82.1) rotate(-90)" text-anchor="middle">Reflectance</text><line x1="343.8" y1="15.8" x2="377.1" y2="15.8" stroke="#00b050" stroke-width="2.2"/><text x="379.6" y="19.2">100% Unripe</text><line x1="443.6" y1="15.8" x2="476.4" y2="15.8" stroke="#ff0000" stroke-width="2.3" stroke-dasharray="7 5.4"/><text x="479.8" y="19.2">80% Unripe</text><path d="M313.1 116.2C313.6 116.5 314.7 118 316 118.1C317.3 118.2 319.2 116.8 320.9 116.7C322.6 116.6 324.6 117.5 326.4 117.5C328.2 117.5 330 117 331.8 116.7C333.6 116.4 335.7 116.3 337.3 115.6C338.9 114.9 340.2 113.6 341.6 112.4C343.1 111.2 344.5 109.7 346 108.5C347.5 107.3 348.9 106.3 350.4 105.3C351.8 104.2 353.1 102.9 354.7 102.2C356.3 101.5 358.5 101.1 360.2 100.9C361.9 100.8 363.1 100.9 365 101.3C366.9 101.7 369.1 102.8 371.5 103.5C373.9 104.2 376.6 104.8 379.2 105.3C381.8 105.8 384.6 106 386.8 106.4C389 106.8 390.5 106.9 392.3 107.5C394.1 108.1 395.9 109.1 397.7 110C399.5 110.9 401.6 112.1 403.2 112.7C404.8 113.3 406.1 114 407.5 113.8C408.9 113.6 410 113 411.4 111.6C412.8 110.1 414.5 107.4 415.6 105.1C416.8 102.8 417.4 100 418.3 97.5C419.2 95 420 93.5 421 90.4C422 87.3 423.1 82.1 424.1 79.1C425.1 76.1 426.1 74.3 427.2 72.2C428.3 70.1 429.7 68.3 431 66.5C432.3 64.7 433.2 63 435.2 61.5C437.1 60 440 59 442.7 57.7C445.4 56.4 448.9 55 451.6 53.9C454.3 52.8 456.4 51.8 459.1 50.8C461.8 49.8 465.2 48.7 467.9 48.2C470.5 47.7 473 47.8 475 47.6C477 47.4 477.5 47.3 480 47.2C482.5 47.1 487.2 46.8 490 46.8C492.8 46.8 494.8 47.2 497 47.4C499.2 47.6 501.3 47.6 503 48C504.7 48.4 505.7 48.9 507 49.8C508.3 50.7 509.7 51.8 511 53.3C512.3 54.8 513.8 56.8 515 58.6C516.2 60.4 517 62.2 518 64C519 65.8 520 67.9 521 69.3C522 70.7 522.8 71.6 524 72.2C525.2 72.8 526.8 72.8 528 73.1C529.2 73.4 530.5 73.8 531 74" fill="none" stroke="#00b050" stroke-width="2.2" stroke-linejoin="round"/><path d="M313.1 115.3C313.7 115.5 315.2 116.4 316.5 116.7C317.8 117 319.4 117.4 320.9 117.3C322.4 117.2 323.7 116.4 325.3 116.2C326.9 116 329.1 116.2 330.7 116.2C332.3 116.2 333.6 116.3 335.1 116C336.6 115.7 338.1 115.1 339.5 114.5C340.9 113.9 342.5 113.1 343.8 112.4C345.1 111.7 345.8 110.9 347.1 110.2C348.4 109.5 350.1 108.6 351.5 108C352.9 107.4 354 106.9 355.8 106.4C357.6 106 360.9 105.3 362.4 105.3C363.9 105.3 363.6 105.9 365 106.2C366.4 106.5 368.7 107 370.5 107.3C372.3 107.6 374.1 108 375.9 108.1C377.7 108.2 379.2 108.1 381.4 108.1C383.6 108 387 107.8 389 107.8C391 107.8 391.4 107.6 393.4 107.8C395.4 108 398.8 108.7 401 108.9C403.2 109.1 404.9 109.2 406.5 108.9C408.1 108.6 409.6 108.2 410.8 107.3C412.1 106.4 413.1 104.9 414 103.5C414.9 102.1 415.5 100.8 416.2 99.1C416.9 97.4 417.7 95.4 418.4 93.6C419.1 91.8 419.6 90.4 420.5 88.2C421.4 86 422.2 83 423.6 80.4C425 77.8 427.1 74.8 428.6 72.8C430.1 70.8 431.2 69.8 432.4 68.4C433.6 67 434.2 65.9 435.8 64.6C437.4 63.3 440 61.8 442.1 60.8C444.2 59.8 446.2 59.3 448.4 58.3C450.6 57.2 453.1 55.6 455.3 54.5C457.5 53.4 459.5 52.3 461.6 51.4C463.7 50.5 466.2 49.5 467.9 48.9C469.6 48.2 470 47.9 472 47.5C474 47.1 477 46.8 480 46.6C483 46.4 487.2 46.2 490 46.2C492.8 46.2 494.8 46.6 497 46.8C499.2 47 501.3 47.2 503 47.6C504.7 48 505.7 48.5 507 49.4C508.3 50.3 509.7 51.5 511 53C512.3 54.5 513.8 56.4 515 58.2C516.2 60 517 61.8 518 63.6C519 65.4 520 67.5 521 68.8C522 70.1 522.8 71 524 71.6C525.2 72.2 526.8 72.3 528 72.6C529.2 72.9 530.5 73.4 531 73.6" fill="none" stroke="#ff0000" stroke-width="2.5" stroke-dasharray="6.5 5.5"/><path d="M312.9 170.1V278.8H530.6" fill="none" stroke="#6b6b6b" stroke-width="1.6"/><text x="304.4" y="282.2" text-anchor="end">0</text><text x="304.4" y="255.2" text-anchor="end">0.2</text><text x="304.4" y="228.2" text-anchor="end">0.4</text><text x="304.4" y="201.1" text-anchor="end">0.6</text><text x="304.4" y="174.1" text-anchor="end">0.8</text><text x="312.9" y="294.3" text-anchor="middle">450</text><text x="356.4" y="294.3" text-anchor="middle">560</text><text x="400" y="294.3" text-anchor="middle">670</text><text x="443.5" y="294.3" text-anchor="middle">780</text><text x="487.1" y="294.3" text-anchor="middle">890</text><text x="530.6" y="294.3" text-anchor="middle">1000</text><text x="440.9" y="305.8" text-anchor="middle">Wavelength (nm)</text><text transform="translate(288.2 237.1) rotate(-90)" text-anchor="middle">Reflectance</text><line x1="339.8" y1="171.0" x2="372.1" y2="171.0" stroke="#00b050" stroke-width="2.2"/><text x="374.8" y="174.4">100% Unripe</text><line x1="435.6" y1="171.0" x2="468.0" y2="171.0" stroke="#ff0000" stroke-width="2.3" stroke-dasharray="7 5.4"/><text x="471.0" y="174.4">60% Unripe</text><path d="M313.1 272.8C313.6 273.1 314.7 274.4 316 274.5C317.3 274.6 319.2 273.3 320.9 273.1C322.6 272.9 324.6 273.1 326.4 273.1C328.2 273.1 330.4 273.2 331.8 273.1C333.2 273 333.8 273 335.1 272.5C336.4 272 337.9 271.1 339.5 269.9C341.1 268.7 343.1 266.9 344.9 265.4C346.6 263.9 348.3 262.2 350 261C351.7 259.8 353.2 258.9 354.9 258.2C356.6 257.5 358.3 257.1 360 256.8C361.7 256.6 363.1 256.4 365 256.7C366.9 257 369.1 258.2 371.5 258.9C373.9 259.6 376.6 260.4 379.2 260.9C381.8 261.4 384.6 261.6 386.8 262C389 262.4 390.5 262.6 392.3 263.3C394.1 264.1 395.9 265.5 397.7 266.5C399.5 267.5 401.6 268.7 403.2 269.3C404.8 269.9 406.2 270.2 407.5 270.1C408.8 270 409.7 269.9 410.8 268.7C411.9 267.5 413.1 265.1 414.1 262.7C415.1 260.2 415.9 256.7 416.8 254C417.7 251.3 418.3 250.1 419.5 246.4C420.7 242.7 422.4 235.2 423.8 231.6C425.2 228 426.1 226.8 427.6 224.7C429.1 222.6 430.7 220.7 432.6 219C434.5 217.3 436.7 215.9 439 214.6C441.3 213.3 443.8 212.4 446.5 211.4C449.2 210.4 452.2 209.5 455.3 208.3C458.4 207.2 462.1 205.3 465.4 204.5C468.7 203.7 472.6 203.5 475 203.2C477.4 202.8 477.5 202.6 480 202.4C482.5 202.2 487.2 201.8 490 201.8C492.8 201.8 494.8 202.1 497 202.4C499.2 202.7 501.3 203.1 503 203.6C504.7 204.1 505.7 204.4 507 205.4C508.3 206.4 509.7 207.9 511 209.5C512.3 211.1 513.8 213 515 214.8C516.2 216.6 517 218.3 518 220.1C519 221.9 520 224.1 521 225.5C522 226.9 522.8 227.8 524 228.4C525.2 229 526.8 228.8 528 229C529.2 229.2 530.5 229.5 531 229.6" fill="none" stroke="#00b050" stroke-width="2.2" stroke-linejoin="round"/><path d="M313.1 272.8C313.7 273 315.2 273.9 316.5 274C317.8 274.1 319.4 273.6 320.9 273.6C322.4 273.6 323.5 273.8 325.3 274C327.1 274.2 330 274.6 331.8 274.7C333.6 274.8 334.4 274.7 336.2 274.5C338 274.3 340.7 273.8 342.7 273.4C344.7 273 346.4 272.6 348.2 272.3C350 272 352 271.5 353.6 271.3C355.2 271.1 355.8 271 358 271C360.2 271 364.2 271.4 366.6 271.5C369 271.6 370.3 271.8 372.6 271.7C374.9 271.6 378.1 271.4 380.3 271.2C382.5 271 383.7 271.1 385.7 270.4C387.7 269.7 390.3 268 392.3 267.1C394.3 266.2 395.7 265.6 397.7 264.9C399.7 264.2 402.3 263.3 404.3 262.7C406.3 262.1 408.1 262 409.7 261.1C411.3 260.2 412.8 258.8 414.1 257.3C415.4 255.9 416.2 254.6 417.4 252.4C418.6 250.2 420 246.4 421.3 244.2C422.6 242 423.6 241 425.1 239.2C426.6 237.4 428.6 235 430.1 233.5C431.6 232 432 231.7 433.9 230.3C435.8 228.9 439 226.9 441.5 225.3C444 223.7 446.5 222.4 449 220.9C451.5 219.4 454.1 217.9 456.6 216.5C459.1 215.1 462.1 213.6 464.2 212.7C466.3 211.8 466.6 211.4 469.2 210.8C471.8 210.2 476.5 209.4 480 208.9C483.5 208.4 487.2 208.2 490 208.1C492.8 208 494.8 207.9 497 208.1C499.2 208.3 501.3 209 503 209.5C504.7 210 505.7 210.3 507 211.3C508.3 212.3 509.8 214 511 215.4C512.2 216.8 512.8 217.9 514 219.6C515.2 221.3 516.8 223.8 518 225.5C519.2 227.2 520 228.4 521 229.6C522 230.8 522.8 231.9 524 232.6C525.2 233.3 526.8 233.7 528 234C529.2 234.3 530.5 234.2 531 234.3" fill="none" stroke="#ff0000" stroke-width="2.5" stroke-dasharray="6.5 5.5"/><path d="M312.9 325.4V435.1H530.6" fill="none" stroke="#6b6b6b" stroke-width="1.6"/><text x="304.4" y="438.5" text-anchor="end">0</text><text x="304.4" y="411.2" text-anchor="end">0.2</text><text x="304.4" y="383.9" text-anchor="end">0.4</text><text x="304.4" y="356.7" text-anchor="end">0.6</text><text x="304.4" y="329.4" text-anchor="end">0.8</text><text x="312.9" y="450.6" text-anchor="middle">450</text><text x="356.4" y="450.6" text-anchor="middle">560</text><text x="400" y="450.6" text-anchor="middle">670</text><text x="443.5" y="450.6" text-anchor="middle">780</text><text x="487.1" y="450.6" text-anchor="middle">890</text><text x="530.6" y="450.6" text-anchor="middle">1000</text><text x="440.9" y="461.8" text-anchor="middle">Wavelength (nm)</text><text transform="translate(288.2 393) rotate(-90)" text-anchor="middle">Reflectance</text><line x1="340.0" y1="325.8" x2="372.5" y2="325.8" stroke="#00b050" stroke-width="2.2"/><text x="375.0" y="329.2">100% Unripe</text><line x1="436.0" y1="325.8" x2="468.0" y2="325.8" stroke="#ff0000" stroke-width="2.3" stroke-dasharray="7 5.4"/><text x="471.4" y="329.2">40% Unripe</text><path d="M313.1 427.8C313.5 428.2 314.6 429.8 315.5 430C316.4 430.2 317.4 429.4 318.7 429.2C320 429 321.6 428.7 323.1 428.6C324.6 428.6 326.1 428.8 327.5 428.9C328.9 429 330.5 429.2 331.8 429.2C333.1 429.2 334 429.2 335.1 428.9C336.2 428.6 337.1 428.2 338.4 427.3C339.7 426.4 341.2 424.9 342.7 423.5C344.1 422.1 345.6 420.4 347.1 419.1C348.6 417.8 350.1 416.7 351.5 415.8C352.9 414.9 354.4 414.1 355.8 413.6C357.2 413.1 358.7 412.9 360.2 412.9C361.7 412.9 363.1 413.2 365 413.6C366.9 414 369.1 414.7 371.5 415.3C373.9 415.9 376.6 416.9 379.2 417.4C381.8 417.9 384.6 417.9 386.8 418.3C389 418.7 390.5 419.2 392.3 419.9C394.1 420.6 395.9 421.7 397.7 422.6C399.5 423.6 401.5 425 403.2 425.6C404.9 426.2 406.7 426.4 408.1 426.2C409.5 426 410.2 425.7 411.4 424.3C412.6 422.9 414.3 420.4 415.4 417.7C416.5 415 417.2 410.8 418.1 407.9C419 405 419.9 402.8 420.8 400.3C421.7 397.9 422.7 395.6 423.6 393.2C424.5 390.8 425.3 387.8 426.3 385.6C427.3 383.4 428.3 382.1 429.6 380.2C430.9 378.3 432.1 376.1 433.9 374.4C435.7 372.7 437.5 371.4 440.2 369.9C442.9 368.4 447.4 366.5 450.3 365.2C453.2 363.9 455.4 362.9 457.9 362C460.4 361.1 462.5 360 465.4 359.5C468.2 359 472.6 359.1 475 358.9C477.4 358.6 477.5 358.2 480 358C482.5 357.8 487.2 357.4 490 357.4C492.8 357.4 494.8 357.7 497 358C499.2 358.3 501.6 358.8 503 359.2C504.4 359.6 504.3 359.3 505.5 360.4C506.7 361.5 508.8 364 510.2 365.7C511.6 367.4 512.6 368.7 513.7 370.4C514.8 372.1 515.7 374 516.7 375.7C517.7 377.4 518.6 379.1 519.6 380.5C520.6 381.9 521.4 383.2 522.6 384C523.8 384.8 525.3 385 526.7 385.2C528.1 385.4 530.2 385.2 530.9 385.2" fill="none" stroke="#00b050" stroke-width="2.2" stroke-linejoin="round"/><path d="M312.7 431.1C313.5 431.1 315.9 431.2 317.6 431.1C319.3 431 320.9 430.2 323.1 430.3C325.3 430.4 328.5 431.4 330.7 431.4C332.9 431.4 334.4 430.8 336.2 430.5C338 430.2 339.6 430.1 341.6 429.7C343.6 429.3 346.2 428.5 348.2 428.1C350.2 427.7 351.4 427.4 353.6 427.1C355.8 426.8 359.4 426.4 361.3 426.4C363.2 426.4 363.5 426.8 365 427C366.5 427.2 368.7 427.7 370.5 427.8C372.3 427.9 374.3 427.9 375.9 427.8C377.5 427.7 378.5 427.4 380.3 427C382.1 426.6 384.8 426 386.8 425.4C388.8 424.8 390.1 424 392.3 423.2C394.5 422.4 397.7 421.1 399.9 420.5C402.1 419.9 403.6 420.3 405.4 419.4C407.2 418.5 409.2 416.6 410.8 415C412.4 413.4 413.8 411.8 415.2 410.1C416.6 408.4 417.8 406.5 419 404.7C420.2 402.9 421 401.5 422.3 399.2C423.6 396.9 425.5 392.8 427 390.7C428.5 388.6 429.7 388.1 431.4 386.9C433.1 385.7 434.8 384.8 437.1 383.4C439.4 382 442.7 379.9 445.3 378.4C447.9 376.9 450.3 376.1 452.8 374.6C455.3 373.1 457.9 371.1 460.4 369.6C462.9 368.1 465.5 366.7 467.9 365.8C470.3 364.9 473 364.8 475 364.5C477 364.2 477.5 364.2 480 363.9C482.5 363.6 487.2 362.9 490 362.7C492.8 362.5 494.8 362.5 497 362.7C499.2 362.9 501 363 503 363.9C505 364.8 507.3 366.5 509 368C510.7 369.5 511.9 371.2 513.1 372.8C514.3 374.4 515.1 375.8 516.1 377.5C517.1 379.2 518.1 381.2 519.1 382.8C520.1 384.4 520.8 386 522 387C523.2 388 524.6 388.6 526.1 389C527.6 389.4 530.1 389.6 530.9 389.7" fill="none" stroke="#ff0000" stroke-width="2.5" stroke-dasharray="6.5 5.5"/>
<text x="7.0" y="20.8" font-weight="bold" style="fill:#1a1a1a;font-size:10.4px">(A)</text><text x="8.5" y="177.0" font-weight="bold" style="fill:#1a1a1a;font-size:10.4px">(B)</text><text x="8.3" y="332.1" font-weight="bold" style="fill:#1a1a1a;font-size:9.7px">(C)</text></g>
<use href="#chg" filter="url(#b2)" opacity="0.35"/>
</svg>
</body></html>
